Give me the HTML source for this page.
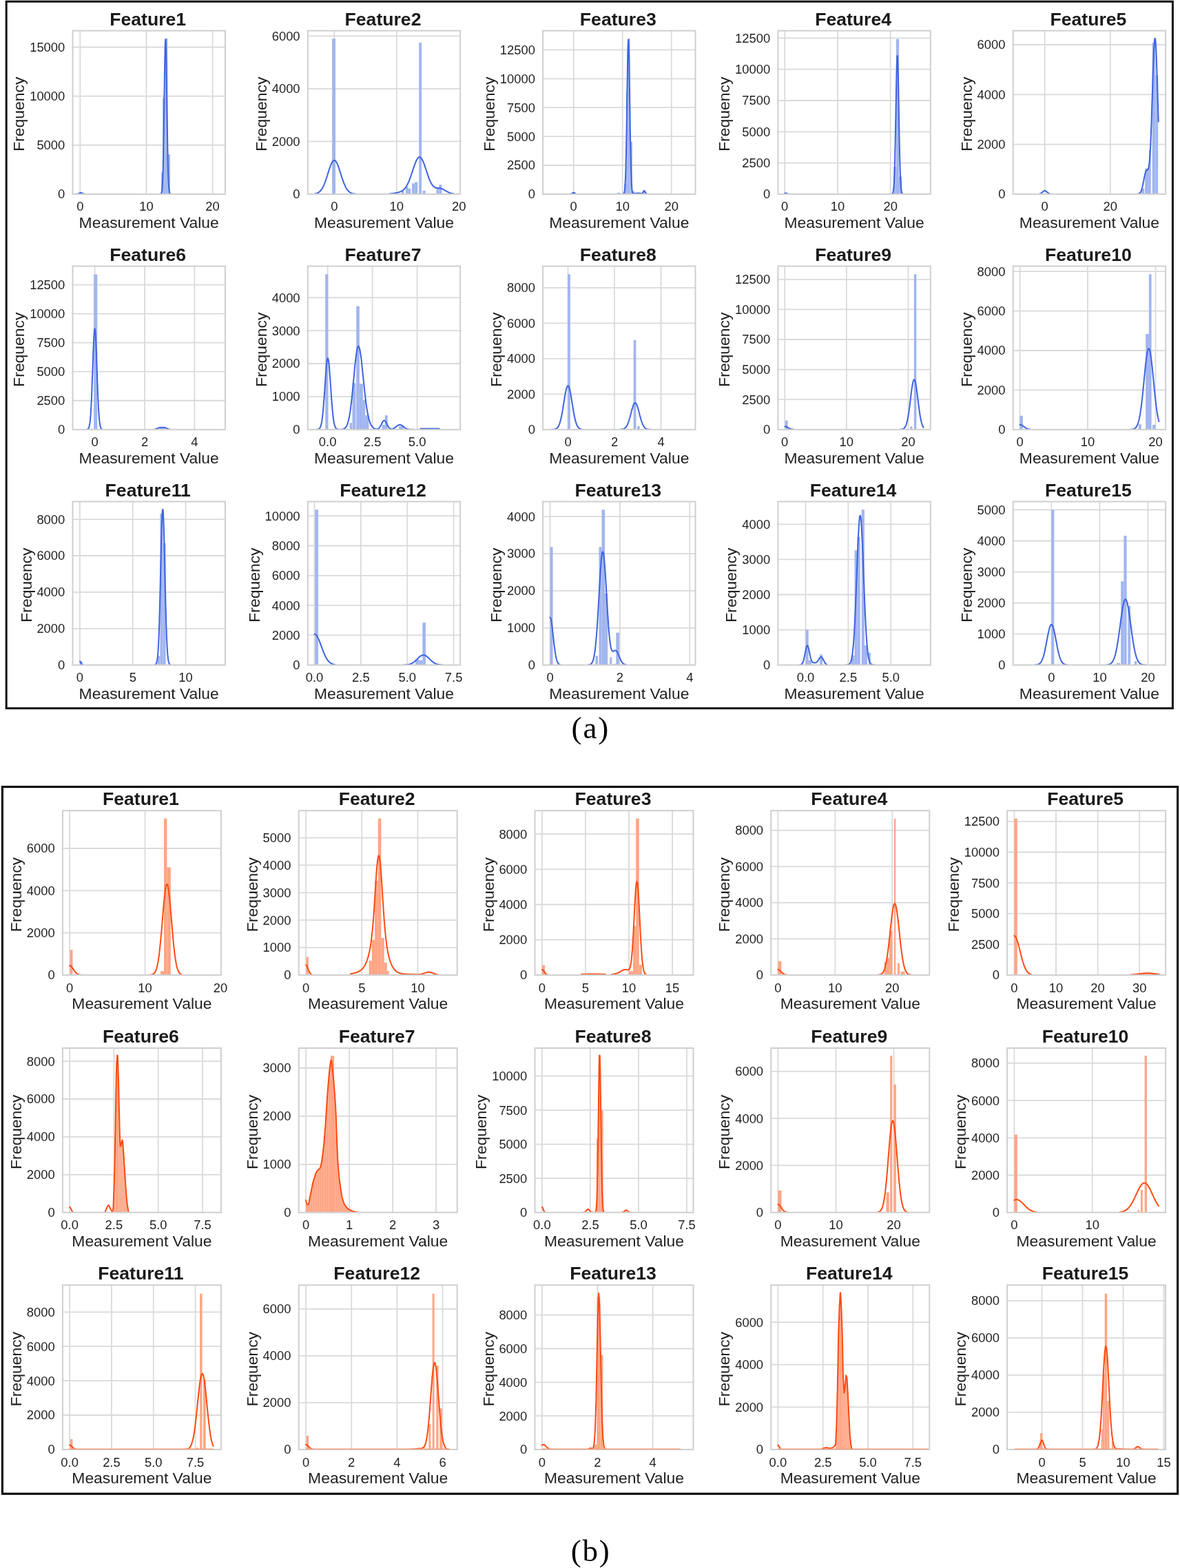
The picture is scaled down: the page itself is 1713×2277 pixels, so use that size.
<!DOCTYPE html>
<html><head><meta charset="utf-8"><title>Feature distributions</title>
<style>
html,body{margin:0;padding:0;background:#fff;}
body{width:1713px;height:2277px;overflow:hidden;}
svg{display:block;}
text{font-family:"Liberation Sans",Arial,sans-serif;fill:#1f1f1f;}
.t{font-weight:bold;text-anchor:middle;fill:#1a1a1a;}
.xt{text-anchor:middle;}
.xl{text-anchor:middle;}
.yt{text-anchor:end;}
.yl{text-anchor:middle;}
.g{stroke:#dadada;stroke-width:1.8;}
.cap{font-family:"Liberation Serif","Times New Roman",serif;fill:#000;text-anchor:middle;}
</style></head>
<body>
<svg width="1713" height="2277" viewBox="0 0 1713 2277">
<rect x="0" y="0" width="1713" height="2277" fill="#fff"/>
<rect x="9.2" y="2.2" width="1693.2" height="1026.4" fill="none" stroke="#000" stroke-width="2.9"/>
<rect x="3.4" y="1142.6" width="1706.2" height="1026.6" fill="none" stroke="#000" stroke-width="3.1"/>
<line x1="116.30" y1="44.60" x2="116.30" y2="281.90" class="g"/><line x1="212.45" y1="44.60" x2="212.45" y2="281.90" class="g"/><line x1="308.60" y1="44.60" x2="308.60" y2="281.90" class="g"/><line x1="105.50" y1="210.77" x2="326.90" y2="210.77" class="g"/><line x1="105.50" y1="139.63" x2="326.90" y2="139.63" class="g"/><line x1="105.50" y1="68.50" x2="326.90" y2="68.50" class="g"/>
<clipPath id="ca1"><rect x="105.50" y="44.60" width="221.40" height="237.30"/></clipPath>
<g clip-path="url(#ca1)">
<g fill="#a1b5ef"><rect x="234.08" y="250.17" width="1.92" height="31.73"/><rect x="236.01" y="141.76" width="3.65" height="140.14"/><rect x="239.66" y="55.69" width="3.65" height="226.21"/><rect x="243.31" y="224.28" width="3.65" height="57.62"/></g>
<polyline fill="none" stroke="#3d63de" stroke-width="2.0" stroke-linejoin="round" stroke-linecap="round" points="229.8,281.9 229.9,281.9 230.0,281.9 230.2,281.9 230.3,281.9 230.4,281.9 230.6,281.9 230.7,281.9 230.8,281.9 231.0,281.9 231.1,281.9 231.2,281.9 231.4,281.9 231.5,281.9 231.6,281.9 231.8,281.9 231.9,281.9 232.0,281.9 232.2,281.9 232.3,281.9 232.4,281.9 232.6,281.8 232.7,281.8 232.8,281.8 232.9,281.8 233.1,281.7 233.2,281.7 233.3,281.6 233.5,281.5 233.6,281.4 233.7,281.3 233.9,281.1 234.0,280.9 234.1,280.6 234.3,280.3 234.4,279.9 234.5,279.5 234.7,278.9 234.8,278.3 234.9,277.5 235.1,276.5 235.2,275.4 235.3,274.1 235.5,272.6 235.6,270.9 235.7,268.9 235.9,266.6 236.0,264.0 236.1,261.0 236.3,257.6 236.4,253.9 236.5,249.7 236.7,245.1 236.8,240.0 236.9,234.5 237.1,228.5 237.2,221.9 237.3,215.0 237.5,207.5 237.6,199.7 237.7,191.4 237.9,182.8 238.0,173.9 238.1,164.7 238.3,155.4 238.4,146.0 238.5,136.6 238.7,127.2 238.8,118.1 238.9,109.2 239.1,100.8 239.2,92.8 239.3,85.4 239.5,78.7 239.6,72.8 239.7,67.7 239.9,63.6 240.0,60.5 240.1,58.3 240.3,57.2 240.4,57.2 240.5,58.3 240.7,60.5 240.8,63.6 240.9,67.7 241.1,72.8 241.2,78.7 241.3,85.4 241.5,92.8 241.6,100.8 241.7,109.2 241.9,118.1 242.0,127.2 242.1,136.6 242.3,146.0 242.4,155.4 242.5,164.7 242.7,173.9 242.8,182.8 242.9,191.4 243.1,199.7 243.2,207.5 243.3,215.0 243.5,221.9 243.6,228.5 243.7,234.5 243.9,240.0 244.0,245.1 244.1,249.7 244.3,253.9 244.4,257.6 244.5,261.0 244.7,264.0 244.8,266.6 244.9,268.9 245.1,270.9 245.2,272.6 245.3,274.1 245.5,275.4 245.6,276.5 245.7,277.5 245.9,278.3 246.0,278.9 246.1,279.5 246.3,279.9 246.4,280.3 246.5,280.6 246.7,280.9 246.8,281.1 246.9,281.3 247.1,281.4 247.2,281.5 247.3,281.6 247.5,281.7 247.6,281.7 247.7,281.8 247.9,281.8 248.0,281.8 248.1,281.8 248.2,281.9 248.4,281.9 248.5,281.9 248.6,281.9 248.8,281.9 248.9,281.9 249.0,281.9 249.2,281.9 249.3,281.9 249.4,281.9 249.6,281.9 249.7,281.9 249.8,281.9 250.0,281.9 250.1,281.9 250.2,281.9 250.4,281.9 250.5,281.9 250.6,281.9 250.8,281.9 250.9,281.9"/>
<polyline fill="none" stroke="#3d63de" stroke-width="2.0" stroke-linejoin="round" stroke-linecap="round" points="112.5,281.6 112.5,281.6 112.6,281.6 112.6,281.6 112.7,281.6 112.8,281.6 112.8,281.6 112.9,281.5 112.9,281.5 113.0,281.5 113.1,281.5 113.1,281.5 113.2,281.5 113.2,281.4 113.3,281.4 113.4,281.4 113.4,281.4 113.5,281.4 113.5,281.3 113.6,281.3 113.7,281.3 113.7,281.3 113.8,281.3 113.8,281.2 113.9,281.2 114.0,281.2 114.0,281.2 114.1,281.1 114.1,281.1 114.2,281.1 114.3,281.0 114.3,281.0 114.4,281.0 114.4,281.0 114.5,280.9 114.6,280.9 114.6,280.9 114.7,280.9 114.8,280.8 114.8,280.8 114.9,280.8 114.9,280.7 115.0,280.7 115.1,280.7 115.1,280.7 115.2,280.6 115.2,280.6 115.3,280.6 115.4,280.5 115.4,280.5 115.5,280.5 115.5,280.5 115.6,280.4 115.7,280.4 115.7,280.4 115.8,280.4 115.8,280.3 115.9,280.3 116.0,280.3 116.0,280.3 116.1,280.3 116.1,280.2 116.2,280.2 116.3,280.2 116.3,280.2 116.4,280.2 116.4,280.2 116.5,280.1 116.6,280.1 116.6,280.1 116.7,280.1 116.7,280.1 116.8,280.1 116.9,280.1 116.9,280.1 117.0,280.1 117.0,280.1 117.1,280.1 117.2,280.1 117.2,280.1 117.3,280.1 117.4,280.1 117.4,280.1 117.5,280.1 117.5,280.1 117.6,280.1 117.7,280.1 117.7,280.1 117.8,280.1 117.8,280.1 117.9,280.1 118.0,280.1 118.0,280.1 118.1,280.2 118.1,280.2 118.2,280.2 118.3,280.2 118.3,280.2 118.4,280.2 118.4,280.3 118.5,280.3 118.6,280.3 118.6,280.3 118.7,280.3 118.7,280.4 118.8,280.4 118.9,280.4 118.9,280.4 119.0,280.5 119.0,280.5 119.1,280.5 119.2,280.5 119.2,280.6 119.3,280.6 119.3,280.6 119.4,280.7 119.5,280.7 119.5,280.7 119.6,280.7 119.7,280.8 119.7,280.8 119.8,280.8 119.8,280.9 119.9,280.9 120.0,280.9 120.0,280.9 120.1,281.0 120.1,281.0 120.2,281.0 120.3,281.0 120.3,281.1 120.4,281.1 120.4,281.1 120.5,281.2 120.6,281.2 120.6,281.2 120.7,281.2 120.7,281.3 120.8,281.3 120.9,281.3 120.9,281.3 121.0,281.3 121.0,281.4 121.1,281.4 121.2,281.4 121.2,281.4 121.3,281.4 121.3,281.5 121.4,281.5 121.5,281.5 121.5,281.5 121.6,281.5 121.6,281.5 121.7,281.6 121.8,281.6 121.8,281.6 121.9,281.6 121.9,281.6 122.0,281.6 122.1,281.6"/>
</g>
<rect x="105.50" y="44.60" width="221.40" height="237.30" fill="none" stroke="#cfcfcf" stroke-width="2.0"/>
<text x="214.70" y="37.20" class="t" font-size="26.6">Feature1</text>
<text x="116.30" y="306.00" class="xt" font-size="18.4">0</text>
<text x="212.45" y="306.00" class="xt" font-size="18.4">10</text>
<text x="308.60" y="306.00" class="xt" font-size="18.4">20</text>
<text x="216.20" y="331.10" class="xl" font-size="22.9">Measurement Value</text>
<text x="94.30" y="288.30" class="yt" font-size="18.4">0</text>
<text x="94.30" y="217.17" class="yt" font-size="18.4">5000</text>
<text x="94.30" y="146.03" class="yt" font-size="18.4">10000</text>
<text x="94.30" y="74.90" class="yt" font-size="18.4">15000</text>
<text transform="translate(35.33,165.75) rotate(-90)" x="0" y="0" class="yl" font-size="22.9">Frequency</text>
<line x1="485.30" y1="44.60" x2="485.30" y2="281.90" class="g"/><line x1="575.80" y1="44.60" x2="575.80" y2="281.90" class="g"/><line x1="446.80" y1="205.40" x2="668.20" y2="205.40" class="g"/><line x1="446.80" y1="128.90" x2="668.20" y2="128.90" class="g"/><line x1="446.80" y1="52.40" x2="668.20" y2="52.40" class="g"/>
<clipPath id="ca2"><rect x="446.80" y="44.60" width="221.40" height="237.30"/></clipPath>
<g clip-path="url(#ca2)">
<g fill="#a1b5ef"><rect x="482.13" y="56.23" width="4.89" height="225.67"/><rect x="582.95" y="276.32" width="3.35" height="5.58"/><rect x="589.10" y="271.11" width="3.62" height="10.79"/><rect x="592.72" y="273.79" width="3.62" height="8.11"/><rect x="598.06" y="266.22" width="4.07" height="15.68"/><rect x="602.14" y="264.31" width="4.16" height="17.59"/><rect x="608.20" y="61.96" width="3.89" height="219.94"/><rect x="613.63" y="276.93" width="3.98" height="4.97"/><rect x="633.45" y="272.91" width="3.98" height="8.99"/><rect x="637.43" y="268.13" width="3.98" height="13.77"/></g>
<polyline fill="none" stroke="#3d63de" stroke-width="2.0" stroke-linejoin="round" stroke-linecap="round" points="457.2,281.4 457.6,281.3 458.0,281.2 458.3,281.2 458.7,281.1 459.1,281.0 459.4,280.9 459.8,280.7 460.2,280.6 460.5,280.5 460.9,280.3 461.3,280.1 461.6,280.0 462.0,279.8 462.3,279.5 462.7,279.3 463.1,279.0 463.4,278.8 463.8,278.5 464.2,278.2 464.5,277.8 464.9,277.4 465.3,277.0 465.6,276.6 466.0,276.2 466.4,275.7 466.7,275.2 467.1,274.6 467.4,274.1 467.8,273.5 468.2,272.8 468.5,272.2 468.9,271.5 469.3,270.7 469.6,270.0 470.0,269.2 470.4,268.3 470.7,267.5 471.1,266.6 471.5,265.6 471.8,264.7 472.2,263.7 472.5,262.7 472.9,261.6 473.3,260.6 473.6,259.5 474.0,258.4 474.4,257.3 474.7,256.1 475.1,255.0 475.5,253.8 475.8,252.7 476.2,251.5 476.6,250.4 476.9,249.2 477.3,248.1 477.6,246.9 478.0,245.8 478.4,244.7 478.7,243.7 479.1,242.6 479.5,241.6 479.8,240.7 480.2,239.7 480.6,238.8 480.9,238.0 481.3,237.2 481.7,236.5 482.0,235.9 482.4,235.2 482.7,234.7 483.1,234.2 483.5,233.8 483.8,233.5 484.2,233.2 484.6,233.1 484.9,232.9 485.3,232.9 485.7,232.9 486.0,233.0 486.4,233.2 486.8,233.5 487.1,233.8 487.5,234.2 487.8,234.7 488.2,235.2 488.6,235.8 488.9,236.5 489.3,237.2 489.7,238.0 490.0,238.8 490.4,239.7 490.8,240.6 491.1,241.6 491.5,242.6 491.9,243.6 492.2,244.7 492.6,245.8 492.9,246.9 493.3,248.0 493.7,249.2 494.0,250.3 494.4,251.5 494.8,252.6 495.1,253.8 495.5,255.0 495.9,256.1 496.2,257.2 496.6,258.4 497.0,259.5 497.3,260.6 497.7,261.6 498.0,262.7 498.4,263.7 498.8,264.7 499.1,265.6 499.5,266.5 499.9,267.4 500.2,268.3 500.6,269.1 501.0,269.9 501.3,270.7 501.7,271.5 502.1,272.2 502.4,272.8 502.8,273.5 503.1,274.1 503.5,274.6 503.9,275.2 504.2,275.7 504.6,276.2 505.0,276.6 505.3,277.0 505.7,277.4 506.1,277.8 506.4,278.1 506.8,278.5 507.2,278.8 507.5,279.0 507.9,279.3 508.2,279.5 508.6,279.7 509.0,280.0 509.3,280.1 509.7,280.3 510.1,280.5 510.4,280.6 510.8,280.7 511.2,280.9 511.5,281.0 511.9,281.1 512.3,281.2 512.6,281.2 513.0,281.3 513.3,281.4 513.7,281.4 514.1,281.5 514.4,281.5 514.8,281.6 515.2,281.6"/>
<polyline fill="none" stroke="#3d63de" stroke-width="2.0" stroke-linejoin="round" stroke-linecap="round" points="565.4,281.4 566.0,281.4 566.6,281.3 567.2,281.3 567.7,281.2 568.3,281.2 568.9,281.1 569.5,281.0 570.1,280.9 570.7,280.9 571.3,280.8 571.9,280.7 572.5,280.6 573.1,280.5 573.6,280.4 574.2,280.3 574.8,280.2 575.4,280.1 576.0,280.0 576.6,279.8 577.2,279.7 577.8,279.6 578.4,279.4 578.9,279.2 579.5,279.0 580.1,278.8 580.7,278.6 581.3,278.4 581.9,278.1 582.5,277.9 583.1,277.5 583.7,277.2 584.2,276.8 584.8,276.4 585.4,275.9 586.0,275.4 586.6,274.9 587.2,274.3 587.8,273.6 588.4,272.9 589.0,272.1 589.5,271.2 590.1,270.3 590.7,269.3 591.3,268.2 591.9,267.0 592.5,265.8 593.1,264.5 593.7,263.1 594.3,261.7 594.8,260.1 595.4,258.5 596.0,256.9 596.6,255.2 597.2,253.5 597.8,251.7 598.4,249.9 599.0,248.1 599.6,246.3 600.1,244.6 600.7,242.8 601.3,241.1 601.9,239.4 602.5,237.8 603.1,236.3 603.7,234.9 604.3,233.5 604.9,232.3 605.5,231.3 606.0,230.4 606.6,229.6 607.2,229.0 607.8,228.5 608.4,228.3 609.0,228.2 609.6,228.2 610.2,228.5 610.8,228.9 611.3,229.5 611.9,230.2 612.5,231.1 613.1,232.2 613.7,233.4 614.3,234.7 614.9,236.1 615.5,237.6 616.1,239.2 616.6,240.9 617.2,242.6 617.8,244.4 618.4,246.2 619.0,248.0 619.6,249.8 620.2,251.6 620.8,253.3 621.4,255.1 621.9,256.7 622.5,258.3 623.1,259.9 623.7,261.3 624.3,262.7 624.9,264.0 625.5,265.2 626.1,266.3 626.7,267.3 627.2,268.2 627.8,269.0 628.4,269.7 629.0,270.3 629.6,270.9 630.2,271.3 630.8,271.7 631.4,272.0 632.0,272.3 632.6,272.5 633.1,272.7 633.7,272.8 634.3,272.9 634.9,273.0 635.5,273.1 636.1,273.1 636.7,273.2 637.3,273.2 637.9,273.3 638.4,273.4 639.0,273.5 639.6,273.6 640.2,273.8 640.8,274.0 641.4,274.2 642.0,274.4 642.6,274.6 643.2,274.9 643.7,275.2 644.3,275.5 644.9,275.8 645.5,276.2 646.1,276.5 646.7,276.9 647.3,277.2 647.9,277.5 648.5,277.9 649.0,278.2 649.6,278.5 650.2,278.8 650.8,279.1 651.4,279.4 652.0,279.7 652.6,279.9 653.2,280.2 653.8,280.4 654.3,280.6 654.9,280.7 655.5,280.9 656.1,281.0 656.7,281.1 657.3,281.3 657.9,281.4 658.5,281.4 659.1,281.5"/>
</g>
<rect x="446.80" y="44.60" width="221.40" height="237.30" fill="none" stroke="#cfcfcf" stroke-width="2.0"/>
<text x="556.00" y="37.20" class="t" font-size="26.6">Feature2</text>
<text x="485.30" y="306.00" class="xt" font-size="18.4">0</text>
<text x="575.80" y="306.00" class="xt" font-size="18.4">10</text>
<text x="666.30" y="306.00" class="xt" font-size="18.4">20</text>
<text x="557.50" y="331.10" class="xl" font-size="22.9">Measurement Value</text>
<text x="435.60" y="288.30" class="yt" font-size="18.4">0</text>
<text x="435.60" y="211.80" class="yt" font-size="18.4">2000</text>
<text x="435.60" y="135.30" class="yt" font-size="18.4">4000</text>
<text x="435.60" y="58.80" class="yt" font-size="18.4">6000</text>
<text transform="translate(386.87,165.75) rotate(-90)" x="0" y="0" class="yl" font-size="22.9">Frequency</text>
<line x1="832.70" y1="44.60" x2="832.70" y2="281.90" class="g"/><line x1="903.70" y1="44.60" x2="903.70" y2="281.90" class="g"/><line x1="974.70" y1="44.60" x2="974.70" y2="281.90" class="g"/><line x1="788.10" y1="240.00" x2="1009.50" y2="240.00" class="g"/><line x1="788.10" y1="198.10" x2="1009.50" y2="198.10" class="g"/><line x1="788.10" y1="156.20" x2="1009.50" y2="156.20" class="g"/><line x1="788.10" y1="114.30" x2="1009.50" y2="114.30" class="g"/><line x1="788.10" y1="72.40" x2="1009.50" y2="72.40" class="g"/>
<clipPath id="ca3"><rect x="788.10" y="44.60" width="221.40" height="237.30"/></clipPath>
<g clip-path="url(#ca3)">
<g fill="#a1b5ef"><rect x="906.19" y="266.82" width="2.91" height="15.08"/><rect x="909.10" y="134.01" width="2.13" height="147.89"/><rect x="911.23" y="55.91" width="3.27" height="225.99"/><rect x="914.49" y="205.91" width="3.48" height="75.99"/><rect x="917.97" y="277.71" width="3.48" height="4.19"/><rect x="933.52" y="276.87" width="3.55" height="5.03"/></g>
<polyline fill="none" stroke="#3d63de" stroke-width="2.0" stroke-linejoin="round" stroke-linecap="round" points="895.2,281.9 895.5,281.9 895.7,281.8 896.0,281.8 896.3,281.7 896.6,281.6 896.8,281.5 897.1,281.4 897.4,281.3 897.7,281.3 897.9,281.2 898.2,281.2 898.5,281.3 898.8,281.4 899.1,281.5 899.3,281.6 899.6,281.7 899.9,281.8 900.2,281.8 900.4,281.8 900.7,281.9 901.0,281.9 901.3,281.9 901.5,281.9 901.8,281.9 902.1,281.9 902.4,281.9 902.7,281.9 902.9,281.9 903.2,281.9 903.5,281.9 903.8,281.9 904.0,281.9 904.3,281.8 904.6,281.8 904.9,281.7 905.1,281.5 905.4,281.2 905.7,280.9 906.0,280.3 906.3,279.4 906.5,278.2 906.8,276.4 907.1,273.9 907.4,270.6 907.6,266.1 907.9,260.4 908.2,253.1 908.5,244.0 908.7,233.1 909.0,220.3 909.3,205.6 909.6,189.1 909.9,171.3 910.1,152.6 910.4,133.7 910.7,115.3 911.0,98.1 911.2,83.1 911.5,71.0 911.8,62.5 912.1,57.9 912.3,57.7 912.6,61.8 912.9,70.0 913.2,81.8 913.5,96.5 913.7,113.5 914.0,131.8 914.3,150.8 914.6,169.5 914.8,187.4 915.1,203.9 915.4,218.8 915.7,231.8 915.9,242.9 916.2,252.1 916.5,259.5 916.8,265.4 917.1,270.0 917.3,273.4 917.6,275.9 917.9,277.7 918.2,279.0 918.4,279.8 918.7,280.4 919.0,280.8 919.3,281.0 919.5,281.1 919.8,281.2 920.1,281.2 920.4,281.2 920.7,281.2 920.9,281.2 921.2,281.1 921.5,281.1 921.8,281.0 922.0,281.0 922.3,280.9 922.6,280.9 922.9,280.9 923.1,280.8 923.4,280.8 923.7,280.7 924.0,280.7 924.2,280.7 924.5,280.7 924.8,280.6 925.1,280.6 925.4,280.6 925.6,280.6 925.9,280.6 926.2,280.6 926.5,280.6 926.7,280.6 927.0,280.6 927.3,280.6 927.6,280.6 927.8,280.6 928.1,280.6 928.4,280.7 928.7,280.7 929.0,280.7 929.2,280.8 929.5,280.8 929.8,280.8 930.1,280.9 930.3,280.9 930.6,280.9 930.9,281.0 931.2,281.0 931.4,281.0 931.7,280.9 932.0,280.9 932.3,280.7 932.6,280.5 932.8,280.3 933.1,279.9 933.4,279.5 933.7,279.0 933.9,278.5 934.2,278.0 934.5,277.5 934.8,277.2 935.0,277.0 935.3,276.9 935.6,277.1 935.9,277.4 936.2,277.8 936.4,278.3 936.7,278.9 937.0,279.4 937.3,280.0 937.5,280.4 937.8,280.8 938.1,281.1 938.4,281.4 938.6,281.5 938.9,281.7 939.2,281.7"/>
<polyline fill="none" stroke="#3d63de" stroke-width="2.0" stroke-linejoin="round" stroke-linecap="round" points="829.2,281.6 829.2,281.6 829.2,281.6 829.3,281.6 829.3,281.5 829.4,281.5 829.4,281.5 829.5,281.5 829.5,281.5 829.6,281.4 829.6,281.4 829.6,281.4 829.7,281.4 829.7,281.4 829.8,281.3 829.8,281.3 829.9,281.3 829.9,281.3 830.0,281.2 830.0,281.2 830.0,281.2 830.1,281.2 830.1,281.1 830.2,281.1 830.2,281.1 830.3,281.0 830.3,281.0 830.4,281.0 830.4,281.0 830.4,280.9 830.5,280.9 830.5,280.9 830.6,280.8 830.6,280.8 830.7,280.8 830.7,280.7 830.8,280.7 830.8,280.7 830.8,280.6 830.9,280.6 830.9,280.6 831.0,280.5 831.0,280.5 831.1,280.5 831.1,280.4 831.2,280.4 831.2,280.4 831.2,280.3 831.3,280.3 831.3,280.3 831.4,280.2 831.4,280.2 831.5,280.2 831.5,280.2 831.6,280.1 831.6,280.1 831.7,280.1 831.7,280.0 831.7,280.0 831.8,280.0 831.8,280.0 831.9,279.9 831.9,279.9 832.0,279.9 832.0,279.9 832.1,279.9 832.1,279.8 832.1,279.8 832.2,279.8 832.2,279.8 832.3,279.8 832.3,279.8 832.4,279.8 832.4,279.8 832.5,279.7 832.5,279.7 832.5,279.7 832.6,279.7 832.6,279.7 832.7,279.7 832.7,279.7 832.8,279.7 832.8,279.7 832.9,279.7 832.9,279.7 832.9,279.7 833.0,279.8 833.0,279.8 833.1,279.8 833.1,279.8 833.2,279.8 833.2,279.8 833.3,279.8 833.3,279.8 833.3,279.9 833.4,279.9 833.4,279.9 833.5,279.9 833.5,279.9 833.6,280.0 833.6,280.0 833.7,280.0 833.7,280.0 833.7,280.1 833.8,280.1 833.8,280.1 833.9,280.2 833.9,280.2 834.0,280.2 834.0,280.2 834.1,280.3 834.1,280.3 834.2,280.3 834.2,280.4 834.2,280.4 834.3,280.4 834.3,280.5 834.4,280.5 834.4,280.5 834.5,280.6 834.5,280.6 834.6,280.6 834.6,280.7 834.6,280.7 834.7,280.7 834.7,280.8 834.8,280.8 834.8,280.8 834.9,280.9 834.9,280.9 835.0,280.9 835.0,281.0 835.0,281.0 835.1,281.0 835.1,281.0 835.2,281.1 835.2,281.1 835.3,281.1 835.3,281.2 835.4,281.2 835.4,281.2 835.4,281.2 835.5,281.3 835.5,281.3 835.6,281.3 835.6,281.3 835.7,281.4 835.7,281.4 835.8,281.4 835.8,281.4 835.8,281.4 835.9,281.5 835.9,281.5 836.0,281.5 836.0,281.5 836.1,281.5 836.1,281.6 836.2,281.6 836.2,281.6 836.2,281.6"/>
</g>
<rect x="788.10" y="44.60" width="221.40" height="237.30" fill="none" stroke="#cfcfcf" stroke-width="2.0"/>
<text x="897.30" y="37.20" class="t" font-size="26.6">Feature3</text>
<text x="832.70" y="306.00" class="xt" font-size="18.4">0</text>
<text x="903.70" y="306.00" class="xt" font-size="18.4">10</text>
<text x="974.70" y="306.00" class="xt" font-size="18.4">20</text>
<text x="898.80" y="331.10" class="xl" font-size="22.9">Measurement Value</text>
<text x="776.90" y="288.30" class="yt" font-size="18.4">0</text>
<text x="776.90" y="246.40" class="yt" font-size="18.4">2500</text>
<text x="776.90" y="204.50" class="yt" font-size="18.4">5000</text>
<text x="776.90" y="162.60" class="yt" font-size="18.4">7500</text>
<text x="776.90" y="120.70" class="yt" font-size="18.4">10000</text>
<text x="776.90" y="78.80" class="yt" font-size="18.4">12500</text>
<text transform="translate(717.93,165.75) rotate(-90)" x="0" y="0" class="yl" font-size="22.9">Frequency</text>
<line x1="1139.20" y1="44.60" x2="1139.20" y2="281.90" class="g"/><line x1="1215.95" y1="44.60" x2="1215.95" y2="281.90" class="g"/><line x1="1292.70" y1="44.60" x2="1292.70" y2="281.90" class="g"/><line x1="1129.40" y1="236.60" x2="1350.80" y2="236.60" class="g"/><line x1="1129.40" y1="191.30" x2="1350.80" y2="191.30" class="g"/><line x1="1129.40" y1="146.00" x2="1350.80" y2="146.00" class="g"/><line x1="1129.40" y1="100.70" x2="1350.80" y2="100.70" class="g"/><line x1="1129.40" y1="55.40" x2="1350.80" y2="55.40" class="g"/>
<clipPath id="ca4"><rect x="1129.40" y="44.60" width="221.40" height="237.30"/></clipPath>
<g clip-path="url(#ca4)">
<g fill="#a1b5ef"><rect x="1297.31" y="242.04" width="3.53" height="39.86"/><rect x="1300.84" y="56.67" width="4.30" height="225.23"/><rect x="1305.13" y="256.35" width="4.22" height="25.55"/></g>
<polyline fill="none" stroke="#3d63de" stroke-width="2.0" stroke-linejoin="round" stroke-linecap="round" points="1294.2,281.8 1294.4,281.8 1294.5,281.8 1294.6,281.7 1294.8,281.7 1294.9,281.6 1295.0,281.5 1295.1,281.5 1295.3,281.4 1295.4,281.2 1295.5,281.1 1295.7,280.9 1295.8,280.7 1295.9,280.4 1296.1,280.1 1296.2,279.8 1296.3,279.4 1296.5,278.9 1296.6,278.3 1296.7,277.6 1296.8,276.9 1297.0,276.0 1297.1,275.0 1297.2,273.8 1297.4,272.5 1297.5,270.9 1297.6,269.2 1297.8,267.3 1297.9,265.2 1298.0,262.8 1298.1,260.1 1298.3,257.2 1298.4,254.0 1298.5,250.5 1298.7,246.7 1298.8,242.5 1298.9,238.0 1299.1,233.2 1299.2,228.1 1299.3,222.6 1299.4,216.9 1299.6,210.8 1299.7,204.4 1299.8,197.8 1300.0,191.0 1300.1,183.9 1300.2,176.7 1300.4,169.4 1300.5,162.0 1300.6,154.6 1300.8,147.3 1300.9,140.0 1301.0,132.9 1301.1,126.1 1301.3,119.5 1301.4,113.2 1301.5,107.3 1301.7,101.9 1301.8,97.1 1301.9,92.7 1302.1,89.0 1302.2,86.0 1302.3,83.6 1302.4,81.9 1302.6,81.0 1302.7,80.8 1302.8,81.3 1303.0,82.6 1303.1,84.6 1303.2,87.3 1303.4,90.6 1303.5,94.6 1303.6,99.2 1303.7,104.3 1303.9,109.9 1304.0,115.9 1304.1,122.3 1304.3,129.1 1304.4,136.1 1304.5,143.2 1304.7,150.6 1304.8,157.9 1304.9,165.3 1305.1,172.7 1305.2,180.0 1305.3,187.1 1305.4,194.0 1305.6,200.8 1305.7,207.3 1305.8,213.5 1306.0,219.5 1306.1,225.1 1306.2,230.4 1306.4,235.4 1306.5,240.1 1306.6,244.4 1306.7,248.4 1306.9,252.1 1307.0,255.5 1307.1,258.6 1307.3,261.4 1307.4,263.9 1307.5,266.2 1307.7,268.2 1307.8,270.0 1307.9,271.6 1308.0,273.1 1308.2,274.3 1308.3,275.4 1308.4,276.4 1308.6,277.2 1308.7,277.9 1308.8,278.6 1309.0,279.1 1309.1,279.6 1309.2,280.0 1309.4,280.3 1309.5,280.6 1309.6,280.8 1309.7,281.0 1309.9,281.2 1310.0,281.3 1310.1,281.4 1310.3,281.5 1310.4,281.6 1310.5,281.6 1310.7,281.7 1310.8,281.7 1310.9,281.8 1311.0,281.8 1311.2,281.8 1311.3,281.8 1311.4,281.9 1311.6,281.9 1311.7,281.9 1311.8,281.9 1312.0,281.9 1312.1,281.9 1312.2,281.9 1312.4,281.9 1312.5,281.9 1312.6,281.9 1312.7,281.9 1312.9,281.9 1313.0,281.9 1313.1,281.9 1313.3,281.9 1313.4,281.9 1313.5,281.9 1313.7,281.9 1313.8,281.9 1313.9,281.9 1314.0,281.9 1314.2,281.9 1314.3,281.9 1314.4,281.9 1314.6,281.9 1314.7,281.9 1314.8,281.9 1315.0,281.9"/>
<polyline fill="none" stroke="#3d63de" stroke-width="2.0" stroke-linejoin="round" stroke-linecap="round" points="1139.2,281.0 1139.2,281.0 1139.3,281.0 1139.3,281.0 1139.3,281.0 1139.3,280.9 1139.4,280.9 1139.4,280.9 1139.4,280.9 1139.5,280.9 1139.5,280.9 1139.5,280.8 1139.5,280.8 1139.6,280.8 1139.6,280.8 1139.6,280.8 1139.7,280.8 1139.7,280.7 1139.7,280.7 1139.8,280.7 1139.8,280.7 1139.8,280.7 1139.8,280.7 1139.9,280.7 1139.9,280.7 1139.9,280.6 1140.0,280.6 1140.0,280.6 1140.0,280.6 1140.0,280.6 1140.1,280.6 1140.1,280.6 1140.1,280.6 1140.2,280.6 1140.2,280.5 1140.2,280.5 1140.2,280.5 1140.3,280.5 1140.3,280.5 1140.3,280.5 1140.4,280.5 1140.4,280.5 1140.4,280.5 1140.4,280.5 1140.5,280.5 1140.5,280.5 1140.5,280.5 1140.6,280.5 1140.6,280.5 1140.6,280.5 1140.6,280.5 1140.7,280.5 1140.7,280.5 1140.7,280.5 1140.8,280.5 1140.8,280.5 1140.8,280.5 1140.9,280.5 1140.9,280.5 1140.9,280.5 1140.9,280.5 1141.0,280.5 1141.0,280.5 1141.0,280.5 1141.1,280.5 1141.1,280.5 1141.1,280.5 1141.1,280.5 1141.2,280.5 1141.2,280.5 1141.2,280.5 1141.3,280.5 1141.3,280.5 1141.3,280.6 1141.3,280.6 1141.4,280.6 1141.4,280.6 1141.4,280.6 1141.5,280.6 1141.5,280.6 1141.5,280.6 1141.5,280.6 1141.6,280.7 1141.6,280.7 1141.6,280.7 1141.7,280.7 1141.7,280.7 1141.7,280.7 1141.7,280.7 1141.8,280.7 1141.8,280.8 1141.8,280.8 1141.9,280.8 1141.9,280.8 1141.9,280.8 1142.0,280.8 1142.0,280.9 1142.0,280.9 1142.0,280.9 1142.1,280.9 1142.1,280.9 1142.1,280.9 1142.2,281.0 1142.2,281.0 1142.2,281.0 1142.2,281.0 1142.3,281.0 1142.3,281.0 1142.3,281.1 1142.4,281.1 1142.4,281.1 1142.4,281.1 1142.4,281.1 1142.5,281.1 1142.5,281.2 1142.5,281.2 1142.6,281.2 1142.6,281.2 1142.6,281.2 1142.6,281.2 1142.7,281.2 1142.7,281.3 1142.7,281.3 1142.8,281.3 1142.8,281.3 1142.8,281.3 1142.8,281.3 1142.9,281.4 1142.9,281.4 1142.9,281.4 1143.0,281.4 1143.0,281.4 1143.0,281.4 1143.1,281.4 1143.1,281.4 1143.1,281.5 1143.1,281.5 1143.2,281.5 1143.2,281.5 1143.2,281.5 1143.3,281.5 1143.3,281.5 1143.3,281.5 1143.3,281.6 1143.4,281.6 1143.4,281.6 1143.4,281.6 1143.5,281.6 1143.5,281.6 1143.5,281.6 1143.5,281.6 1143.6,281.6 1143.6,281.6 1143.6,281.7 1143.7,281.7 1143.7,281.7 1143.7,281.7 1143.7,281.7 1143.8,281.7 1143.8,281.7"/>
</g>
<rect x="1129.40" y="44.60" width="221.40" height="237.30" fill="none" stroke="#cfcfcf" stroke-width="2.0"/>
<text x="1238.60" y="37.20" class="t" font-size="26.6">Feature4</text>
<text x="1139.20" y="306.00" class="xt" font-size="18.4">0</text>
<text x="1215.95" y="306.00" class="xt" font-size="18.4">10</text>
<text x="1292.70" y="306.00" class="xt" font-size="18.4">20</text>
<text x="1240.10" y="331.10" class="xl" font-size="22.9">Measurement Value</text>
<text x="1118.20" y="288.30" class="yt" font-size="18.4">0</text>
<text x="1118.20" y="243.00" class="yt" font-size="18.4">2500</text>
<text x="1118.20" y="197.70" class="yt" font-size="18.4">5000</text>
<text x="1118.20" y="152.40" class="yt" font-size="18.4">7500</text>
<text x="1118.20" y="107.10" class="yt" font-size="18.4">10000</text>
<text x="1118.20" y="61.80" class="yt" font-size="18.4">12500</text>
<text transform="translate(1059.23,165.75) rotate(-90)" x="0" y="0" class="yl" font-size="22.9">Frequency</text>
<line x1="1516.70" y1="44.60" x2="1516.70" y2="281.90" class="g"/><line x1="1611.80" y1="44.60" x2="1611.80" y2="281.90" class="g"/><line x1="1470.70" y1="209.60" x2="1692.10" y2="209.60" class="g"/><line x1="1470.70" y1="137.30" x2="1692.10" y2="137.30" class="g"/><line x1="1470.70" y1="65.00" x2="1692.10" y2="65.00" class="g"/>
<clipPath id="ca5"><rect x="1470.70" y="44.60" width="221.40" height="237.30"/></clipPath>
<g clip-path="url(#ca5)">
<g fill="#a1b5ef"><rect x="1656.97" y="273.59" width="4.28" height="8.31"/><rect x="1662.20" y="244.67" width="5.71" height="37.23"/><rect x="1667.91" y="218.28" width="2.85" height="63.62"/><rect x="1672.66" y="62.11" width="4.76" height="219.79"/><rect x="1677.42" y="109.10" width="3.80" height="172.80"/></g>
<polyline fill="none" stroke="#3d63de" stroke-width="2.0" stroke-linejoin="round" stroke-linecap="round" points="1647.5,281.9 1647.7,281.9 1647.9,281.9 1648.1,281.9 1648.3,281.9 1648.5,281.9 1648.8,281.9 1649.0,281.9 1649.2,281.9 1649.4,281.9 1649.6,281.9 1649.8,281.9 1650.0,281.9 1650.3,281.9 1650.5,281.8 1650.7,281.8 1650.9,281.8 1651.1,281.8 1651.3,281.8 1651.6,281.8 1651.8,281.7 1652.0,281.7 1652.2,281.7 1652.4,281.6 1652.6,281.6 1652.8,281.5 1653.1,281.4 1653.3,281.3 1653.5,281.2 1653.7,281.1 1653.9,281.0 1654.1,280.8 1654.4,280.7 1654.6,280.5 1654.8,280.3 1655.0,280.0 1655.2,279.8 1655.4,279.5 1655.6,279.2 1655.9,278.8 1656.1,278.4 1656.3,278.0 1656.5,277.5 1656.7,277.0 1656.9,276.4 1657.2,275.8 1657.4,275.1 1657.6,274.4 1657.8,273.7 1658.0,272.9 1658.2,272.0 1658.4,271.1 1658.7,270.2 1658.9,269.2 1659.1,268.2 1659.3,267.2 1659.5,266.1 1659.7,265.0 1660.0,263.9 1660.2,262.8 1660.4,261.7 1660.6,260.6 1660.8,259.4 1661.0,258.3 1661.2,257.2 1661.5,256.2 1661.7,255.2 1661.9,254.2 1662.1,253.2 1662.3,252.4 1662.5,251.5 1662.8,250.8 1663.0,250.1 1663.2,249.5 1663.4,248.9 1663.6,248.4 1663.8,248.0 1664.0,247.7 1664.3,247.4 1664.5,247.2 1664.7,247.0 1664.9,246.9 1665.1,246.8 1665.3,246.7 1665.5,246.6 1665.8,246.5 1666.0,246.4 1666.2,246.2 1666.4,246.0 1666.6,245.7 1666.8,245.3 1667.1,244.7 1667.3,244.1 1667.5,243.2 1667.7,242.2 1667.9,241.0 1668.1,239.5 1668.3,237.8 1668.6,235.8 1668.8,233.6 1669.0,231.1 1669.2,228.2 1669.4,225.1 1669.6,221.6 1669.9,217.8 1670.1,213.7 1670.3,209.2 1670.5,204.4 1670.7,199.3 1670.9,193.9 1671.1,188.3 1671.4,182.3 1671.6,176.1 1671.8,169.7 1672.0,163.1 1672.2,156.4 1672.4,149.5 1672.7,142.6 1672.9,135.6 1673.1,128.6 1673.3,121.7 1673.5,114.9 1673.7,108.2 1673.9,101.8 1674.2,95.6 1674.4,89.7 1674.6,84.1 1674.8,78.9 1675.0,74.2 1675.2,69.9 1675.5,66.2 1675.7,62.9 1675.9,60.3 1676.1,58.3 1676.3,56.8 1676.5,56.0 1676.7,55.8 1677.0,56.3 1677.2,57.4 1677.4,59.1 1677.6,61.5 1677.8,64.4 1678.0,67.9 1678.3,71.9 1678.5,76.4 1678.7,81.4 1678.9,86.9 1679.1,92.7 1679.3,98.9 1679.5,105.4 1679.8,112.1 1680.0,119.0 1680.2,126.1 1680.4,133.3 1680.6,140.6 1680.8,147.9 1681.1,155.2 1681.3,162.4 1681.5,169.5 1681.7,176.5"/>
<polyline fill="none" stroke="#3d63de" stroke-width="2.0" stroke-linejoin="round" stroke-linecap="round" points="1509.6,281.4 1509.7,281.4 1509.7,281.3 1509.8,281.3 1509.9,281.3 1510.0,281.3 1510.1,281.2 1510.2,281.2 1510.3,281.1 1510.4,281.1 1510.5,281.1 1510.6,281.0 1510.6,281.0 1510.7,280.9 1510.8,280.9 1510.9,280.8 1511.0,280.8 1511.1,280.7 1511.2,280.7 1511.3,280.6 1511.4,280.6 1511.5,280.5 1511.5,280.4 1511.6,280.4 1511.7,280.3 1511.8,280.2 1511.9,280.2 1512.0,280.1 1512.1,280.0 1512.2,280.0 1512.3,279.9 1512.3,279.8 1512.4,279.7 1512.5,279.7 1512.6,279.6 1512.7,279.5 1512.8,279.4 1512.9,279.4 1513.0,279.3 1513.1,279.2 1513.2,279.1 1513.2,279.1 1513.3,279.0 1513.4,278.9 1513.5,278.8 1513.6,278.7 1513.7,278.7 1513.8,278.6 1513.9,278.5 1514.0,278.4 1514.1,278.3 1514.1,278.3 1514.2,278.2 1514.3,278.1 1514.4,278.0 1514.5,278.0 1514.6,277.9 1514.7,277.8 1514.8,277.8 1514.9,277.7 1515.0,277.6 1515.0,277.6 1515.1,277.5 1515.2,277.5 1515.3,277.4 1515.4,277.4 1515.5,277.3 1515.6,277.3 1515.7,277.2 1515.8,277.2 1515.8,277.2 1515.9,277.1 1516.0,277.1 1516.1,277.1 1516.2,277.1 1516.3,277.1 1516.4,277.0 1516.5,277.0 1516.6,277.0 1516.7,277.0 1516.7,277.0 1516.8,277.0 1516.9,277.0 1517.0,277.0 1517.1,277.1 1517.2,277.1 1517.3,277.1 1517.4,277.1 1517.5,277.1 1517.6,277.2 1517.6,277.2 1517.7,277.2 1517.8,277.3 1517.9,277.3 1518.0,277.4 1518.1,277.4 1518.2,277.5 1518.3,277.5 1518.4,277.6 1518.4,277.6 1518.5,277.7 1518.6,277.8 1518.7,277.8 1518.8,277.9 1518.9,278.0 1519.0,278.0 1519.1,278.1 1519.2,278.2 1519.3,278.3 1519.3,278.3 1519.4,278.4 1519.5,278.5 1519.6,278.6 1519.7,278.7 1519.8,278.7 1519.9,278.8 1520.0,278.9 1520.1,279.0 1520.2,279.1 1520.2,279.1 1520.3,279.2 1520.4,279.3 1520.5,279.4 1520.6,279.4 1520.7,279.5 1520.8,279.6 1520.9,279.7 1521.0,279.7 1521.1,279.8 1521.1,279.9 1521.2,280.0 1521.3,280.0 1521.4,280.1 1521.5,280.2 1521.6,280.2 1521.7,280.3 1521.8,280.4 1521.9,280.4 1521.9,280.5 1522.0,280.6 1522.1,280.6 1522.2,280.7 1522.3,280.7 1522.4,280.8 1522.5,280.8 1522.6,280.9 1522.7,280.9 1522.8,281.0 1522.8,281.0 1522.9,281.1 1523.0,281.1 1523.1,281.1 1523.2,281.2 1523.3,281.2 1523.4,281.3 1523.5,281.3 1523.6,281.3 1523.7,281.3 1523.7,281.4 1523.8,281.4"/>
</g>
<rect x="1470.70" y="44.60" width="221.40" height="237.30" fill="none" stroke="#cfcfcf" stroke-width="2.0"/>
<text x="1579.90" y="37.20" class="t" font-size="26.6">Feature5</text>
<text x="1516.70" y="306.00" class="xt" font-size="18.4">0</text>
<text x="1611.80" y="306.00" class="xt" font-size="18.4">20</text>
<text x="1581.40" y="331.10" class="xl" font-size="22.9">Measurement Value</text>
<text x="1459.50" y="288.30" class="yt" font-size="18.4">0</text>
<text x="1459.50" y="216.00" class="yt" font-size="18.4">2000</text>
<text x="1459.50" y="143.70" class="yt" font-size="18.4">4000</text>
<text x="1459.50" y="71.40" class="yt" font-size="18.4">6000</text>
<text transform="translate(1410.77,165.75) rotate(-90)" x="0" y="0" class="yl" font-size="22.9">Frequency</text>
<line x1="137.60" y1="386.50" x2="137.60" y2="623.80" class="g"/><line x1="210.00" y1="386.50" x2="210.00" y2="623.80" class="g"/><line x1="282.40" y1="386.50" x2="282.40" y2="623.80" class="g"/><line x1="105.50" y1="581.75" x2="326.90" y2="581.75" class="g"/><line x1="105.50" y1="539.70" x2="326.90" y2="539.70" class="g"/><line x1="105.50" y1="497.65" x2="326.90" y2="497.65" class="g"/><line x1="105.50" y1="455.60" x2="326.90" y2="455.60" class="g"/><line x1="105.50" y1="413.55" x2="326.90" y2="413.55" class="g"/>
<clipPath id="ca6"><rect x="105.50" y="386.50" width="221.40" height="237.30"/></clipPath>
<g clip-path="url(#ca6)">
<g fill="#a1b5ef"><rect x="136.15" y="398.41" width="5.07" height="225.39"/><rect x="231.72" y="621.28" width="7.24" height="2.52"/></g>
<polyline fill="none" stroke="#3d63de" stroke-width="2.0" stroke-linejoin="round" stroke-linecap="round" points="125.3,623.8 125.4,623.7 125.6,623.7 125.7,623.7 125.9,623.7 126.0,623.7 126.2,623.7 126.3,623.6 126.5,623.6 126.6,623.6 126.7,623.5 126.9,623.5 127.0,623.4 127.2,623.3 127.3,623.2 127.5,623.1 127.6,623.0 127.8,622.9 127.9,622.8 128.1,622.6 128.2,622.4 128.4,622.2 128.5,622.0 128.6,621.7 128.8,621.4 128.9,621.0 129.1,620.6 129.2,620.2 129.4,619.7 129.5,619.2 129.7,618.5 129.8,617.9 130.0,617.1 130.1,616.3 130.2,615.4 130.4,614.4 130.5,613.3 130.7,612.1 130.8,610.8 131.0,609.4 131.1,607.9 131.3,606.2 131.4,604.4 131.6,602.5 131.7,600.5 131.8,598.3 132.0,596.0 132.1,593.5 132.3,590.9 132.4,588.1 132.6,585.2 132.7,582.1 132.9,578.9 133.0,575.6 133.2,572.1 133.3,568.5 133.5,564.8 133.6,561.0 133.7,557.1 133.9,553.1 134.0,549.0 134.2,544.9 134.3,540.7 134.5,536.5 134.6,532.3 134.8,528.1 134.9,524.0 135.1,519.9 135.2,515.8 135.3,511.9 135.5,508.1 135.6,504.4 135.8,500.9 135.9,497.5 136.1,494.4 136.2,491.5 136.4,488.8 136.5,486.3 136.7,484.2 136.8,482.3 136.9,480.7 137.1,479.4 137.2,478.5 137.4,477.8 137.5,477.5 137.7,477.5 137.8,477.9 138.0,478.5 138.1,479.5 138.3,480.8 138.4,482.4 138.6,484.3 138.7,486.5 138.8,488.9 139.0,491.6 139.1,494.6 139.3,497.7 139.4,501.1 139.6,504.6 139.7,508.3 139.9,512.1 140.0,516.1 140.2,520.1 140.3,524.2 140.4,528.4 140.6,532.6 140.7,536.8 140.9,541.0 141.0,545.1 141.2,549.3 141.3,553.3 141.5,557.3 141.6,561.2 141.8,565.1 141.9,568.8 142.0,572.3 142.2,575.8 142.3,579.1 142.5,582.3 142.6,585.4 142.8,588.3 142.9,591.0 143.1,593.6 143.2,596.1 143.4,598.4 143.5,600.6 143.7,602.6 143.8,604.5 143.9,606.3 144.1,608.0 144.2,609.5 144.4,610.9 144.5,612.2 144.7,613.4 144.8,614.5 145.0,615.4 145.1,616.3 145.3,617.2 145.4,617.9 145.5,618.6 145.7,619.2 145.8,619.7 146.0,620.2 146.1,620.7 146.3,621.0 146.4,621.4 146.6,621.7 146.7,622.0 146.9,622.2 147.0,622.4 147.1,622.6 147.3,622.8 147.4,622.9 147.6,623.0 147.7,623.2 147.9,623.2 148.0,623.3 148.2,623.4 148.3,623.5 148.5,623.5"/>
<polyline fill="none" stroke="#3d63de" stroke-width="2.0" stroke-linejoin="round" stroke-linecap="round" points="224.1,623.5 224.3,623.5 224.4,623.5 224.5,623.4 224.7,623.4 224.8,623.4 225.0,623.4 225.1,623.3 225.2,623.3 225.4,623.3 225.5,623.2 225.6,623.2 225.8,623.1 225.9,623.1 226.1,623.1 226.2,623.0 226.3,623.0 226.5,622.9 226.6,622.9 226.8,622.8 226.9,622.8 227.0,622.7 227.2,622.6 227.3,622.6 227.5,622.5 227.6,622.5 227.7,622.4 227.9,622.3 228.0,622.3 228.1,622.2 228.3,622.2 228.4,622.1 228.6,622.0 228.7,622.0 228.8,621.9 229.0,621.8 229.1,621.8 229.3,621.7 229.4,621.7 229.5,621.6 229.7,621.6 229.8,621.5 230.0,621.4 230.1,621.4 230.2,621.3 230.4,621.3 230.5,621.2 230.6,621.2 230.8,621.2 230.9,621.1 231.1,621.1 231.2,621.0 231.3,621.0 231.5,621.0 231.6,621.0 231.8,620.9 231.9,620.9 232.0,620.9 232.2,620.9 232.3,620.8 232.5,620.8 232.6,620.8 232.7,620.8 232.9,620.8 233.0,620.8 233.1,620.8 233.3,620.8 233.4,620.8 233.6,620.8 233.7,620.7 233.8,620.7 234.0,620.7 234.1,620.7 234.3,620.7 234.4,620.7 234.5,620.7 234.7,620.7 234.8,620.7 235.0,620.7 235.1,620.7 235.2,620.7 235.4,620.7 235.5,620.7 235.6,620.7 235.8,620.7 235.9,620.7 236.1,620.7 236.2,620.7 236.3,620.7 236.5,620.7 236.6,620.7 236.8,620.7 236.9,620.7 237.0,620.8 237.2,620.8 237.3,620.8 237.5,620.8 237.6,620.8 237.7,620.8 237.9,620.8 238.0,620.8 238.1,620.8 238.3,620.8 238.4,620.9 238.6,620.9 238.7,620.9 238.8,620.9 239.0,620.9 239.1,621.0 239.3,621.0 239.4,621.0 239.5,621.1 239.7,621.1 239.8,621.1 240.0,621.2 240.1,621.2 240.2,621.3 240.4,621.3 240.5,621.4 240.6,621.4 240.8,621.5 240.9,621.5 241.1,621.6 241.2,621.6 241.3,621.7 241.5,621.8 241.6,621.8 241.8,621.9 241.9,621.9 242.0,622.0 242.2,622.1 242.3,622.1 242.5,622.2 242.6,622.2 242.7,622.3 242.9,622.4 243.0,622.4 243.1,622.5 243.3,622.5 243.4,622.6 243.6,622.7 243.7,622.7 243.8,622.8 244.0,622.8 244.1,622.9 244.3,622.9 244.4,623.0 244.5,623.0 244.7,623.1 244.8,623.1 245.0,623.2 245.1,623.2 245.2,623.2 245.4,623.3 245.5,623.3 245.6,623.3 245.8,623.4 245.9,623.4 246.1,623.4 246.2,623.5"/>
</g>
<rect x="105.50" y="386.50" width="221.40" height="237.30" fill="none" stroke="#cfcfcf" stroke-width="2.0"/>
<text x="214.70" y="379.10" class="t" font-size="26.6">Feature6</text>
<text x="137.60" y="647.90" class="xt" font-size="18.4">0</text>
<text x="210.00" y="647.90" class="xt" font-size="18.4">2</text>
<text x="282.40" y="647.90" class="xt" font-size="18.4">4</text>
<text x="216.20" y="673.00" class="xl" font-size="22.9">Measurement Value</text>
<text x="94.30" y="630.20" class="yt" font-size="18.4">0</text>
<text x="94.30" y="588.15" class="yt" font-size="18.4">2500</text>
<text x="94.30" y="546.10" class="yt" font-size="18.4">5000</text>
<text x="94.30" y="504.05" class="yt" font-size="18.4">7500</text>
<text x="94.30" y="462.00" class="yt" font-size="18.4">10000</text>
<text x="94.30" y="419.95" class="yt" font-size="18.4">12500</text>
<text transform="translate(35.33,507.65) rotate(-90)" x="0" y="0" class="yl" font-size="22.9">Frequency</text>
<line x1="475.60" y1="386.50" x2="475.60" y2="623.80" class="g"/><line x1="540.60" y1="386.50" x2="540.60" y2="623.80" class="g"/><line x1="605.60" y1="386.50" x2="605.60" y2="623.80" class="g"/><line x1="446.80" y1="575.90" x2="668.20" y2="575.90" class="g"/><line x1="446.80" y1="528.00" x2="668.20" y2="528.00" class="g"/><line x1="446.80" y1="480.10" x2="668.20" y2="480.10" class="g"/><line x1="446.80" y1="432.20" x2="668.20" y2="432.20" class="g"/>
<clipPath id="ca7"><rect x="446.80" y="386.50" width="221.40" height="237.30"/></clipPath>
<g clip-path="url(#ca7)">
<g fill="#a1b5ef"><rect x="472.22" y="398.19" width="4.16" height="225.61"/><rect x="507.58" y="614.22" width="3.38" height="9.58"/><rect x="511.48" y="556.26" width="4.94" height="67.54"/><rect x="517.20" y="444.65" width="4.68" height="179.15"/><rect x="521.88" y="557.22" width="4.94" height="66.58"/><rect x="526.82" y="580.69" width="3.38" height="43.11"/><rect x="530.20" y="602.92" width="5.20" height="20.88"/><rect x="554.64" y="616.85" width="4.16" height="6.95"/><rect x="558.80" y="603.20" width="3.90" height="20.60"/><rect x="579.08" y="619.01" width="6.76" height="4.79"/></g>
<polyline fill="none" stroke="#3d63de" stroke-width="2.0" stroke-linejoin="round" stroke-linecap="round" points="460.0,623.7 460.9,623.6 461.8,623.5 462.6,623.1 463.5,622.5 464.4,621.4 465.3,619.7 466.2,616.9 467.1,612.7 467.9,606.8 468.8,598.9 469.7,589.0 470.6,577.2 471.5,564.2 472.4,551.0 473.2,538.7 474.1,528.7 475.0,522.2 475.9,520.1 476.8,522.6 477.7,529.4 478.5,539.6 479.4,552.0 480.3,565.3 481.2,578.2 482.1,589.8 483.0,599.6 483.8,607.3 484.7,613.1 485.6,617.1 486.5,619.8 487.4,621.5 488.3,622.6 489.1,623.2 490.0,623.5 490.9,623.6 491.8,623.7 492.7,623.7 493.6,623.7 494.4,623.7 495.3,623.7 496.2,623.6 497.1,623.4 498.0,623.2 498.9,622.9 499.7,622.5 500.6,621.9 501.5,621.1 502.4,619.9 503.3,618.4 504.2,616.4 505.0,613.8 505.9,610.5 506.8,606.5 507.7,601.7 508.6,595.9 509.4,589.3 510.3,581.8 511.2,573.5 512.1,564.5 513.0,555.2 513.9,545.8 514.7,536.5 515.6,527.7 516.5,519.8 517.4,513.1 518.3,507.9 519.2,504.4 520.0,502.8 520.9,503.1 521.8,505.4 522.7,509.4 523.6,514.9 524.5,521.7 525.3,529.5 526.2,537.9 527.1,546.6 528.0,555.4 528.9,563.9 529.8,572.0 530.6,579.5 531.5,586.4 532.4,592.5 533.3,597.8 534.2,602.5 535.1,606.5 535.9,609.8 536.8,612.6 537.7,615.0 538.6,616.9 539.5,618.4 540.4,619.7 541.2,620.7 542.1,621.4 543.0,622.0 543.9,622.5 544.8,622.8 545.7,623.0 546.5,623.1 547.4,623.1 548.3,622.9 549.2,622.5 550.1,621.8 551.0,620.9 551.8,619.6 552.7,618.0 553.6,616.3 554.5,614.5 555.4,612.8 556.2,611.5 557.1,610.7 558.0,610.6 558.9,611.1 559.8,612.2 560.7,613.8 561.5,615.5 562.4,617.3 563.3,619.0 564.2,620.4 565.1,621.4 566.0,622.2 566.8,622.7 567.7,622.9 568.6,623.0 569.5,622.9 570.4,622.6 571.3,622.3 572.1,621.8 573.0,621.2 573.9,620.6 574.8,619.9 575.7,619.2 576.6,618.5 577.4,617.9 578.3,617.4 579.2,617.0 580.1,616.9 581.0,616.9 581.9,617.1 582.7,617.5 583.6,618.1 584.5,618.7 585.4,619.4 586.3,620.1 587.2,620.8 588.0,621.5 588.9,622.0 589.8,622.5 590.7,622.8 591.6,623.1 592.5,623.3 593.3,623.5 594.2,623.6 595.1,623.7 596.0,623.7 596.9,623.8 597.8,623.8 598.6,623.8 599.5,623.8 600.4,623.8"/>
<polyline fill="none" stroke="#3d63de" stroke-width="2.0" stroke-linejoin="round" stroke-linecap="round" points="610.5,622.4 610.7,622.4 610.9,622.4 611.1,622.4 611.2,622.4 611.4,622.4 611.6,622.4 611.7,622.4 611.9,622.4 612.1,622.4 612.2,622.4 612.4,622.4 612.6,622.4 612.8,622.4 612.9,622.4 613.1,622.4 613.3,622.4 613.4,622.4 613.6,622.4 613.8,622.4 613.9,622.4 614.1,622.4 614.3,622.4 614.5,622.4 614.6,622.4 614.8,622.4 615.0,622.4 615.1,622.4 615.3,622.4 615.5,622.4 615.6,622.4 615.8,622.4 616.0,622.4 616.2,622.4 616.3,622.4 616.5,622.4 616.7,622.4 616.8,622.4 617.0,622.4 617.2,622.4 617.3,622.4 617.5,622.4 617.7,622.4 617.9,622.4 618.0,622.4 618.2,622.4 618.4,622.4 618.5,622.4 618.7,622.4 618.9,622.4 619.0,622.4 619.2,622.4 619.4,622.4 619.6,622.4 619.7,622.4 619.9,622.4 620.1,622.4 620.2,622.4 620.4,622.4 620.6,622.4 620.7,622.4 620.9,622.4 621.1,622.4 621.3,622.4 621.4,622.4 621.6,622.4 621.8,622.4 621.9,622.4 622.1,622.4 622.3,622.4 622.4,622.4 622.6,622.4 622.8,622.4 623.0,622.4 623.1,622.4 623.3,622.4 623.5,622.4 623.6,622.4 623.8,622.4 624.0,622.4 624.1,622.4 624.3,622.4 624.5,622.4 624.7,622.4 624.8,622.4 625.0,622.4 625.2,622.4 625.3,622.4 625.5,622.4 625.7,622.4 625.8,622.4 626.0,622.4 626.2,622.4 626.4,622.4 626.5,622.4 626.7,622.4 626.9,622.4 627.0,622.4 627.2,622.4 627.4,622.4 627.5,622.4 627.7,622.4 627.9,622.4 628.1,622.4 628.2,622.4 628.4,622.4 628.6,622.4 628.7,622.4 628.9,622.4 629.1,622.4 629.2,622.4 629.4,622.4 629.6,622.4 629.8,622.4 629.9,622.4 630.1,622.4 630.3,622.4 630.4,622.4 630.6,622.4 630.8,622.4 630.9,622.4 631.1,622.4 631.3,622.4 631.5,622.4 631.6,622.4 631.8,622.4 632.0,622.4 632.1,622.4 632.3,622.4 632.5,622.4 632.6,622.4 632.8,622.4 633.0,622.4 633.2,622.4 633.3,622.4 633.5,622.4 633.7,622.4 633.8,622.4 634.0,622.4 634.2,622.4 634.3,622.4 634.5,622.4 634.7,622.4 634.9,622.4 635.0,622.4 635.2,622.4 635.4,622.4 635.5,622.4 635.7,622.4 635.9,622.4 636.0,622.4 636.2,622.4 636.4,622.4 636.6,622.4 636.7,622.4 636.9,622.4 637.1,622.4 637.2,622.4 637.4,622.4 637.6,622.4"/>
</g>
<rect x="446.80" y="386.50" width="221.40" height="237.30" fill="none" stroke="#cfcfcf" stroke-width="2.0"/>
<text x="556.00" y="379.10" class="t" font-size="26.6">Feature7</text>
<text x="475.60" y="647.90" class="xt" font-size="18.4">0.0</text>
<text x="540.60" y="647.90" class="xt" font-size="18.4">2.5</text>
<text x="605.60" y="647.90" class="xt" font-size="18.4">5.0</text>
<text x="557.50" y="673.00" class="xl" font-size="22.9">Measurement Value</text>
<text x="435.60" y="630.20" class="yt" font-size="18.4">0</text>
<text x="435.60" y="582.30" class="yt" font-size="18.4">1000</text>
<text x="435.60" y="534.40" class="yt" font-size="18.4">2000</text>
<text x="435.60" y="486.50" class="yt" font-size="18.4">3000</text>
<text x="435.60" y="438.60" class="yt" font-size="18.4">4000</text>
<text transform="translate(386.87,507.65) rotate(-90)" x="0" y="0" class="yl" font-size="22.9">Frequency</text>
<line x1="824.50" y1="386.50" x2="824.50" y2="623.80" class="g"/><line x1="892.00" y1="386.50" x2="892.00" y2="623.80" class="g"/><line x1="959.50" y1="386.50" x2="959.50" y2="623.80" class="g"/><line x1="788.10" y1="572.30" x2="1009.50" y2="572.30" class="g"/><line x1="788.10" y1="520.80" x2="1009.50" y2="520.80" class="g"/><line x1="788.10" y1="469.30" x2="1009.50" y2="469.30" class="g"/><line x1="788.10" y1="417.80" x2="1009.50" y2="417.80" class="g"/>
<clipPath id="ca8"><rect x="788.10" y="386.50" width="221.40" height="237.30"/></clipPath>
<g clip-path="url(#ca8)">
<g fill="#a1b5ef"><rect x="824.16" y="398.23" width="3.71" height="225.57"/><rect x="919.67" y="493.89" width="3.71" height="129.91"/><rect x="925.08" y="618.91" width="3.71" height="4.89"/></g>
<polyline fill="none" stroke="#3d63de" stroke-width="2.0" stroke-linejoin="round" stroke-linecap="round" points="800.5,623.8 800.8,623.8 801.1,623.8 801.4,623.8 801.7,623.7 802.0,623.7 802.3,623.7 802.5,623.7 802.8,623.7 803.1,623.7 803.4,623.6 803.7,623.6 804.0,623.6 804.3,623.6 804.5,623.5 804.8,623.5 805.1,623.4 805.4,623.3 805.7,623.3 806.0,623.2 806.3,623.1 806.6,623.0 806.8,622.9 807.1,622.7 807.4,622.6 807.7,622.4 808.0,622.2 808.3,622.0 808.6,621.8 808.8,621.5 809.1,621.2 809.4,620.9 809.7,620.5 810.0,620.1 810.3,619.7 810.6,619.2 810.9,618.7 811.1,618.1 811.4,617.5 811.7,616.9 812.0,616.1 812.3,615.4 812.6,614.5 812.9,613.7 813.1,612.7 813.4,611.7 813.7,610.6 814.0,609.5 814.3,608.3 814.6,607.0 814.9,605.7 815.2,604.3 815.4,602.9 815.7,601.4 816.0,599.8 816.3,598.2 816.6,596.6 816.9,594.9 817.2,593.2 817.4,591.4 817.7,589.6 818.0,587.8 818.3,586.0 818.6,584.2 818.9,582.4 819.2,580.6 819.5,578.8 819.7,577.0 820.0,575.3 820.3,573.7 820.6,572.1 820.9,570.5 821.2,569.1 821.5,567.7 821.7,566.4 822.0,565.2 822.3,564.2 822.6,563.2 822.9,562.4 823.2,561.7 823.5,561.1 823.7,560.7 824.0,560.4 824.3,560.2 824.6,560.2 824.9,560.3 825.2,560.6 825.5,561.0 825.8,561.5 826.0,562.2 826.3,563.0 826.6,563.9 826.9,565.0 827.2,566.1 827.5,567.4 827.8,568.7 828.0,570.2 828.3,571.7 828.6,573.3 828.9,574.9 829.2,576.6 829.5,578.3 829.8,580.1 830.1,581.9 830.3,583.7 830.6,585.5 830.9,587.4 831.2,589.2 831.5,591.0 831.8,592.7 832.1,594.5 832.3,596.2 832.6,597.8 832.9,599.5 833.2,601.0 833.5,602.5 833.8,604.0 834.1,605.4 834.4,606.7 834.6,608.0 834.9,609.2 835.2,610.4 835.5,611.4 835.8,612.5 836.1,613.4 836.4,614.3 836.6,615.2 836.9,616.0 837.2,616.7 837.5,617.4 837.8,618.0 838.1,618.6 838.4,619.1 838.6,619.6 838.9,620.0 839.2,620.4 839.5,620.8 839.8,621.1 840.1,621.4 840.4,621.7 840.7,621.9 840.9,622.2 841.2,622.4 841.5,622.5 841.8,622.7 842.1,622.8 842.4,623.0 842.7,623.1 842.9,623.2 843.2,623.3 843.5,623.3 843.8,623.4 844.1,623.4 844.4,623.5 844.7,623.5 845.0,623.6 845.2,623.6 845.5,623.6 845.8,623.7 846.1,623.7"/>
<polyline fill="none" stroke="#3d63de" stroke-width="2.0" stroke-linejoin="round" stroke-linecap="round" points="900.1,623.7 900.4,623.7 900.7,623.7 900.9,623.7 901.2,623.7 901.5,623.7 901.8,623.7 902.0,623.6 902.3,623.6 902.6,623.6 902.9,623.5 903.2,623.5 903.4,623.4 903.7,623.4 904.0,623.3 904.3,623.3 904.5,623.2 904.8,623.1 905.1,623.0 905.4,622.9 905.7,622.8 905.9,622.6 906.2,622.5 906.5,622.3 906.8,622.2 907.1,622.0 907.3,621.7 907.6,621.5 907.9,621.2 908.2,620.9 908.4,620.6 908.7,620.3 909.0,619.9 909.3,619.5 909.6,619.1 909.8,618.7 910.1,618.2 910.4,617.6 910.7,617.1 910.9,616.5 911.2,615.9 911.5,615.2 911.8,614.5 912.1,613.8 912.3,613.0 912.6,612.2 912.9,611.3 913.2,610.5 913.4,609.6 913.7,608.6 914.0,607.7 914.3,606.7 914.6,605.7 914.8,604.6 915.1,603.6 915.4,602.5 915.7,601.4 915.9,600.4 916.2,599.3 916.5,598.2 916.8,597.2 917.1,596.1 917.3,595.1 917.6,594.1 917.9,593.1 918.2,592.2 918.5,591.3 918.7,590.4 919.0,589.6 919.3,588.9 919.6,588.2 919.8,587.5 920.1,587.0 920.4,586.5 920.7,586.1 921.0,585.7 921.2,585.4 921.5,585.2 921.8,585.1 922.1,585.1 922.3,585.1 922.6,585.3 922.9,585.5 923.2,585.8 923.5,586.1 923.7,586.6 924.0,587.1 924.3,587.7 924.6,588.3 924.8,589.0 925.1,589.8 925.4,590.6 925.7,591.5 926.0,592.4 926.2,593.3 926.5,594.3 926.8,595.3 927.1,596.3 927.4,597.4 927.6,598.5 927.9,599.5 928.2,600.6 928.5,601.7 928.7,602.7 929.0,603.8 929.3,604.8 929.6,605.9 929.9,606.9 930.1,607.9 930.4,608.8 930.7,609.8 931.0,610.7 931.2,611.5 931.5,612.4 931.8,613.2 932.1,613.9 932.4,614.7 932.6,615.3 932.9,616.0 933.2,616.6 933.5,617.2 933.7,617.8 934.0,618.3 934.3,618.8 934.6,619.2 934.9,619.6 935.1,620.0 935.4,620.4 935.7,620.7 936.0,621.0 936.2,621.3 936.5,621.5 936.8,621.8 937.1,622.0 937.4,622.2 937.6,622.4 937.9,622.5 938.2,622.7 938.5,622.8 938.8,622.9 939.0,623.0 939.3,623.1 939.6,623.2 939.9,623.3 940.1,623.3 940.4,623.4 940.7,623.5 941.0,623.5 941.3,623.5 941.5,623.6 941.8,623.6 942.1,623.6 942.4,623.7 942.6,623.7 942.9,623.7 943.2,623.7 943.5,623.7 943.8,623.7 944.0,623.7 944.3,623.8"/>
</g>
<rect x="788.10" y="386.50" width="221.40" height="237.30" fill="none" stroke="#cfcfcf" stroke-width="2.0"/>
<text x="897.30" y="379.10" class="t" font-size="26.6">Feature8</text>
<text x="824.50" y="647.90" class="xt" font-size="18.4">0</text>
<text x="892.00" y="647.90" class="xt" font-size="18.4">2</text>
<text x="959.50" y="647.90" class="xt" font-size="18.4">4</text>
<text x="898.80" y="673.00" class="xl" font-size="22.9">Measurement Value</text>
<text x="776.90" y="630.20" class="yt" font-size="18.4">0</text>
<text x="776.90" y="578.70" class="yt" font-size="18.4">2000</text>
<text x="776.90" y="527.20" class="yt" font-size="18.4">4000</text>
<text x="776.90" y="475.70" class="yt" font-size="18.4">6000</text>
<text x="776.90" y="424.20" class="yt" font-size="18.4">8000</text>
<text transform="translate(728.17,507.65) rotate(-90)" x="0" y="0" class="yl" font-size="22.9">Frequency</text>
<line x1="1139.20" y1="386.50" x2="1139.20" y2="623.80" class="g"/><line x1="1228.85" y1="386.50" x2="1228.85" y2="623.80" class="g"/><line x1="1318.50" y1="386.50" x2="1318.50" y2="623.80" class="g"/><line x1="1129.40" y1="580.20" x2="1350.80" y2="580.20" class="g"/><line x1="1129.40" y1="536.60" x2="1350.80" y2="536.60" class="g"/><line x1="1129.40" y1="493.00" x2="1350.80" y2="493.00" class="g"/><line x1="1129.40" y1="449.40" x2="1350.80" y2="449.40" class="g"/><line x1="1129.40" y1="405.80" x2="1350.80" y2="405.80" class="g"/>
<clipPath id="ca9"><rect x="1129.40" y="386.50" width="221.40" height="237.30"/></clipPath>
<g clip-path="url(#ca9)">
<g fill="#a1b5ef"><rect x="1139.92" y="610.60" width="3.77" height="13.20"/><rect x="1321.19" y="619.44" width="3.23" height="4.36"/><rect x="1326.84" y="398.21" width="3.50" height="225.59"/></g>
<polyline fill="none" stroke="#3d63de" stroke-width="2.0" stroke-linejoin="round" stroke-linecap="round" points="1305.9,623.8 1306.2,623.8 1306.4,623.8 1306.6,623.7 1306.8,623.7 1307.0,623.7 1307.3,623.7 1307.5,623.7 1307.7,623.7 1307.9,623.7 1308.1,623.7 1308.3,623.6 1308.6,623.6 1308.8,623.6 1309.0,623.5 1309.2,623.5 1309.4,623.5 1309.7,623.4 1309.9,623.4 1310.1,623.3 1310.3,623.2 1310.5,623.2 1310.7,623.1 1311.0,623.0 1311.2,622.9 1311.4,622.8 1311.6,622.6 1311.8,622.5 1312.1,622.3 1312.3,622.2 1312.5,622.0 1312.7,621.8 1312.9,621.5 1313.1,621.3 1313.4,621.0 1313.6,620.7 1313.8,620.4 1314.0,620.0 1314.2,619.6 1314.5,619.2 1314.7,618.8 1314.9,618.3 1315.1,617.8 1315.3,617.2 1315.6,616.6 1315.8,615.9 1316.0,615.2 1316.2,614.5 1316.4,613.7 1316.6,612.9 1316.9,612.0 1317.1,611.0 1317.3,610.0 1317.5,609.0 1317.7,607.9 1318.0,606.7 1318.2,605.5 1318.4,604.3 1318.6,603.0 1318.8,601.6 1319.0,600.2 1319.3,598.7 1319.5,597.2 1319.7,595.7 1319.9,594.1 1320.1,592.5 1320.4,590.8 1320.6,589.1 1320.8,587.4 1321.0,585.6 1321.2,583.9 1321.4,582.1 1321.7,580.3 1321.9,578.5 1322.1,576.8 1322.3,575.0 1322.5,573.2 1322.8,571.5 1323.0,569.8 1323.2,568.1 1323.4,566.5 1323.6,564.9 1323.8,563.4 1324.1,562.0 1324.3,560.6 1324.5,559.3 1324.7,558.0 1324.9,556.9 1325.2,555.8 1325.4,554.9 1325.6,554.0 1325.8,553.3 1326.0,552.7 1326.2,552.1 1326.5,551.7 1326.7,551.4 1326.9,551.3 1327.1,551.2 1327.3,551.3 1327.6,551.4 1327.8,551.7 1328.0,552.2 1328.2,552.7 1328.4,553.3 1328.6,554.1 1328.9,555.0 1329.1,555.9 1329.3,557.0 1329.5,558.1 1329.7,559.4 1330.0,560.7 1330.2,562.1 1330.4,563.5 1330.6,565.0 1330.8,566.6 1331.0,568.3 1331.3,569.9 1331.5,571.6 1331.7,573.4 1331.9,575.1 1332.1,576.9 1332.4,578.7 1332.6,580.5 1332.8,582.2 1333.0,584.0 1333.2,585.8 1333.4,587.5 1333.7,589.2 1333.9,590.9 1334.1,592.6 1334.3,594.2 1334.5,595.8 1334.8,597.4 1335.0,598.9 1335.2,600.3 1335.4,601.7 1335.6,603.1 1335.8,604.4 1336.1,605.6 1336.3,606.8 1336.5,608.0 1336.7,609.1 1336.9,610.1 1337.2,611.1 1337.4,612.0 1337.6,612.9 1337.8,613.8 1338.0,614.5 1338.2,615.3 1338.5,616.0 1338.7,616.6 1338.9,617.2 1339.1,617.8 1339.3,618.3 1339.6,618.8 1339.8,619.3 1340.0,619.7 1340.2,620.1 1340.4,620.4 1340.6,620.7"/>
<polyline fill="none" stroke="#3d63de" stroke-width="2.0" stroke-linejoin="round" stroke-linecap="round" points="1139.5,619.3 1139.6,619.3 1139.6,619.3 1139.7,619.3 1139.8,619.3 1139.9,619.3 1140.0,619.3 1140.0,619.3 1140.1,619.3 1140.2,619.4 1140.3,619.4 1140.4,619.4 1140.5,619.4 1140.5,619.4 1140.6,619.5 1140.7,619.5 1140.8,619.5 1140.9,619.5 1141.0,619.5 1141.0,619.6 1141.1,619.6 1141.2,619.6 1141.3,619.7 1141.4,619.7 1141.5,619.7 1141.5,619.7 1141.6,619.8 1141.7,619.8 1141.8,619.8 1141.9,619.9 1142.0,619.9 1142.0,620.0 1142.1,620.0 1142.2,620.0 1142.3,620.1 1142.4,620.1 1142.5,620.2 1142.5,620.2 1142.6,620.2 1142.7,620.3 1142.8,620.3 1142.9,620.4 1143.0,620.4 1143.0,620.4 1143.1,620.5 1143.2,620.5 1143.3,620.6 1143.4,620.6 1143.4,620.7 1143.5,620.7 1143.6,620.8 1143.7,620.8 1143.8,620.9 1143.9,620.9 1143.9,620.9 1144.0,621.0 1144.1,621.0 1144.2,621.1 1144.3,621.1 1144.4,621.2 1144.4,621.2 1144.5,621.3 1144.6,621.3 1144.7,621.4 1144.8,621.4 1144.9,621.5 1144.9,621.5 1145.0,621.5 1145.1,621.6 1145.2,621.6 1145.3,621.7 1145.4,621.7 1145.4,621.8 1145.5,621.8 1145.6,621.8 1145.7,621.9 1145.8,621.9 1145.9,622.0 1145.9,622.0 1146.0,622.1 1146.1,622.1 1146.2,622.1 1146.3,622.2 1146.3,622.2 1146.4,622.3 1146.5,622.3 1146.6,622.3 1146.7,622.4 1146.8,622.4 1146.8,622.4 1146.9,622.5 1147.0,622.5 1147.1,622.5 1147.2,622.6 1147.3,622.6 1147.3,622.6 1147.4,622.7 1147.5,622.7 1147.6,622.7 1147.7,622.8 1147.8,622.8 1147.8,622.8 1147.9,622.9 1148.0,622.9 1148.1,622.9 1148.2,622.9 1148.3,623.0 1148.3,623.0 1148.4,623.0 1148.5,623.0 1148.6,623.1 1148.7,623.1 1148.8,623.1 1148.8,623.1 1148.9,623.1 1149.0,623.2 1149.1,623.2 1149.2,623.2 1149.2,623.2 1149.3,623.3 1149.4,623.3 1149.5,623.3 1149.6,623.3 1149.7,623.3 1149.7,623.3 1149.8,623.4 1149.9,623.4 1150.0,623.4 1150.1,623.4 1150.2,623.4 1150.2,623.4 1150.3,623.4 1150.4,623.5 1150.5,623.5 1150.6,623.5 1150.7,623.5 1150.7,623.5 1150.8,623.5 1150.9,623.5 1151.0,623.5 1151.1,623.6 1151.2,623.6 1151.2,623.6 1151.3,623.6 1151.4,623.6 1151.5,623.6 1151.6,623.6 1151.7,623.6 1151.7,623.6 1151.8,623.6 1151.9,623.6 1152.0,623.6 1152.1,623.6 1152.2,623.7 1152.2,623.7 1152.3,623.7 1152.4,623.7 1152.5,623.7 1152.6,623.7 1152.6,623.7"/>
</g>
<rect x="1129.40" y="386.50" width="221.40" height="237.30" fill="none" stroke="#cfcfcf" stroke-width="2.0"/>
<text x="1238.60" y="379.10" class="t" font-size="26.6">Feature9</text>
<text x="1139.20" y="647.90" class="xt" font-size="18.4">0</text>
<text x="1228.85" y="647.90" class="xt" font-size="18.4">10</text>
<text x="1318.50" y="647.90" class="xt" font-size="18.4">20</text>
<text x="1240.10" y="673.00" class="xl" font-size="22.9">Measurement Value</text>
<text x="1118.20" y="630.20" class="yt" font-size="18.4">0</text>
<text x="1118.20" y="586.60" class="yt" font-size="18.4">2500</text>
<text x="1118.20" y="543.00" class="yt" font-size="18.4">5000</text>
<text x="1118.20" y="499.40" class="yt" font-size="18.4">7500</text>
<text x="1118.20" y="455.80" class="yt" font-size="18.4">10000</text>
<text x="1118.20" y="412.20" class="yt" font-size="18.4">12500</text>
<text transform="translate(1059.23,507.65) rotate(-90)" x="0" y="0" class="yl" font-size="22.9">Frequency</text>
<line x1="1480.50" y1="386.50" x2="1480.50" y2="623.80" class="g"/><line x1="1579.00" y1="386.50" x2="1579.00" y2="623.80" class="g"/><line x1="1677.50" y1="386.50" x2="1677.50" y2="623.80" class="g"/><line x1="1470.70" y1="566.40" x2="1692.10" y2="566.40" class="g"/><line x1="1470.70" y1="509.00" x2="1692.10" y2="509.00" class="g"/><line x1="1470.70" y1="451.60" x2="1692.10" y2="451.60" class="g"/><line x1="1470.70" y1="394.20" x2="1692.10" y2="394.20" class="g"/>
<clipPath id="ca10"><rect x="1470.70" y="386.50" width="221.40" height="237.30"/></clipPath>
<g clip-path="url(#ca10)">
<g fill="#a1b5ef"><rect x="1480.50" y="603.71" width="4.43" height="20.09"/><rect x="1652.88" y="616.19" width="3.94" height="7.61"/><rect x="1663.22" y="484.89" width="4.63" height="138.91"/><rect x="1667.85" y="398.22" width="3.74" height="225.58"/><rect x="1673.07" y="616.91" width="4.43" height="6.89"/></g>
<polyline fill="none" stroke="#3d63de" stroke-width="2.0" stroke-linejoin="round" stroke-linecap="round" points="1641.5,623.7 1641.8,623.7 1642.1,623.7 1642.3,623.7 1642.6,623.6 1642.8,623.6 1643.1,623.6 1643.3,623.6 1643.6,623.5 1643.9,623.5 1644.1,623.5 1644.4,623.4 1644.6,623.4 1644.9,623.3 1645.1,623.2 1645.4,623.2 1645.7,623.1 1645.9,623.0 1646.2,622.9 1646.4,622.8 1646.7,622.6 1646.9,622.5 1647.2,622.4 1647.5,622.2 1647.7,622.0 1648.0,621.8 1648.2,621.6 1648.5,621.3 1648.7,621.1 1649.0,620.8 1649.3,620.4 1649.5,620.1 1649.8,619.7 1650.0,619.3 1650.3,618.9 1650.5,618.4 1650.8,617.9 1651.1,617.3 1651.3,616.7 1651.6,616.0 1651.8,615.3 1652.1,614.6 1652.3,613.8 1652.6,612.9 1652.9,612.0 1653.1,611.1 1653.4,610.0 1653.6,608.9 1653.9,607.8 1654.1,606.5 1654.4,605.2 1654.7,603.9 1654.9,602.4 1655.2,600.9 1655.4,599.4 1655.7,597.7 1655.9,596.0 1656.2,594.2 1656.5,592.3 1656.7,590.4 1657.0,588.4 1657.2,586.3 1657.5,584.1 1657.7,581.9 1658.0,579.7 1658.3,577.3 1658.5,574.9 1658.8,572.5 1659.0,570.0 1659.3,567.5 1659.5,564.9 1659.8,562.3 1660.1,559.7 1660.3,557.1 1660.6,554.4 1660.8,551.8 1661.1,549.1 1661.3,546.5 1661.6,543.8 1661.9,541.2 1662.1,538.7 1662.4,536.1 1662.6,533.7 1662.9,531.3 1663.1,528.9 1663.4,526.6 1663.7,524.4 1663.9,522.3 1664.2,520.3 1664.4,518.5 1664.7,516.7 1664.9,515.0 1665.2,513.5 1665.5,512.1 1665.7,510.8 1666.0,509.7 1666.2,508.8 1666.5,508.0 1666.7,507.3 1667.0,506.8 1667.3,506.5 1667.5,506.3 1667.8,506.3 1668.0,506.5 1668.3,506.8 1668.5,507.3 1668.8,507.9 1669.1,508.7 1669.3,509.7 1669.6,510.8 1669.8,512.0 1670.1,513.4 1670.3,514.9 1670.6,516.6 1670.9,518.3 1671.1,520.2 1671.4,522.2 1671.6,524.3 1671.9,526.5 1672.1,528.8 1672.4,531.1 1672.7,533.5 1672.9,536.0 1673.2,538.5 1673.4,541.1 1673.7,543.7 1673.9,546.3 1674.2,549.0 1674.5,551.6 1674.7,554.3 1675.0,556.9 1675.2,559.6 1675.5,562.2 1675.7,564.8 1676.0,567.3 1676.3,569.9 1676.5,572.4 1676.8,574.8 1677.0,577.2 1677.3,579.5 1677.5,581.8 1677.8,584.0 1678.1,586.2 1678.3,588.2 1678.6,590.3 1678.8,592.2 1679.1,594.1 1679.3,595.9 1679.6,597.6 1679.9,599.3 1680.1,600.9 1680.4,602.4 1680.6,603.8 1680.9,605.2 1681.1,606.5 1681.4,607.7 1681.7,608.9 1681.9,610.0 1682.2,611.0 1682.4,612.0"/>
<polyline fill="none" stroke="#3d63de" stroke-width="2.0" stroke-linejoin="round" stroke-linecap="round" points="1480.5,616.8 1480.6,616.8 1480.7,616.8 1480.8,616.8 1480.9,616.8 1481.0,616.8 1481.1,616.8 1481.2,616.8 1481.2,616.8 1481.3,616.8 1481.4,616.9 1481.5,616.9 1481.6,616.9 1481.7,616.9 1481.8,616.9 1481.9,617.0 1482.0,617.0 1482.1,617.0 1482.2,617.0 1482.3,617.1 1482.4,617.1 1482.5,617.1 1482.5,617.2 1482.6,617.2 1482.7,617.3 1482.8,617.3 1482.9,617.3 1483.0,617.4 1483.1,617.4 1483.2,617.5 1483.3,617.5 1483.4,617.6 1483.5,617.6 1483.6,617.7 1483.7,617.7 1483.8,617.8 1483.8,617.8 1483.9,617.9 1484.0,617.9 1484.1,618.0 1484.2,618.0 1484.3,618.1 1484.4,618.1 1484.5,618.2 1484.6,618.3 1484.7,618.3 1484.8,618.4 1484.9,618.4 1485.0,618.5 1485.1,618.6 1485.1,618.6 1485.2,618.7 1485.3,618.8 1485.4,618.8 1485.5,618.9 1485.6,619.0 1485.7,619.0 1485.8,619.1 1485.9,619.2 1486.0,619.2 1486.1,619.3 1486.2,619.4 1486.3,619.4 1486.4,619.5 1486.4,619.6 1486.5,619.6 1486.6,619.7 1486.7,619.8 1486.8,619.8 1486.9,619.9 1487.0,620.0 1487.1,620.0 1487.2,620.1 1487.3,620.2 1487.4,620.2 1487.5,620.3 1487.6,620.4 1487.7,620.4 1487.7,620.5 1487.8,620.5 1487.9,620.6 1488.0,620.7 1488.1,620.7 1488.2,620.8 1488.3,620.9 1488.4,620.9 1488.5,621.0 1488.6,621.0 1488.7,621.1 1488.8,621.2 1488.9,621.2 1489.0,621.3 1489.0,621.3 1489.1,621.4 1489.2,621.4 1489.3,621.5 1489.4,621.5 1489.5,621.6 1489.6,621.7 1489.7,621.7 1489.8,621.8 1489.9,621.8 1490.0,621.9 1490.1,621.9 1490.2,622.0 1490.3,622.0 1490.3,622.0 1490.4,622.1 1490.5,622.1 1490.6,622.2 1490.7,622.2 1490.8,622.3 1490.9,622.3 1491.0,622.3 1491.1,622.4 1491.2,622.4 1491.3,622.5 1491.4,622.5 1491.5,622.5 1491.6,622.6 1491.7,622.6 1491.7,622.6 1491.8,622.7 1491.9,622.7 1492.0,622.7 1492.1,622.8 1492.2,622.8 1492.3,622.8 1492.4,622.9 1492.5,622.9 1492.6,622.9 1492.7,623.0 1492.8,623.0 1492.9,623.0 1493.0,623.0 1493.0,623.1 1493.1,623.1 1493.2,623.1 1493.3,623.1 1493.4,623.2 1493.5,623.2 1493.6,623.2 1493.7,623.2 1493.8,623.2 1493.9,623.3 1494.0,623.3 1494.1,623.3 1494.2,623.3 1494.3,623.3 1494.3,623.3 1494.4,623.4 1494.5,623.4 1494.6,623.4 1494.7,623.4 1494.8,623.4 1494.9,623.4 1495.0,623.5 1495.1,623.5 1495.2,623.5 1495.3,623.5"/>
</g>
<rect x="1470.70" y="386.50" width="221.40" height="237.30" fill="none" stroke="#cfcfcf" stroke-width="2.0"/>
<text x="1579.90" y="379.10" class="t" font-size="26.6">Feature10</text>
<text x="1480.50" y="647.90" class="xt" font-size="18.4">0</text>
<text x="1579.00" y="647.90" class="xt" font-size="18.4">10</text>
<text x="1677.50" y="647.90" class="xt" font-size="18.4">20</text>
<text x="1581.40" y="673.00" class="xl" font-size="22.9">Measurement Value</text>
<text x="1459.50" y="630.20" class="yt" font-size="18.4">0</text>
<text x="1459.50" y="572.80" class="yt" font-size="18.4">2000</text>
<text x="1459.50" y="515.40" class="yt" font-size="18.4">4000</text>
<text x="1459.50" y="458.00" class="yt" font-size="18.4">6000</text>
<text x="1459.50" y="400.60" class="yt" font-size="18.4">8000</text>
<text transform="translate(1410.77,507.65) rotate(-90)" x="0" y="0" class="yl" font-size="22.9">Frequency</text>
<line x1="115.90" y1="728.40" x2="115.90" y2="965.70" class="g"/><line x1="192.75" y1="728.40" x2="192.75" y2="965.70" class="g"/><line x1="269.60" y1="728.40" x2="269.60" y2="965.70" class="g"/><line x1="105.50" y1="912.80" x2="326.90" y2="912.80" class="g"/><line x1="105.50" y1="859.90" x2="326.90" y2="859.90" class="g"/><line x1="105.50" y1="807.00" x2="326.90" y2="807.00" class="g"/><line x1="105.50" y1="754.10" x2="326.90" y2="754.10" class="g"/>
<clipPath id="ca11"><rect x="105.50" y="728.40" width="221.40" height="237.30"/></clipPath>
<g clip-path="url(#ca11)">
<g fill="#a1b5ef"><rect x="115.90" y="960.41" width="3.84" height="5.29"/><rect x="228.87" y="952.48" width="3.54" height="13.23"/><rect x="232.40" y="745.90" width="4.15" height="219.80"/><rect x="236.55" y="788.75" width="4.00" height="176.95"/></g>
<polyline fill="none" stroke="#3d63de" stroke-width="2.0" stroke-linejoin="round" stroke-linecap="round" points="224.7,965.5 224.9,965.5 225.0,965.4 225.1,965.4 225.3,965.3 225.4,965.2 225.6,965.2 225.7,965.1 225.8,965.0 226.0,964.9 226.1,964.7 226.3,964.6 226.4,964.4 226.5,964.2 226.7,963.9 226.8,963.7 226.9,963.4 227.1,963.0 227.2,962.7 227.4,962.2 227.5,961.7 227.6,961.2 227.8,960.6 227.9,959.9 228.1,959.2 228.2,958.4 228.3,957.4 228.5,956.4 228.6,955.3 228.8,954.1 228.9,952.8 229.0,951.3 229.2,949.7 229.3,947.9 229.5,946.1 229.6,944.0 229.7,941.8 229.9,939.4 230.0,936.9 230.1,934.1 230.3,931.2 230.4,928.1 230.6,924.7 230.7,921.2 230.8,917.5 231.0,913.5 231.1,909.4 231.3,905.0 231.4,900.5 231.5,895.7 231.7,890.8 231.8,885.6 232.0,880.3 232.1,874.8 232.2,869.2 232.4,863.4 232.5,857.5 232.7,851.6 232.8,845.5 232.9,839.3 233.1,833.1 233.2,826.9 233.4,820.7 233.5,814.6 233.6,808.5 233.8,802.4 233.9,796.5 234.0,790.8 234.2,785.2 234.3,779.8 234.5,774.7 234.6,769.8 234.7,765.2 234.9,760.9 235.0,757.0 235.2,753.4 235.3,750.2 235.4,747.4 235.6,745.0 235.7,743.0 235.9,741.5 236.0,740.4 236.1,739.8 236.3,739.7 236.4,740.0 236.6,740.8 236.7,742.0 236.8,743.7 237.0,745.8 237.1,748.4 237.2,751.3 237.4,754.7 237.5,758.4 237.7,762.5 237.8,766.9 237.9,771.6 238.1,776.6 238.2,781.8 238.4,787.3 238.5,792.9 238.6,798.7 238.8,804.7 238.9,810.7 239.1,816.9 239.2,823.1 239.3,829.3 239.5,835.5 239.6,841.6 239.8,847.8 239.9,853.8 240.0,859.8 240.2,865.6 240.3,871.3 240.4,876.9 240.6,882.3 240.7,887.6 240.9,892.6 241.0,897.5 241.1,902.2 241.3,906.7 241.4,911.0 241.6,915.0 241.7,918.9 241.8,922.5 242.0,926.0 242.1,929.3 242.3,932.3 242.4,935.2 242.5,937.8 242.7,940.3 242.8,942.7 243.0,944.8 243.1,946.8 243.2,948.6 243.4,950.3 243.5,951.9 243.7,953.3 243.8,954.6 243.9,955.7 244.1,956.8 244.2,957.8 244.3,958.7 244.5,959.5 244.6,960.2 244.8,960.8 244.9,961.4 245.0,961.9 245.2,962.4 245.3,962.8 245.5,963.2 245.6,963.5 245.7,963.8 245.9,964.0 246.0,964.3 246.2,964.4 246.3,964.6 246.4,964.8 246.6,964.9 246.7,965.0 246.9,965.1"/>
<polyline fill="none" stroke="#3d63de" stroke-width="2.0" stroke-linejoin="round" stroke-linecap="round" points="115.9,960.4 115.9,960.4 116.0,960.4 116.0,960.4 116.0,960.4 116.0,960.4 116.1,960.4 116.1,960.5 116.1,960.5 116.2,960.5 116.2,960.5 116.2,960.5 116.2,960.5 116.3,960.6 116.3,960.6 116.3,960.6 116.4,960.6 116.4,960.7 116.4,960.7 116.5,960.7 116.5,960.8 116.5,960.8 116.5,960.8 116.6,960.9 116.6,960.9 116.6,961.0 116.7,961.0 116.7,961.1 116.7,961.1 116.7,961.1 116.8,961.2 116.8,961.2 116.8,961.3 116.9,961.3 116.9,961.4 116.9,961.4 116.9,961.5 117.0,961.6 117.0,961.6 117.0,961.7 117.1,961.7 117.1,961.8 117.1,961.8 117.1,961.9 117.2,962.0 117.2,962.0 117.2,962.1 117.3,962.1 117.3,962.2 117.3,962.2 117.4,962.3 117.4,962.4 117.4,962.4 117.4,962.5 117.5,962.6 117.5,962.6 117.5,962.7 117.6,962.7 117.6,962.8 117.6,962.9 117.6,962.9 117.7,963.0 117.7,963.0 117.7,963.1 117.8,963.1 117.8,963.2 117.8,963.3 117.8,963.3 117.9,963.4 117.9,963.4 117.9,963.5 118.0,963.5 118.0,963.6 118.0,963.7 118.0,963.7 118.1,963.8 118.1,963.8 118.1,963.9 118.2,963.9 118.2,964.0 118.2,964.0 118.2,964.1 118.3,964.1 118.3,964.1 118.3,964.2 118.4,964.2 118.4,964.3 118.4,964.3 118.5,964.4 118.5,964.4 118.5,964.4 118.5,964.5 118.6,964.5 118.6,964.6 118.6,964.6 118.7,964.6 118.7,964.7 118.7,964.7 118.7,964.7 118.8,964.8 118.8,964.8 118.8,964.8 118.9,964.9 118.9,964.9 118.9,964.9 118.9,965.0 119.0,965.0 119.0,965.0 119.0,965.0 119.1,965.1 119.1,965.1 119.1,965.1 119.1,965.1 119.2,965.2 119.2,965.2 119.2,965.2 119.3,965.2 119.3,965.2 119.3,965.3 119.4,965.3 119.4,965.3 119.4,965.3 119.4,965.3 119.5,965.3 119.5,965.4 119.5,965.4 119.6,965.4 119.6,965.4 119.6,965.4 119.6,965.4 119.7,965.4 119.7,965.5 119.7,965.5 119.8,965.5 119.8,965.5 119.8,965.5 119.8,965.5 119.9,965.5 119.9,965.5 119.9,965.5 120.0,965.5 120.0,965.5 120.0,965.6 120.0,965.6 120.1,965.6 120.1,965.6 120.1,965.6 120.2,965.6 120.2,965.6 120.2,965.6 120.2,965.6 120.3,965.6 120.3,965.6 120.3,965.6 120.4,965.6 120.4,965.6 120.4,965.6 120.5,965.6 120.5,965.6 120.5,965.6"/>
</g>
<rect x="105.50" y="728.40" width="221.40" height="237.30" fill="none" stroke="#cfcfcf" stroke-width="2.0"/>
<text x="214.70" y="721.00" class="t" font-size="26.6">Feature11</text>
<text x="115.90" y="989.80" class="xt" font-size="18.4">0</text>
<text x="192.75" y="989.80" class="xt" font-size="18.4">5</text>
<text x="269.60" y="989.80" class="xt" font-size="18.4">10</text>
<text x="216.20" y="1014.90" class="xl" font-size="22.9">Measurement Value</text>
<text x="94.30" y="972.10" class="yt" font-size="18.4">0</text>
<text x="94.30" y="919.20" class="yt" font-size="18.4">2000</text>
<text x="94.30" y="866.30" class="yt" font-size="18.4">4000</text>
<text x="94.30" y="813.40" class="yt" font-size="18.4">6000</text>
<text x="94.30" y="760.50" class="yt" font-size="18.4">8000</text>
<text transform="translate(45.57,849.55) rotate(-90)" x="0" y="0" class="yl" font-size="22.9">Frequency</text>
<line x1="456.50" y1="728.40" x2="456.50" y2="965.70" class="g"/><line x1="523.88" y1="728.40" x2="523.88" y2="965.70" class="g"/><line x1="591.25" y1="728.40" x2="591.25" y2="965.70" class="g"/><line x1="658.62" y1="728.40" x2="658.62" y2="965.70" class="g"/><line x1="446.80" y1="922.40" x2="668.20" y2="922.40" class="g"/><line x1="446.80" y1="879.10" x2="668.20" y2="879.10" class="g"/><line x1="446.80" y1="835.80" x2="668.20" y2="835.80" class="g"/><line x1="446.80" y1="792.50" x2="668.20" y2="792.50" class="g"/><line x1="446.80" y1="749.20" x2="668.20" y2="749.20" class="g"/>
<clipPath id="ca12"><rect x="446.80" y="728.40" width="221.40" height="237.30"/></clipPath>
<g clip-path="url(#ca12)">
<g fill="#a1b5ef"><rect x="457.31" y="740.11" width="4.58" height="225.59"/><rect x="603.11" y="957.47" width="5.12" height="8.23"/><rect x="608.23" y="958.77" width="5.12" height="6.93"/><rect x="613.35" y="904.21" width="4.58" height="61.49"/></g>
<polyline fill="none" stroke="#3d63de" stroke-width="2.0" stroke-linejoin="round" stroke-linecap="round" points="456.5,920.8 456.7,920.8 456.9,920.8 457.1,920.8 457.2,920.9 457.4,921.0 457.6,921.1 457.8,921.2 458.0,921.3 458.2,921.4 458.4,921.6 458.6,921.7 458.7,921.9 458.9,922.1 459.1,922.3 459.3,922.5 459.5,922.7 459.7,923.0 459.9,923.2 460.0,923.5 460.2,923.8 460.4,924.1 460.6,924.4 460.8,924.7 461.0,925.1 461.2,925.4 461.3,925.8 461.5,926.2 461.7,926.5 461.9,926.9 462.1,927.3 462.3,927.7 462.5,928.1 462.7,928.6 462.8,929.0 463.0,929.4 463.2,929.9 463.4,930.3 463.6,930.8 463.8,931.3 464.0,931.7 464.1,932.2 464.3,932.7 464.5,933.2 464.7,933.7 464.9,934.2 465.1,934.7 465.3,935.2 465.4,935.7 465.6,936.2 465.8,936.7 466.0,937.2 466.2,937.7 466.4,938.2 466.6,938.7 466.8,939.2 466.9,939.7 467.1,940.2 467.3,940.7 467.5,941.3 467.7,941.8 467.9,942.3 468.1,942.8 468.2,943.3 468.4,943.7 468.6,944.2 468.8,944.7 469.0,945.2 469.2,945.7 469.4,946.2 469.6,946.6 469.7,947.1 469.9,947.5 470.1,948.0 470.3,948.5 470.5,948.9 470.7,949.3 470.9,949.8 471.0,950.2 471.2,950.6 471.4,951.0 471.6,951.4 471.8,951.8 472.0,952.2 472.2,952.6 472.3,953.0 472.5,953.4 472.7,953.7 472.9,954.1 473.1,954.5 473.3,954.8 473.5,955.1 473.7,955.5 473.8,955.8 474.0,956.1 474.2,956.4 474.4,956.7 474.6,957.0 474.8,957.3 475.0,957.6 475.1,957.9 475.3,958.1 475.5,958.4 475.7,958.7 475.9,958.9 476.1,959.2 476.3,959.4 476.4,959.6 476.6,959.9 476.8,960.1 477.0,960.3 477.2,960.5 477.4,960.7 477.6,960.9 477.8,961.1 477.9,961.2 478.1,961.4 478.3,961.6 478.5,961.8 478.7,961.9 478.9,962.1 479.1,962.2 479.2,962.4 479.4,962.5 479.6,962.6 479.8,962.8 480.0,962.9 480.2,963.0 480.4,963.1 480.6,963.3 480.7,963.4 480.9,963.5 481.1,963.6 481.3,963.7 481.5,963.8 481.7,963.8 481.9,963.9 482.0,964.0 482.2,964.1 482.4,964.2 482.6,964.2 482.8,964.3 483.0,964.4 483.2,964.4 483.3,964.5 483.5,964.6 483.7,964.6 483.9,964.7 484.1,964.7 484.3,964.8 484.5,964.8 484.7,964.9 484.8,964.9 485.0,964.9 485.2,965.0 485.4,965.0 485.6,965.1 485.8,965.1 486.0,965.1 486.1,965.2"/>
<polyline fill="none" stroke="#3d63de" stroke-width="2.0" stroke-linejoin="round" stroke-linecap="round" points="585.1,965.6 585.4,965.6 585.8,965.6 586.1,965.6 586.5,965.6 586.8,965.6 587.2,965.6 587.5,965.6 587.9,965.5 588.3,965.5 588.6,965.5 589.0,965.5 589.3,965.5 589.7,965.4 590.0,965.4 590.4,965.4 590.7,965.3 591.1,965.3 591.5,965.2 591.8,965.2 592.2,965.1 592.5,965.1 592.9,965.0 593.2,964.9 593.6,964.8 594.0,964.7 594.3,964.7 594.7,964.6 595.0,964.4 595.4,964.3 595.7,964.2 596.1,964.1 596.4,963.9 596.8,963.8 597.2,963.6 597.5,963.5 597.9,963.3 598.2,963.1 598.6,962.9 598.9,962.7 599.3,962.5 599.6,962.2 600.0,962.0 600.4,961.7 600.7,961.5 601.1,961.2 601.4,960.9 601.8,960.6 602.1,960.3 602.5,960.0 602.8,959.7 603.2,959.4 603.6,959.1 603.9,958.7 604.3,958.4 604.6,958.1 605.0,957.7 605.3,957.4 605.7,957.0 606.1,956.7 606.4,956.3 606.8,956.0 607.1,955.6 607.5,955.3 607.8,954.9 608.2,954.6 608.5,954.3 608.9,954.0 609.3,953.7 609.6,953.4 610.0,953.1 610.3,952.8 610.7,952.6 611.0,952.4 611.4,952.2 611.7,952.0 612.1,951.8 612.5,951.6 612.8,951.5 613.2,951.4 613.5,951.3 613.9,951.3 614.2,951.2 614.6,951.2 615.0,951.2 615.3,951.2 615.7,951.3 616.0,951.4 616.4,951.5 616.7,951.6 617.1,951.7 617.4,951.9 617.8,952.1 618.2,952.3 618.5,952.5 618.9,952.7 619.2,953.0 619.6,953.2 619.9,953.5 620.3,953.8 620.6,954.1 621.0,954.4 621.4,954.7 621.7,955.1 622.1,955.4 622.4,955.8 622.8,956.1 623.1,956.5 623.5,956.8 623.8,957.2 624.2,957.5 624.6,957.9 624.9,958.2 625.3,958.5 625.6,958.9 626.0,959.2 626.3,959.5 626.7,959.9 627.1,960.2 627.4,960.5 627.8,960.8 628.1,961.1 628.5,961.3 628.8,961.6 629.2,961.9 629.5,962.1 629.9,962.3 630.3,962.6 630.6,962.8 631.0,963.0 631.3,963.2 631.7,963.4 632.0,963.5 632.4,963.7 632.7,963.9 633.1,964.0 633.5,964.1 633.8,964.3 634.2,964.4 634.5,964.5 634.9,964.6 635.2,964.7 635.6,964.8 636.0,964.9 636.3,964.9 636.7,965.0 637.0,965.1 637.4,965.1 637.7,965.2 638.1,965.2 638.4,965.3 638.8,965.3 639.2,965.4 639.5,965.4 639.9,965.4 640.2,965.5 640.6,965.5 640.9,965.5 641.3,965.5 641.6,965.6"/>
</g>
<rect x="446.80" y="728.40" width="221.40" height="237.30" fill="none" stroke="#cfcfcf" stroke-width="2.0"/>
<text x="556.00" y="721.00" class="t" font-size="26.6">Feature12</text>
<text x="456.50" y="989.80" class="xt" font-size="18.4">0.0</text>
<text x="523.88" y="989.80" class="xt" font-size="18.4">2.5</text>
<text x="591.25" y="989.80" class="xt" font-size="18.4">5.0</text>
<text x="658.62" y="989.80" class="xt" font-size="18.4">7.5</text>
<text x="557.50" y="1014.90" class="xl" font-size="22.9">Measurement Value</text>
<text x="435.60" y="972.10" class="yt" font-size="18.4">0</text>
<text x="435.60" y="928.80" class="yt" font-size="18.4">2000</text>
<text x="435.60" y="885.50" class="yt" font-size="18.4">4000</text>
<text x="435.60" y="842.20" class="yt" font-size="18.4">6000</text>
<text x="435.60" y="798.90" class="yt" font-size="18.4">8000</text>
<text x="435.60" y="755.60" class="yt" font-size="18.4">10000</text>
<text transform="translate(376.63,849.55) rotate(-90)" x="0" y="0" class="yl" font-size="22.9">Frequency</text>
<line x1="798.50" y1="728.40" x2="798.50" y2="965.70" class="g"/><line x1="899.90" y1="728.40" x2="899.90" y2="965.70" class="g"/><line x1="1001.30" y1="728.40" x2="1001.30" y2="965.70" class="g"/><line x1="788.10" y1="911.80" x2="1009.50" y2="911.80" class="g"/><line x1="788.10" y1="857.90" x2="1009.50" y2="857.90" class="g"/><line x1="788.10" y1="804.00" x2="1009.50" y2="804.00" class="g"/><line x1="788.10" y1="750.10" x2="1009.50" y2="750.10" class="g"/>
<clipPath id="ca13"><rect x="788.10" y="728.40" width="221.40" height="237.30"/></clipPath>
<g clip-path="url(#ca13)">
<g fill="#a1b5ef"><rect x="798.50" y="794.30" width="4.06" height="171.40"/><rect x="864.41" y="952.49" width="3.55" height="13.21"/><rect x="869.48" y="794.30" width="4.06" height="171.40"/><rect x="873.54" y="740.13" width="4.56" height="225.57"/><rect x="878.10" y="862.00" width="4.06" height="103.70"/><rect x="885.20" y="954.65" width="3.04" height="11.05"/><rect x="889.76" y="964.08" width="4.06" height="1.62"/><rect x="894.32" y="918.70" width="4.56" height="47.00"/></g>
<polyline fill="none" stroke="#3d63de" stroke-width="2.0" stroke-linejoin="round" stroke-linecap="round" points="798.5,896.6 798.6,896.6 798.7,896.7 798.8,896.7 798.9,896.8 799.0,897.0 799.1,897.1 799.1,897.3 799.2,897.5 799.3,897.7 799.4,898.0 799.5,898.3 799.6,898.6 799.7,899.0 799.8,899.3 799.9,899.7 800.0,900.1 800.1,900.6 800.2,901.0 800.3,901.5 800.3,902.0 800.4,902.6 800.5,903.1 800.6,903.7 800.7,904.3 800.8,904.9 800.9,905.6 801.0,906.2 801.1,906.9 801.2,907.6 801.3,908.3 801.4,909.0 801.5,909.7 801.6,910.4 801.6,911.2 801.7,912.0 801.8,912.7 801.9,913.5 802.0,914.3 802.1,915.1 802.2,916.0 802.3,916.8 802.4,917.6 802.5,918.4 802.6,919.3 802.7,920.1 802.8,921.0 802.8,921.8 802.9,922.6 803.0,923.5 803.1,924.3 803.2,925.2 803.3,926.0 803.4,926.9 803.5,927.7 803.6,928.6 803.7,929.4 803.8,930.2 803.9,931.1 804.0,931.9 804.0,932.7 804.1,933.5 804.2,934.3 804.3,935.1 804.4,935.9 804.5,936.7 804.6,937.5 804.7,938.2 804.8,939.0 804.9,939.7 805.0,940.4 805.1,941.2 805.2,941.9 805.3,942.6 805.3,943.3 805.4,943.9 805.5,944.6 805.6,945.2 805.7,945.9 805.8,946.5 805.9,947.1 806.0,947.7 806.1,948.3 806.2,948.9 806.3,949.5 806.4,950.0 806.5,950.6 806.5,951.1 806.6,951.6 806.7,952.1 806.8,952.6 806.9,953.1 807.0,953.5 807.1,954.0 807.2,954.4 807.3,954.9 807.4,955.3 807.5,955.7 807.6,956.1 807.7,956.5 807.7,956.8 807.8,957.2 807.9,957.5 808.0,957.9 808.1,958.2 808.2,958.5 808.3,958.8 808.4,959.1 808.5,959.4 808.6,959.7 808.7,959.9 808.8,960.2 808.9,960.4 808.9,960.7 809.0,960.9 809.1,961.1 809.2,961.3 809.3,961.5 809.4,961.7 809.5,961.9 809.6,962.1 809.7,962.3 809.8,962.4 809.9,962.6 810.0,962.8 810.1,962.9 810.2,963.0 810.2,963.2 810.3,963.3 810.4,963.4 810.5,963.6 810.6,963.7 810.7,963.8 810.8,963.9 810.9,964.0 811.0,964.1 811.1,964.2 811.2,964.2 811.3,964.3 811.4,964.4 811.4,964.5 811.5,964.5 811.6,964.6 811.7,964.7 811.8,964.7 811.9,964.8 812.0,964.8 812.1,964.9 812.2,964.9 812.3,965.0 812.4,965.0 812.5,965.1 812.6,965.1 812.6,965.1 812.7,965.2 812.8,965.2 812.9,965.2 813.0,965.3 813.1,965.3 813.2,965.3"/>
<polyline fill="none" stroke="#3d63de" stroke-width="2.0" stroke-linejoin="round" stroke-linecap="round" points="854.3,965.5 854.6,965.5 855.0,965.5 855.3,965.4 855.6,965.3 856.0,965.2 856.3,965.1 856.7,965.0 857.0,964.8 857.4,964.6 857.7,964.4 858.1,964.1 858.4,963.8 858.7,963.4 859.1,963.0 859.4,962.4 859.8,961.8 860.1,961.1 860.5,960.3 860.8,959.4 861.2,958.3 861.5,957.1 861.8,955.8 862.2,954.2 862.5,952.5 862.9,950.5 863.2,948.4 863.6,946.0 863.9,943.4 864.3,940.5 864.6,937.3 864.9,933.9 865.3,930.2 865.6,926.3 866.0,922.0 866.3,917.5 866.7,912.7 867.0,907.6 867.4,902.3 867.7,896.8 868.0,891.1 868.4,885.3 868.7,879.3 869.1,873.2 869.4,867.0 869.8,860.9 870.1,854.8 870.5,848.7 870.8,842.8 871.1,837.2 871.5,831.7 871.8,826.6 872.2,821.8 872.5,817.4 872.9,813.5 873.2,810.1 873.6,807.2 873.9,804.8 874.2,803.0 874.6,801.9 874.9,801.3 875.3,801.4 875.6,802.1 876.0,803.4 876.3,805.4 876.7,807.8 877.0,810.9 877.3,814.4 877.7,818.5 878.0,822.9 878.4,827.8 878.7,833.0 879.1,838.4 879.4,844.1 879.8,850.0 880.1,855.9 880.4,861.9 880.8,868.0 881.1,874.0 881.5,879.9 881.8,885.6 882.2,891.3 882.5,896.7 882.9,901.8 883.2,906.8 883.5,911.4 883.9,915.7 884.2,919.8 884.6,923.5 884.9,926.9 885.3,930.0 885.6,932.7 886.0,935.2 886.3,937.3 886.6,939.2 887.0,940.7 887.3,942.1 887.7,943.1 888.0,944.0 888.4,944.7 888.7,945.1 889.1,945.5 889.4,945.7 889.7,945.7 890.1,945.7 890.4,945.6 890.8,945.5 891.1,945.3 891.5,945.1 891.8,945.0 892.2,944.8 892.5,944.7 892.8,944.6 893.2,944.5 893.5,944.6 893.9,944.7 894.2,944.8 894.6,945.1 894.9,945.4 895.3,945.8 895.6,946.3 895.9,946.8 896.3,947.4 896.6,948.0 897.0,948.8 897.3,949.5 897.7,950.3 898.0,951.1 898.4,951.9 898.7,952.8 899.0,953.6 899.4,954.5 899.7,955.3 900.1,956.1 900.4,956.9 900.8,957.7 901.1,958.4 901.4,959.1 901.8,959.8 902.1,960.4 902.5,960.9 902.8,961.5 903.2,962.0 903.5,962.4 903.9,962.8 904.2,963.2 904.5,963.5 904.9,963.8 905.2,964.1 905.6,964.3 905.9,964.5 906.3,964.7 906.6,964.9 907.0,965.0 907.3,965.1 907.6,965.2 908.0,965.3 908.3,965.4 908.7,965.4 909.0,965.5"/>
</g>
<rect x="788.10" y="728.40" width="221.40" height="237.30" fill="none" stroke="#cfcfcf" stroke-width="2.0"/>
<text x="897.30" y="721.00" class="t" font-size="26.6">Feature13</text>
<text x="798.50" y="989.80" class="xt" font-size="18.4">0</text>
<text x="899.90" y="989.80" class="xt" font-size="18.4">2</text>
<text x="1001.30" y="989.80" class="xt" font-size="18.4">4</text>
<text x="898.80" y="1014.90" class="xl" font-size="22.9">Measurement Value</text>
<text x="776.90" y="972.10" class="yt" font-size="18.4">0</text>
<text x="776.90" y="918.20" class="yt" font-size="18.4">1000</text>
<text x="776.90" y="864.30" class="yt" font-size="18.4">2000</text>
<text x="776.90" y="810.40" class="yt" font-size="18.4">3000</text>
<text x="776.90" y="756.50" class="yt" font-size="18.4">4000</text>
<text transform="translate(728.17,849.55) rotate(-90)" x="0" y="0" class="yl" font-size="22.9">Frequency</text>
<line x1="1169.50" y1="728.40" x2="1169.50" y2="965.70" class="g"/><line x1="1231.40" y1="728.40" x2="1231.40" y2="965.70" class="g"/><line x1="1293.30" y1="728.40" x2="1293.30" y2="965.70" class="g"/><line x1="1129.40" y1="914.60" x2="1350.80" y2="914.60" class="g"/><line x1="1129.40" y1="863.50" x2="1350.80" y2="863.50" class="g"/><line x1="1129.40" y1="812.40" x2="1350.80" y2="812.40" class="g"/><line x1="1129.40" y1="761.30" x2="1350.80" y2="761.30" class="g"/>
<clipPath id="ca14"><rect x="1129.40" y="728.40" width="221.40" height="237.30"/></clipPath>
<g clip-path="url(#ca14)">
<g fill="#a1b5ef"><rect x="1169.50" y="914.50" width="4.21" height="51.20"/><rect x="1173.71" y="958.80" width="4.21" height="6.90"/><rect x="1190.05" y="950.52" width="3.96" height="15.18"/><rect x="1235.61" y="951.80" width="4.95" height="13.90"/><rect x="1240.56" y="799.11" width="3.71" height="166.59"/><rect x="1244.28" y="779.80" width="4.46" height="185.90"/><rect x="1250.71" y="740.09" width="4.21" height="225.61"/><rect x="1254.92" y="937.29" width="4.21" height="28.41"/><rect x="1261.11" y="947.71" width="2.72" height="17.99"/></g>
<polyline fill="none" stroke="#3d63de" stroke-width="2.0" stroke-linejoin="round" stroke-linecap="round" points="1160.8,965.6 1161.1,965.6 1161.3,965.6 1161.6,965.5 1161.8,965.5 1162.1,965.4 1162.3,965.4 1162.6,965.3 1162.9,965.2 1163.1,965.1 1163.4,964.9 1163.6,964.7 1163.9,964.5 1164.1,964.3 1164.4,964.0 1164.6,963.6 1164.9,963.2 1165.1,962.8 1165.4,962.3 1165.6,961.7 1165.9,961.0 1166.1,960.3 1166.4,959.5 1166.6,958.6 1166.9,957.6 1167.1,956.6 1167.4,955.5 1167.6,954.3 1167.9,953.1 1168.1,951.8 1168.4,950.5 1168.7,949.2 1168.9,947.8 1169.2,946.5 1169.4,945.2 1169.7,943.9 1169.9,942.7 1170.2,941.6 1170.4,940.6 1170.7,939.7 1170.9,939.0 1171.2,938.3 1171.4,937.9 1171.7,937.6 1171.9,937.4 1172.2,937.4 1172.4,937.6 1172.7,938.0 1172.9,938.5 1173.2,939.2 1173.4,940.0 1173.7,940.9 1174.0,942.0 1174.2,943.1 1174.5,944.2 1174.7,945.5 1175.0,946.7 1175.2,948.0 1175.5,949.2 1175.7,950.5 1176.0,951.7 1176.2,952.8 1176.5,953.9 1176.7,955.0 1177.0,956.0 1177.2,956.8 1177.5,957.7 1177.7,958.4 1178.0,959.1 1178.2,959.6 1178.5,960.2 1178.7,960.6 1179.0,961.0 1179.2,961.3 1179.5,961.6 1179.8,961.8 1180.0,962.0 1180.3,962.1 1180.5,962.2 1180.8,962.3 1181.0,962.4 1181.3,962.4 1181.5,962.5 1181.8,962.5 1182.0,962.5 1182.3,962.5 1182.5,962.5 1182.8,962.5 1183.0,962.4 1183.3,962.4 1183.5,962.4 1183.8,962.3 1184.0,962.2 1184.3,962.2 1184.5,962.1 1184.8,962.0 1185.1,961.8 1185.3,961.7 1185.6,961.5 1185.8,961.3 1186.1,961.1 1186.3,960.8 1186.6,960.6 1186.8,960.3 1187.1,960.0 1187.3,959.6 1187.6,959.2 1187.8,958.9 1188.1,958.5 1188.3,958.0 1188.6,957.6 1188.8,957.2 1189.1,956.8 1189.3,956.4 1189.6,956.0 1189.8,955.6 1190.1,955.2 1190.3,954.9 1190.6,954.6 1190.9,954.4 1191.1,954.2 1191.4,954.0 1191.6,954.0 1191.9,953.9 1192.1,953.9 1192.4,954.0 1192.6,954.2 1192.9,954.4 1193.1,954.6 1193.4,954.9 1193.6,955.2 1193.9,955.6 1194.1,956.0 1194.4,956.5 1194.6,957.0 1194.9,957.5 1195.1,958.0 1195.4,958.5 1195.6,959.0 1195.9,959.5 1196.2,960.0 1196.4,960.5 1196.7,961.0 1196.9,961.4 1197.2,961.8 1197.4,962.2 1197.7,962.6 1197.9,963.0 1198.2,963.3 1198.4,963.6 1198.7,963.9 1198.9,964.1 1199.2,964.3 1199.4,964.5 1199.7,964.7 1199.9,964.8 1200.2,965.0 1200.4,965.1 1200.7,965.2 1200.9,965.3"/>
<polyline fill="none" stroke="#3d63de" stroke-width="2.0" stroke-linejoin="round" stroke-linecap="round" points="1228.7,965.6 1228.9,965.6 1229.2,965.6 1229.5,965.6 1229.7,965.6 1230.0,965.5 1230.3,965.5 1230.5,965.4 1230.8,965.4 1231.1,965.3 1231.3,965.3 1231.6,965.2 1231.9,965.0 1232.1,964.9 1232.4,964.8 1232.6,964.6 1232.9,964.4 1233.2,964.1 1233.4,963.9 1233.7,963.5 1234.0,963.1 1234.2,962.7 1234.5,962.2 1234.8,961.6 1235.0,961.0 1235.3,960.2 1235.6,959.4 1235.8,958.4 1236.1,957.4 1236.4,956.2 1236.6,954.8 1236.9,953.3 1237.1,951.6 1237.4,949.8 1237.7,947.7 1237.9,945.5 1238.2,943.0 1238.5,940.3 1238.7,937.4 1239.0,934.2 1239.3,930.8 1239.5,927.1 1239.8,923.1 1240.1,918.9 1240.3,914.3 1240.6,909.5 1240.9,904.5 1241.1,899.1 1241.4,893.5 1241.6,887.7 1241.9,881.6 1242.2,875.3 1242.4,868.8 1242.7,862.2 1243.0,855.4 1243.2,848.5 1243.5,841.5 1243.8,834.4 1244.0,827.4 1244.3,820.4 1244.6,813.5 1244.8,806.7 1245.1,800.1 1245.4,793.7 1245.6,787.6 1245.9,781.8 1246.1,776.3 1246.4,771.2 1246.7,766.6 1246.9,762.4 1247.2,758.7 1247.5,755.6 1247.7,753.0 1248.0,751.0 1248.3,749.6 1248.5,748.9 1248.8,748.7 1249.1,749.2 1249.3,750.2 1249.6,751.9 1249.9,754.2 1250.1,757.0 1250.4,760.4 1250.6,764.3 1250.9,768.8 1251.2,773.6 1251.4,778.9 1251.7,784.5 1252.0,790.5 1252.2,796.8 1252.5,803.3 1252.8,810.0 1253.0,816.8 1253.3,823.8 1253.6,830.8 1253.8,837.8 1254.1,844.8 1254.4,851.8 1254.6,858.7 1254.9,865.4 1255.1,872.0 1255.4,878.4 1255.7,884.6 1255.9,890.5 1256.2,896.3 1256.5,901.7 1256.7,907.0 1257.0,911.9 1257.3,916.6 1257.5,921.0 1257.8,925.1 1258.1,928.9 1258.3,932.5 1258.6,935.8 1258.9,938.8 1259.1,941.7 1259.4,944.2 1259.6,946.6 1259.9,948.7 1260.2,950.7 1260.4,952.5 1260.7,954.1 1261.0,955.5 1261.2,956.8 1261.5,957.9 1261.8,958.9 1262.0,959.8 1262.3,960.6 1262.6,961.3 1262.8,961.9 1263.1,962.5 1263.4,962.9 1263.6,963.3 1263.9,963.7 1264.2,964.0 1264.4,964.3 1264.7,964.5 1264.9,964.7 1265.2,964.8 1265.5,965.0 1265.7,965.1 1266.0,965.2 1266.3,965.3 1266.5,965.4 1266.8,965.4 1267.1,965.5 1267.3,965.5 1267.6,965.5 1267.9,965.6 1268.1,965.6 1268.4,965.6 1268.7,965.6 1268.9,965.6 1269.2,965.7 1269.4,965.7 1269.7,965.7 1270.0,965.7 1270.2,965.7 1270.5,965.7 1270.8,965.7"/>
</g>
<rect x="1129.40" y="728.40" width="221.40" height="237.30" fill="none" stroke="#cfcfcf" stroke-width="2.0"/>
<text x="1238.60" y="721.00" class="t" font-size="26.6">Feature14</text>
<text x="1169.50" y="989.80" class="xt" font-size="18.4">0.0</text>
<text x="1231.40" y="989.80" class="xt" font-size="18.4">2.5</text>
<text x="1293.30" y="989.80" class="xt" font-size="18.4">5.0</text>
<text x="1240.10" y="1014.90" class="xl" font-size="22.9">Measurement Value</text>
<text x="1118.20" y="972.10" class="yt" font-size="18.4">0</text>
<text x="1118.20" y="921.00" class="yt" font-size="18.4">1000</text>
<text x="1118.20" y="869.90" class="yt" font-size="18.4">2000</text>
<text x="1118.20" y="818.80" class="yt" font-size="18.4">3000</text>
<text x="1118.20" y="767.70" class="yt" font-size="18.4">4000</text>
<text transform="translate(1069.47,849.55) rotate(-90)" x="0" y="0" class="yl" font-size="22.9">Frequency</text>
<line x1="1526.40" y1="728.40" x2="1526.40" y2="965.70" class="g"/><line x1="1596.40" y1="728.40" x2="1596.40" y2="965.70" class="g"/><line x1="1666.40" y1="728.40" x2="1666.40" y2="965.70" class="g"/><line x1="1470.70" y1="920.65" x2="1692.10" y2="920.65" class="g"/><line x1="1470.70" y1="875.60" x2="1692.10" y2="875.60" class="g"/><line x1="1470.70" y1="830.55" x2="1692.10" y2="830.55" class="g"/><line x1="1470.70" y1="785.50" x2="1692.10" y2="785.50" class="g"/><line x1="1470.70" y1="740.45" x2="1692.10" y2="740.45" class="g"/>
<clipPath id="ca15"><rect x="1470.70" y="728.40" width="221.40" height="237.30"/></clipPath>
<g clip-path="url(#ca15)">
<g fill="#a1b5ef"><rect x="1526.40" y="740.09" width="3.85" height="225.61"/><rect x="1620.90" y="963.00" width="4.90" height="2.70"/><rect x="1627.20" y="844.07" width="4.20" height="121.63"/><rect x="1631.40" y="778.02" width="4.20" height="187.68"/><rect x="1637.35" y="880.01" width="3.85" height="85.69"/><rect x="1646.80" y="960.11" width="3.50" height="5.59"/></g>
<polyline fill="none" stroke="#3d63de" stroke-width="2.0" stroke-linejoin="round" stroke-linecap="round" points="1502.6,965.6 1502.9,965.6 1503.2,965.6 1503.5,965.5 1503.8,965.5 1504.1,965.5 1504.4,965.5 1504.7,965.4 1505.0,965.4 1505.3,965.3 1505.5,965.3 1505.8,965.2 1506.1,965.1 1506.4,965.1 1506.7,965.0 1507.0,964.9 1507.3,964.7 1507.6,964.6 1507.9,964.5 1508.2,964.3 1508.5,964.1 1508.8,963.9 1509.1,963.7 1509.4,963.5 1509.7,963.2 1510.0,962.9 1510.3,962.6 1510.6,962.2 1510.9,961.9 1511.2,961.5 1511.4,961.0 1511.7,960.5 1512.0,960.0 1512.3,959.4 1512.6,958.8 1512.9,958.2 1513.2,957.5 1513.5,956.7 1513.8,955.9 1514.1,955.1 1514.4,954.2 1514.7,953.2 1515.0,952.2 1515.3,951.2 1515.6,950.1 1515.9,948.9 1516.2,947.7 1516.5,946.4 1516.8,945.1 1517.1,943.8 1517.3,942.4 1517.6,941.0 1517.9,939.5 1518.2,938.0 1518.5,936.5 1518.8,935.0 1519.1,933.4 1519.4,931.8 1519.7,930.3 1520.0,928.7 1520.3,927.1 1520.6,925.5 1520.9,924.0 1521.2,922.5 1521.5,921.0 1521.8,919.5 1522.1,918.1 1522.4,916.8 1522.7,915.5 1523.0,914.3 1523.2,913.2 1523.5,912.1 1523.8,911.1 1524.1,910.2 1524.4,909.4 1524.7,908.8 1525.0,908.2 1525.3,907.7 1525.6,907.3 1525.9,907.1 1526.2,906.9 1526.5,906.9 1526.8,907.0 1527.1,907.2 1527.4,907.5 1527.7,908.0 1528.0,908.5 1528.3,909.2 1528.6,909.9 1528.9,910.8 1529.1,911.7 1529.4,912.8 1529.7,913.9 1530.0,915.1 1530.3,916.3 1530.6,917.6 1530.9,919.0 1531.2,920.5 1531.5,921.9 1531.8,923.4 1532.1,925.0 1532.4,926.5 1532.7,928.1 1533.0,929.7 1533.3,931.3 1533.6,932.8 1533.9,934.4 1534.2,935.9 1534.5,937.5 1534.8,939.0 1535.0,940.5 1535.3,941.9 1535.6,943.3 1535.9,944.7 1536.2,946.0 1536.5,947.2 1536.8,948.5 1537.1,949.6 1537.4,950.8 1537.7,951.8 1538.0,952.8 1538.3,953.8 1538.6,954.7 1538.9,955.6 1539.2,956.4 1539.5,957.2 1539.8,957.9 1540.1,958.6 1540.4,959.2 1540.7,959.8 1540.9,960.3 1541.2,960.8 1541.5,961.3 1541.8,961.7 1542.1,962.1 1542.4,962.5 1542.7,962.8 1543.0,963.1 1543.3,963.4 1543.6,963.6 1543.9,963.9 1544.2,964.1 1544.5,964.2 1544.8,964.4 1545.1,964.6 1545.4,964.7 1545.7,964.8 1546.0,964.9 1546.3,965.0 1546.6,965.1 1546.8,965.2 1547.1,965.2 1547.4,965.3 1547.7,965.4 1548.0,965.4 1548.3,965.4 1548.6,965.5 1548.9,965.5 1549.2,965.5 1549.5,965.6"/>
<polyline fill="none" stroke="#3d63de" stroke-width="2.0" stroke-linejoin="round" stroke-linecap="round" points="1606.2,965.5 1606.6,965.5 1606.9,965.5 1607.3,965.5 1607.6,965.4 1608.0,965.4 1608.3,965.3 1608.7,965.2 1609.1,965.2 1609.4,965.1 1609.8,965.0 1610.1,964.9 1610.5,964.7 1610.8,964.6 1611.2,964.4 1611.5,964.3 1611.9,964.1 1612.3,963.8 1612.6,963.6 1613.0,963.3 1613.3,963.0 1613.7,962.6 1614.0,962.2 1614.4,961.8 1614.8,961.3 1615.1,960.8 1615.5,960.2 1615.8,959.5 1616.2,958.8 1616.5,958.1 1616.9,957.2 1617.3,956.3 1617.6,955.4 1618.0,954.3 1618.3,953.2 1618.7,952.0 1619.0,950.7 1619.4,949.3 1619.8,947.9 1620.1,946.3 1620.5,944.6 1620.8,942.9 1621.2,941.1 1621.5,939.1 1621.9,937.1 1622.2,935.0 1622.6,932.9 1623.0,930.6 1623.3,928.3 1623.7,925.9 1624.0,923.4 1624.4,920.9 1624.7,918.3 1625.1,915.7 1625.5,913.0 1625.8,910.4 1626.2,907.7 1626.5,905.0 1626.9,902.3 1627.2,899.7 1627.6,897.1 1628.0,894.5 1628.3,892.0 1628.7,889.6 1629.0,887.3 1629.4,885.1 1629.7,883.0 1630.1,881.0 1630.4,879.2 1630.8,877.5 1631.2,875.9 1631.5,874.6 1631.9,873.4 1632.2,872.4 1632.6,871.6 1632.9,870.9 1633.3,870.5 1633.7,870.3 1634.0,870.3 1634.4,870.5 1634.7,870.9 1635.1,871.5 1635.4,872.3 1635.8,873.3 1636.2,874.5 1636.5,875.8 1636.9,877.3 1637.2,879.0 1637.6,880.9 1637.9,882.8 1638.3,884.9 1638.7,887.1 1639.0,889.5 1639.4,891.9 1639.7,894.4 1640.1,896.9 1640.4,899.5 1640.8,902.1 1641.1,904.8 1641.5,907.5 1641.9,910.2 1642.2,912.8 1642.6,915.5 1642.9,918.1 1643.3,920.7 1643.6,923.2 1644.0,925.7 1644.4,928.1 1644.7,930.4 1645.1,932.7 1645.4,934.9 1645.8,937.0 1646.1,939.0 1646.5,940.9 1646.9,942.8 1647.2,944.5 1647.6,946.2 1647.9,947.7 1648.3,949.2 1648.6,950.6 1649.0,951.9 1649.3,953.1 1649.7,954.2 1650.1,955.3 1650.4,956.3 1650.8,957.2 1651.1,958.0 1651.5,958.8 1651.8,959.5 1652.2,960.1 1652.6,960.7 1652.9,961.2 1653.3,961.7 1653.6,962.2 1654.0,962.6 1654.3,962.9 1654.7,963.3 1655.1,963.5 1655.4,963.8 1655.8,964.0 1656.1,964.2 1656.5,964.4 1656.8,964.6 1657.2,964.7 1657.6,964.9 1657.9,965.0 1658.3,965.1 1658.6,965.2 1659.0,965.2 1659.3,965.3 1659.7,965.4 1660.0,965.4 1660.4,965.5 1660.8,965.5 1661.1,965.5 1661.5,965.5 1661.8,965.6 1662.2,965.6 1662.5,965.6 1662.9,965.6"/>
</g>
<rect x="1470.70" y="728.40" width="221.40" height="237.30" fill="none" stroke="#cfcfcf" stroke-width="2.0"/>
<text x="1579.90" y="721.00" class="t" font-size="26.6">Feature15</text>
<text x="1526.40" y="989.80" class="xt" font-size="18.4">0</text>
<text x="1596.40" y="989.80" class="xt" font-size="18.4">10</text>
<text x="1666.40" y="989.80" class="xt" font-size="18.4">20</text>
<text x="1581.40" y="1014.90" class="xl" font-size="22.9">Measurement Value</text>
<text x="1459.50" y="972.10" class="yt" font-size="18.4">0</text>
<text x="1459.50" y="927.05" class="yt" font-size="18.4">1000</text>
<text x="1459.50" y="882.00" class="yt" font-size="18.4">2000</text>
<text x="1459.50" y="836.95" class="yt" font-size="18.4">3000</text>
<text x="1459.50" y="791.90" class="yt" font-size="18.4">4000</text>
<text x="1459.50" y="746.85" class="yt" font-size="18.4">5000</text>
<text transform="translate(1410.77,849.55) rotate(-90)" x="0" y="0" class="yl" font-size="22.9">Frequency</text>
<line x1="101.10" y1="1177.20" x2="101.10" y2="1415.90" class="g"/><line x1="210.60" y1="1177.20" x2="210.60" y2="1415.90" class="g"/><line x1="90.90" y1="1354.60" x2="320.90" y2="1354.60" class="g"/><line x1="90.90" y1="1293.30" x2="320.90" y2="1293.30" class="g"/><line x1="90.90" y1="1232.00" x2="320.90" y2="1232.00" class="g"/>
<clipPath id="cb1"><rect x="90.90" y="1177.20" width="230.00" height="238.70"/></clipPath>
<g clip-path="url(#cb1)">
<g fill="#ffa585"><rect x="101.65" y="1379.30" width="3.83" height="36.60"/><rect x="233.05" y="1410.29" width="4.93" height="5.61"/><rect x="237.98" y="1188.60" width="4.38" height="227.30"/><rect x="242.36" y="1259.49" width="5.47" height="156.41"/></g>
<polyline fill="none" stroke="#ff4a12" stroke-width="2.0" stroke-linejoin="round" stroke-linecap="round" points="216.6,1415.8 216.9,1415.8 217.2,1415.8 217.5,1415.8 217.8,1415.8 218.1,1415.8 218.4,1415.7 218.7,1415.7 219.0,1415.7 219.3,1415.6 219.5,1415.6 219.8,1415.5 220.1,1415.5 220.4,1415.4 220.7,1415.3 221.0,1415.2 221.3,1415.1 221.6,1415.0 221.9,1414.9 222.2,1414.7 222.5,1414.5 222.8,1414.4 223.1,1414.1 223.4,1413.9 223.6,1413.6 223.9,1413.3 224.2,1413.0 224.5,1412.6 224.8,1412.2 225.1,1411.7 225.4,1411.2 225.7,1410.6 226.0,1410.0 226.3,1409.3 226.6,1408.5 226.9,1407.7 227.2,1406.8 227.5,1405.8 227.7,1404.8 228.0,1403.6 228.3,1402.4 228.6,1401.1 228.9,1399.6 229.2,1398.1 229.5,1396.5 229.8,1394.7 230.1,1392.9 230.4,1390.9 230.7,1388.8 231.0,1386.6 231.3,1384.3 231.5,1381.8 231.8,1379.3 232.1,1376.6 232.4,1373.8 232.7,1370.9 233.0,1367.9 233.3,1364.9 233.6,1361.7 233.9,1358.4 234.2,1355.1 234.5,1351.7 234.8,1348.2 235.1,1344.7 235.4,1341.2 235.6,1337.6 235.9,1334.1 236.2,1330.5 236.5,1327.0 236.8,1323.5 237.1,1320.1 237.4,1316.7 237.7,1313.4 238.0,1310.2 238.3,1307.2 238.6,1304.2 238.9,1301.4 239.2,1298.8 239.5,1296.4 239.7,1294.1 240.0,1292.1 240.3,1290.2 240.6,1288.6 240.9,1287.2 241.2,1286.1 241.5,1285.2 241.8,1284.6 242.1,1284.2 242.4,1284.1 242.7,1284.3 243.0,1284.7 243.3,1285.3 243.5,1286.3 243.8,1287.4 244.1,1288.9 244.4,1290.5 244.7,1292.4 245.0,1294.5 245.3,1296.8 245.6,1299.2 245.9,1301.9 246.2,1304.7 246.5,1307.6 246.8,1310.7 247.1,1313.9 247.4,1317.2 247.6,1320.6 247.9,1324.1 248.2,1327.6 248.5,1331.1 248.8,1334.7 249.1,1338.2 249.4,1341.8 249.7,1345.3 250.0,1348.8 250.3,1352.2 250.6,1355.6 250.9,1359.0 251.2,1362.2 251.5,1365.4 251.7,1368.4 252.0,1371.4 252.3,1374.3 252.6,1377.0 252.9,1379.7 253.2,1382.2 253.5,1384.6 253.8,1387.0 254.1,1389.1 254.4,1391.2 254.7,1393.2 255.0,1395.0 255.3,1396.7 255.6,1398.4 255.8,1399.9 256.1,1401.3 256.4,1402.6 256.7,1403.8 257.0,1405.0 257.3,1406.0 257.6,1407.0 257.9,1407.9 258.2,1408.7 258.5,1409.4 258.8,1410.1 259.1,1410.7 259.4,1411.3 259.6,1411.8 259.9,1412.2 260.2,1412.6 260.5,1413.0 260.8,1413.4 261.1,1413.7 261.4,1413.9 261.7,1414.2 262.0,1414.4 262.3,1414.6 262.6,1414.7 262.9,1414.9 263.2,1415.0"/>
<polyline fill="none" stroke="#ff4a12" stroke-width="2.0" stroke-linejoin="round" stroke-linecap="round" points="101.1,1402.3 101.2,1402.3 101.3,1402.3 101.4,1402.3 101.5,1402.3 101.6,1402.3 101.7,1402.4 101.8,1402.4 101.9,1402.4 102.0,1402.5 102.1,1402.5 102.2,1402.5 102.3,1402.6 102.4,1402.6 102.4,1402.7 102.5,1402.8 102.6,1402.8 102.7,1402.9 102.8,1403.0 102.9,1403.0 103.0,1403.1 103.1,1403.2 103.2,1403.3 103.3,1403.4 103.4,1403.5 103.5,1403.5 103.6,1403.6 103.7,1403.7 103.8,1403.8 103.9,1404.0 104.0,1404.1 104.1,1404.2 104.2,1404.3 104.3,1404.4 104.4,1404.5 104.5,1404.6 104.6,1404.8 104.7,1404.9 104.8,1405.0 104.9,1405.2 105.0,1405.3 105.1,1405.4 105.1,1405.5 105.2,1405.7 105.3,1405.8 105.4,1406.0 105.5,1406.1 105.6,1406.2 105.7,1406.4 105.8,1406.5 105.9,1406.7 106.0,1406.8 106.1,1407.0 106.2,1407.1 106.3,1407.2 106.4,1407.4 106.5,1407.5 106.6,1407.7 106.7,1407.8 106.8,1408.0 106.9,1408.1 107.0,1408.3 107.1,1408.4 107.2,1408.5 107.3,1408.7 107.4,1408.8 107.5,1409.0 107.6,1409.1 107.7,1409.3 107.8,1409.4 107.8,1409.5 107.9,1409.7 108.0,1409.8 108.1,1409.9 108.2,1410.1 108.3,1410.2 108.4,1410.3 108.5,1410.5 108.6,1410.6 108.7,1410.7 108.8,1410.9 108.9,1411.0 109.0,1411.1 109.1,1411.2 109.2,1411.3 109.3,1411.5 109.4,1411.6 109.5,1411.7 109.6,1411.8 109.7,1411.9 109.8,1412.0 109.9,1412.1 110.0,1412.2 110.1,1412.3 110.2,1412.4 110.3,1412.5 110.4,1412.6 110.5,1412.7 110.5,1412.8 110.6,1412.9 110.7,1413.0 110.8,1413.1 110.9,1413.2 111.0,1413.3 111.1,1413.4 111.2,1413.4 111.3,1413.5 111.4,1413.6 111.5,1413.7 111.6,1413.7 111.7,1413.8 111.8,1413.9 111.9,1414.0 112.0,1414.0 112.1,1414.1 112.2,1414.1 112.3,1414.2 112.4,1414.3 112.5,1414.3 112.6,1414.4 112.7,1414.4 112.8,1414.5 112.9,1414.5 113.0,1414.6 113.1,1414.6 113.2,1414.7 113.2,1414.7 113.3,1414.8 113.4,1414.8 113.5,1414.9 113.6,1414.9 113.7,1414.9 113.8,1415.0 113.9,1415.0 114.0,1415.1 114.1,1415.1 114.2,1415.1 114.3,1415.2 114.4,1415.2 114.5,1415.2 114.6,1415.2 114.7,1415.3 114.8,1415.3 114.9,1415.3 115.0,1415.4 115.1,1415.4 115.2,1415.4 115.3,1415.4 115.4,1415.4 115.5,1415.5 115.6,1415.5 115.7,1415.5 115.8,1415.5 115.9,1415.5 115.9,1415.6 116.0,1415.6 116.1,1415.6 116.2,1415.6 116.3,1415.6 116.4,1415.6"/>
</g>
<rect x="90.90" y="1177.20" width="230.00" height="238.70" fill="none" stroke="#cfcfcf" stroke-width="2.0"/>
<text x="204.40" y="1169.00" class="t" font-size="26.6">Feature1</text>
<text x="101.10" y="1440.60" class="xt" font-size="18.4">0</text>
<text x="210.60" y="1440.60" class="xt" font-size="18.4">10</text>
<text x="320.10" y="1440.60" class="xt" font-size="18.4">20</text>
<text x="205.90" y="1465.10" class="xl" font-size="22.9">Measurement Value</text>
<text x="79.70" y="1422.30" class="yt" font-size="18.4">0</text>
<text x="79.70" y="1361.00" class="yt" font-size="18.4">2000</text>
<text x="79.70" y="1299.70" class="yt" font-size="18.4">4000</text>
<text x="79.70" y="1238.40" class="yt" font-size="18.4">6000</text>
<text transform="translate(30.97,1299.05) rotate(-90)" x="0" y="0" class="yl" font-size="22.9">Frequency</text>
<line x1="444.10" y1="1177.20" x2="444.10" y2="1415.90" class="g"/><line x1="525.25" y1="1177.20" x2="525.25" y2="1415.90" class="g"/><line x1="606.40" y1="1177.20" x2="606.40" y2="1415.90" class="g"/><line x1="433.70" y1="1376.04" x2="663.70" y2="1376.04" class="g"/><line x1="433.70" y1="1336.18" x2="663.70" y2="1336.18" class="g"/><line x1="433.70" y1="1296.32" x2="663.70" y2="1296.32" class="g"/><line x1="433.70" y1="1256.46" x2="663.70" y2="1256.46" class="g"/><line x1="433.70" y1="1216.60" x2="663.70" y2="1216.60" class="g"/>
<clipPath id="cb2"><rect x="433.70" y="1177.20" width="230.00" height="238.70"/></clipPath>
<g clip-path="url(#cb2)">
<g fill="#ffa585"><rect x="444.59" y="1389.39" width="3.25" height="26.51"/><rect x="535.64" y="1395.09" width="4.22" height="20.81"/><rect x="539.86" y="1364.80" width="4.22" height="51.10"/><rect x="544.08" y="1279.02" width="4.71" height="136.88"/><rect x="548.78" y="1188.58" width="4.54" height="227.32"/><rect x="553.33" y="1362.01" width="4.38" height="53.89"/><rect x="557.71" y="1397.96" width="4.06" height="17.94"/><rect x="561.77" y="1409.92" width="2.92" height="5.98"/></g>
<polyline fill="none" stroke="#ff4a12" stroke-width="2.0" stroke-linejoin="round" stroke-linecap="round" points="509.0,1414.2 509.8,1414.0 510.6,1413.9 511.4,1413.7 512.2,1413.6 513.0,1413.4 513.8,1413.2 514.6,1413.0 515.4,1412.8 516.2,1412.6 517.0,1412.3 517.8,1412.1 518.6,1411.8 519.4,1411.5 520.2,1411.1 521.0,1410.8 521.8,1410.3 522.6,1409.9 523.4,1409.3 524.1,1408.8 524.9,1408.1 525.7,1407.3 526.5,1406.4 527.3,1405.5 528.1,1404.4 528.9,1403.1 529.7,1401.7 530.5,1400.2 531.3,1398.4 532.1,1396.5 532.9,1394.3 533.7,1391.9 534.5,1389.3 535.3,1386.2 536.1,1382.8 536.9,1378.9 537.7,1374.5 538.5,1369.3 539.3,1363.2 540.1,1356.2 540.9,1348.1 541.7,1338.8 542.5,1328.5 543.3,1317.1 544.1,1305.0 544.8,1292.6 545.6,1280.3 546.4,1268.8 547.2,1258.7 548.0,1250.6 548.8,1245.1 549.6,1242.5 550.4,1243.1 551.2,1246.9 552.0,1253.5 552.8,1262.5 553.6,1273.4 554.4,1285.5 555.2,1298.1 556.0,1310.7 556.8,1322.9 557.6,1334.2 558.4,1344.4 559.2,1353.4 560.0,1361.3 560.8,1368.1 561.6,1373.9 562.4,1378.9 563.2,1383.2 564.0,1386.9 564.8,1390.1 565.5,1393.0 566.3,1395.5 567.1,1397.8 567.9,1399.8 568.7,1401.6 569.5,1403.2 570.3,1404.6 571.1,1405.9 571.9,1407.0 572.7,1408.0 573.5,1408.9 574.3,1409.7 575.1,1410.4 575.9,1411.0 576.7,1411.5 577.5,1411.9 578.3,1412.3 579.1,1412.7 579.9,1413.0 580.7,1413.3 581.5,1413.5 582.3,1413.7 583.1,1413.9 583.9,1414.0 584.7,1414.2 585.5,1414.3 586.3,1414.4 587.0,1414.5 587.8,1414.5 588.6,1414.6 589.4,1414.6 590.2,1414.7 591.0,1414.7 591.8,1414.7 592.6,1414.7 593.4,1414.7 594.2,1414.8 595.0,1414.8 595.8,1414.8 596.6,1414.8 597.4,1414.8 598.2,1414.9 599.0,1414.9 599.8,1414.9 600.6,1415.0 601.4,1415.0 602.2,1415.0 603.0,1415.1 603.8,1415.1 604.6,1415.1 605.4,1415.2 606.2,1415.2 607.0,1415.2 607.7,1415.1 608.5,1415.1 609.3,1415.0 610.1,1414.9 610.9,1414.8 611.7,1414.7 612.5,1414.5 613.3,1414.2 614.1,1414.0 614.9,1413.7 615.7,1413.4 616.5,1413.1 617.3,1412.9 618.1,1412.6 618.9,1412.3 619.7,1412.1 620.5,1411.9 621.3,1411.8 622.1,1411.7 622.9,1411.7 623.7,1411.8 624.5,1411.9 625.3,1412.0 626.1,1412.3 626.9,1412.5 627.7,1412.8 628.4,1413.1 629.2,1413.4 630.0,1413.7 630.8,1414.0 631.6,1414.3 632.4,1414.6 633.2,1414.8 634.0,1415.0 634.8,1415.2 635.6,1415.3"/>
<polyline fill="none" stroke="#ff4a12" stroke-width="2.0" stroke-linejoin="round" stroke-linecap="round" points="444.1,1401.6 444.2,1401.6 444.2,1401.6 444.3,1401.6 444.3,1401.6 444.4,1401.6 444.5,1401.6 444.5,1401.7 444.6,1401.7 444.6,1401.7 444.7,1401.8 444.8,1401.8 444.8,1401.9 444.9,1401.9 444.9,1402.0 445.0,1402.1 445.0,1402.1 445.1,1402.2 445.2,1402.3 445.2,1402.4 445.3,1402.5 445.3,1402.6 445.4,1402.7 445.5,1402.8 445.5,1402.9 445.6,1403.0 445.6,1403.1 445.7,1403.2 445.8,1403.3 445.8,1403.4 445.9,1403.5 445.9,1403.7 446.0,1403.8 446.1,1403.9 446.1,1404.1 446.2,1404.2 446.2,1404.3 446.3,1404.5 446.3,1404.6 446.4,1404.8 446.5,1404.9 446.5,1405.1 446.6,1405.2 446.6,1405.3 446.7,1405.5 446.8,1405.7 446.8,1405.8 446.9,1406.0 446.9,1406.1 447.0,1406.3 447.1,1406.4 447.1,1406.6 447.2,1406.7 447.2,1406.9 447.3,1407.1 447.4,1407.2 447.4,1407.4 447.5,1407.5 447.5,1407.7 447.6,1407.9 447.7,1408.0 447.7,1408.2 447.8,1408.3 447.8,1408.5 447.9,1408.6 447.9,1408.8 448.0,1408.9 448.1,1409.1 448.1,1409.3 448.2,1409.4 448.2,1409.5 448.3,1409.7 448.4,1409.8 448.4,1410.0 448.5,1410.1 448.5,1410.3 448.6,1410.4 448.7,1410.5 448.7,1410.7 448.8,1410.8 448.8,1411.0 448.9,1411.1 449.0,1411.2 449.0,1411.3 449.1,1411.5 449.1,1411.6 449.2,1411.7 449.3,1411.8 449.3,1411.9 449.4,1412.1 449.4,1412.2 449.5,1412.3 449.5,1412.4 449.6,1412.5 449.7,1412.6 449.7,1412.7 449.8,1412.8 449.8,1412.9 449.9,1413.0 450.0,1413.1 450.0,1413.2 450.1,1413.3 450.1,1413.4 450.2,1413.4 450.3,1413.5 450.3,1413.6 450.4,1413.7 450.4,1413.8 450.5,1413.8 450.6,1413.9 450.6,1414.0 450.7,1414.1 450.7,1414.1 450.8,1414.2 450.8,1414.2 450.9,1414.3 451.0,1414.4 451.0,1414.4 451.1,1414.5 451.1,1414.5 451.2,1414.6 451.3,1414.6 451.3,1414.7 451.4,1414.7 451.4,1414.8 451.5,1414.8 451.6,1414.9 451.6,1414.9 451.7,1415.0 451.7,1415.0 451.8,1415.0 451.9,1415.1 451.9,1415.1 452.0,1415.1 452.0,1415.2 452.1,1415.2 452.2,1415.2 452.2,1415.3 452.3,1415.3 452.3,1415.3 452.4,1415.3 452.4,1415.4 452.5,1415.4 452.6,1415.4 452.6,1415.4 452.7,1415.5 452.7,1415.5 452.8,1415.5 452.9,1415.5 452.9,1415.5 453.0,1415.6 453.0,1415.6 453.1,1415.6 453.2,1415.6 453.2,1415.6 453.3,1415.6 453.3,1415.6 453.4,1415.7 453.5,1415.7 453.5,1415.7"/>
</g>
<rect x="433.70" y="1177.20" width="230.00" height="238.70" fill="none" stroke="#cfcfcf" stroke-width="2.0"/>
<text x="547.20" y="1169.00" class="t" font-size="26.6">Feature2</text>
<text x="444.10" y="1440.60" class="xt" font-size="18.4">0</text>
<text x="525.25" y="1440.60" class="xt" font-size="18.4">5</text>
<text x="606.40" y="1440.60" class="xt" font-size="18.4">10</text>
<text x="548.70" y="1465.10" class="xl" font-size="22.9">Measurement Value</text>
<text x="422.50" y="1422.30" class="yt" font-size="18.4">0</text>
<text x="422.50" y="1382.44" class="yt" font-size="18.4">1000</text>
<text x="422.50" y="1342.58" class="yt" font-size="18.4">2000</text>
<text x="422.50" y="1302.72" class="yt" font-size="18.4">3000</text>
<text x="422.50" y="1262.86" class="yt" font-size="18.4">4000</text>
<text x="422.50" y="1223.00" class="yt" font-size="18.4">5000</text>
<text transform="translate(373.77,1299.05) rotate(-90)" x="0" y="0" class="yl" font-size="22.9">Frequency</text>
<line x1="786.90" y1="1177.20" x2="786.90" y2="1415.90" class="g"/><line x1="849.95" y1="1177.20" x2="849.95" y2="1415.90" class="g"/><line x1="913.00" y1="1177.20" x2="913.00" y2="1415.90" class="g"/><line x1="976.05" y1="1177.20" x2="976.05" y2="1415.90" class="g"/><line x1="776.50" y1="1364.70" x2="1006.50" y2="1364.70" class="g"/><line x1="776.50" y1="1313.50" x2="1006.50" y2="1313.50" class="g"/><line x1="776.50" y1="1262.30" x2="1006.50" y2="1262.30" class="g"/><line x1="776.50" y1="1211.10" x2="1006.50" y2="1211.10" class="g"/>
<clipPath id="cb3"><rect x="776.50" y="1177.20" width="230.00" height="238.70"/></clipPath>
<g clip-path="url(#cb3)">
<g fill="#ffa585"><rect x="786.90" y="1401.56" width="4.29" height="14.34"/><rect x="912.62" y="1410.27" width="6.43" height="5.63"/><rect x="919.05" y="1344.60" width="4.16" height="71.30"/><rect x="923.21" y="1188.60" width="4.54" height="227.30"/><rect x="927.75" y="1400.90" width="4.16" height="15.00"/></g>
<polyline fill="none" stroke="#ff4a12" stroke-width="2.0" stroke-linejoin="round" stroke-linecap="round" points="887.8,1415.1 888.1,1415.0 888.4,1415.0 888.8,1415.0 889.1,1414.9 889.4,1414.9 889.7,1414.8 890.0,1414.8 890.4,1414.7 890.7,1414.7 891.0,1414.6 891.3,1414.5 891.7,1414.5 892.0,1414.4 892.3,1414.4 892.6,1414.3 893.0,1414.2 893.3,1414.2 893.6,1414.1 893.9,1414.0 894.3,1413.9 894.6,1413.8 894.9,1413.7 895.2,1413.6 895.5,1413.5 895.9,1413.4 896.2,1413.3 896.5,1413.2 896.8,1413.0 897.2,1412.9 897.5,1412.7 897.8,1412.6 898.1,1412.4 898.5,1412.3 898.8,1412.1 899.1,1411.9 899.4,1411.7 899.8,1411.5 900.1,1411.3 900.4,1411.1 900.7,1410.9 901.0,1410.7 901.4,1410.5 901.7,1410.3 902.0,1410.1 902.3,1409.9 902.7,1409.7 903.0,1409.5 903.3,1409.3 903.6,1409.1 904.0,1408.9 904.3,1408.8 904.6,1408.6 904.9,1408.5 905.3,1408.3 905.6,1408.2 905.9,1408.1 906.2,1408.0 906.5,1408.0 906.9,1407.9 907.2,1407.9 907.5,1407.9 907.8,1407.9 908.2,1407.9 908.5,1407.9 908.8,1408.0 909.1,1408.0 909.5,1408.1 909.8,1408.2 910.1,1408.2 910.4,1408.3 910.8,1408.4 911.1,1408.5 911.4,1408.5 911.7,1408.5 912.0,1408.5 912.4,1408.4 912.7,1408.3 913.0,1408.1 913.3,1407.7 913.7,1407.3 914.0,1406.7 914.3,1406.0 914.6,1405.0 915.0,1403.9 915.3,1402.5 915.6,1400.9 915.9,1399.0 916.3,1396.7 916.6,1394.1 916.9,1391.1 917.2,1387.8 917.5,1384.1 917.9,1379.9 918.2,1375.4 918.5,1370.5 918.8,1365.2 919.2,1359.6 919.5,1353.7 919.8,1347.6 920.1,1341.3 920.5,1334.8 920.8,1328.3 921.1,1321.9 921.4,1315.6 921.8,1309.6 922.1,1303.9 922.4,1298.6 922.7,1293.8 923.0,1289.7 923.4,1286.2 923.7,1283.5 924.0,1281.6 924.3,1280.5 924.7,1280.3 925.0,1280.9 925.3,1282.4 925.6,1284.7 926.0,1287.8 926.3,1291.7 926.6,1296.2 926.9,1301.2 927.3,1306.8 927.6,1312.7 927.9,1319.0 928.2,1325.4 928.6,1332.0 928.9,1338.6 929.2,1345.1 929.5,1351.5 929.8,1357.7 930.2,1363.6 930.5,1369.2 930.8,1374.5 931.1,1379.4 931.5,1384.0 931.8,1388.1 932.1,1391.9 932.4,1395.3 932.8,1398.3 933.1,1401.0 933.4,1403.4 933.7,1405.4 934.1,1407.2 934.4,1408.7 934.7,1410.0 935.0,1411.1 935.3,1412.0 935.7,1412.8 936.0,1413.4 936.3,1413.9 936.6,1414.3 937.0,1414.7 937.3,1414.9 937.6,1415.2 937.9,1415.3 938.3,1415.5 938.6,1415.6 938.9,1415.6 939.2,1415.7"/>
<polyline fill="none" stroke="#ff4a12" stroke-width="2.0" stroke-linejoin="round" stroke-linecap="round" points="844.1,1414.7 844.4,1414.7 844.6,1414.7 844.8,1414.7 845.0,1414.7 845.2,1414.7 845.5,1414.7 845.7,1414.7 845.9,1414.7 846.1,1414.7 846.3,1414.7 846.5,1414.7 846.8,1414.7 847.0,1414.7 847.2,1414.7 847.4,1414.7 847.6,1414.7 847.8,1414.7 848.1,1414.7 848.3,1414.7 848.5,1414.7 848.7,1414.7 848.9,1414.7 849.1,1414.7 849.4,1414.7 849.6,1414.7 849.8,1414.7 850.0,1414.7 850.2,1414.7 850.5,1414.7 850.7,1414.7 850.9,1414.7 851.1,1414.7 851.3,1414.7 851.5,1414.7 851.8,1414.7 852.0,1414.7 852.2,1414.7 852.4,1414.7 852.6,1414.7 852.8,1414.7 853.1,1414.7 853.3,1414.6 853.5,1414.6 853.7,1414.6 853.9,1414.6 854.1,1414.6 854.4,1414.6 854.6,1414.6 854.8,1414.6 855.0,1414.6 855.2,1414.6 855.4,1414.6 855.7,1414.6 855.9,1414.6 856.1,1414.6 856.3,1414.6 856.5,1414.6 856.8,1414.6 857.0,1414.6 857.2,1414.6 857.4,1414.6 857.6,1414.6 857.8,1414.6 858.1,1414.6 858.3,1414.6 858.5,1414.6 858.7,1414.6 858.9,1414.6 859.1,1414.6 859.4,1414.6 859.6,1414.6 859.8,1414.6 860.0,1414.6 860.2,1414.6 860.4,1414.6 860.7,1414.6 860.9,1414.6 861.1,1414.6 861.3,1414.6 861.5,1414.6 861.8,1414.6 862.0,1414.6 862.2,1414.6 862.4,1414.6 862.6,1414.6 862.8,1414.6 863.1,1414.6 863.3,1414.6 863.5,1414.6 863.7,1414.6 863.9,1414.6 864.1,1414.6 864.4,1414.6 864.6,1414.6 864.8,1414.6 865.0,1414.6 865.2,1414.6 865.4,1414.6 865.7,1414.6 865.9,1414.6 866.1,1414.6 866.3,1414.6 866.5,1414.6 866.7,1414.6 867.0,1414.6 867.2,1414.6 867.4,1414.6 867.6,1414.6 867.8,1414.6 868.1,1414.6 868.3,1414.6 868.5,1414.6 868.7,1414.6 868.9,1414.6 869.1,1414.6 869.4,1414.6 869.6,1414.7 869.8,1414.7 870.0,1414.7 870.2,1414.7 870.4,1414.7 870.7,1414.7 870.9,1414.7 871.1,1414.7 871.3,1414.7 871.5,1414.7 871.7,1414.7 872.0,1414.7 872.2,1414.7 872.4,1414.7 872.6,1414.7 872.8,1414.7 873.1,1414.7 873.3,1414.7 873.5,1414.7 873.7,1414.7 873.9,1414.7 874.1,1414.7 874.4,1414.7 874.6,1414.7 874.8,1414.7 875.0,1414.7 875.2,1414.7 875.4,1414.7 875.7,1414.7 875.9,1414.7 876.1,1414.7 876.3,1414.7 876.5,1414.7 876.7,1414.7 877.0,1414.7 877.2,1414.7 877.4,1414.7 877.6,1414.7 877.8,1414.7 878.0,1414.7 878.3,1414.7 878.5,1414.7 878.7,1414.7"/>
<polyline fill="none" stroke="#ff4a12" stroke-width="2.0" stroke-linejoin="round" stroke-linecap="round" points="786.9,1408.1 787.0,1408.1 787.0,1408.1 787.1,1408.1 787.1,1408.1 787.2,1408.1 787.3,1408.1 787.3,1408.2 787.4,1408.2 787.4,1408.2 787.5,1408.2 787.6,1408.3 787.6,1408.3 787.7,1408.3 787.7,1408.4 787.8,1408.4 787.9,1408.4 787.9,1408.5 788.0,1408.5 788.0,1408.6 788.1,1408.6 788.2,1408.7 788.2,1408.8 788.3,1408.8 788.3,1408.9 788.4,1408.9 788.5,1409.0 788.5,1409.1 788.6,1409.1 788.6,1409.2 788.7,1409.3 788.8,1409.3 788.8,1409.4 788.9,1409.5 788.9,1409.6 789.0,1409.7 789.1,1409.7 789.1,1409.8 789.2,1409.9 789.3,1410.0 789.3,1410.1 789.4,1410.2 789.4,1410.2 789.5,1410.3 789.6,1410.4 789.6,1410.5 789.7,1410.6 789.7,1410.7 789.8,1410.8 789.9,1410.9 789.9,1411.0 790.0,1411.0 790.0,1411.1 790.1,1411.2 790.2,1411.3 790.2,1411.4 790.3,1411.5 790.3,1411.6 790.4,1411.7 790.5,1411.8 790.5,1411.9 790.6,1411.9 790.6,1412.0 790.7,1412.1 790.8,1412.2 790.8,1412.3 790.9,1412.4 790.9,1412.5 791.0,1412.5 791.1,1412.6 791.1,1412.7 791.2,1412.8 791.2,1412.9 791.3,1413.0 791.4,1413.0 791.4,1413.1 791.5,1413.2 791.5,1413.3 791.6,1413.3 791.7,1413.4 791.7,1413.5 791.8,1413.5 791.8,1413.6 791.9,1413.7 792.0,1413.7 792.0,1413.8 792.1,1413.9 792.1,1413.9 792.2,1414.0 792.3,1414.1 792.3,1414.1 792.4,1414.2 792.4,1414.2 792.5,1414.3 792.6,1414.3 792.6,1414.4 792.7,1414.5 792.7,1414.5 792.8,1414.6 792.9,1414.6 792.9,1414.6 793.0,1414.7 793.0,1414.7 793.1,1414.8 793.2,1414.8 793.2,1414.9 793.3,1414.9 793.3,1414.9 793.4,1415.0 793.5,1415.0 793.5,1415.0 793.6,1415.1 793.7,1415.1 793.7,1415.1 793.8,1415.2 793.8,1415.2 793.9,1415.2 794.0,1415.3 794.0,1415.3 794.1,1415.3 794.1,1415.3 794.2,1415.4 794.3,1415.4 794.3,1415.4 794.4,1415.4 794.4,1415.5 794.5,1415.5 794.6,1415.5 794.6,1415.5 794.7,1415.5 794.7,1415.5 794.8,1415.6 794.9,1415.6 794.9,1415.6 795.0,1415.6 795.0,1415.6 795.1,1415.6 795.2,1415.6 795.2,1415.7 795.3,1415.7 795.3,1415.7 795.4,1415.7 795.5,1415.7 795.5,1415.7 795.6,1415.7 795.6,1415.7 795.7,1415.7 795.8,1415.7 795.8,1415.8 795.9,1415.8 795.9,1415.8 796.0,1415.8 796.1,1415.8 796.1,1415.8 796.2,1415.8 796.2,1415.8 796.3,1415.8 796.4,1415.8 796.4,1415.8 796.5,1415.8"/>
</g>
<rect x="776.50" y="1177.20" width="230.00" height="238.70" fill="none" stroke="#cfcfcf" stroke-width="2.0"/>
<text x="890.00" y="1169.00" class="t" font-size="26.6">Feature3</text>
<text x="786.90" y="1440.60" class="xt" font-size="18.4">0</text>
<text x="849.95" y="1440.60" class="xt" font-size="18.4">5</text>
<text x="913.00" y="1440.60" class="xt" font-size="18.4">10</text>
<text x="976.05" y="1440.60" class="xt" font-size="18.4">15</text>
<text x="891.50" y="1465.10" class="xl" font-size="22.9">Measurement Value</text>
<text x="765.30" y="1422.30" class="yt" font-size="18.4">0</text>
<text x="765.30" y="1371.10" class="yt" font-size="18.4">2000</text>
<text x="765.30" y="1319.90" class="yt" font-size="18.4">4000</text>
<text x="765.30" y="1268.70" class="yt" font-size="18.4">6000</text>
<text x="765.30" y="1217.50" class="yt" font-size="18.4">8000</text>
<text transform="translate(716.57,1299.05) rotate(-90)" x="0" y="0" class="yl" font-size="22.9">Frequency</text>
<line x1="1129.40" y1="1177.20" x2="1129.40" y2="1415.90" class="g"/><line x1="1212.35" y1="1177.20" x2="1212.35" y2="1415.90" class="g"/><line x1="1295.30" y1="1177.20" x2="1295.30" y2="1415.90" class="g"/><line x1="1119.30" y1="1363.40" x2="1349.30" y2="1363.40" class="g"/><line x1="1119.30" y1="1310.90" x2="1349.30" y2="1310.90" class="g"/><line x1="1119.30" y1="1258.40" x2="1349.30" y2="1258.40" class="g"/><line x1="1119.30" y1="1205.90" x2="1349.30" y2="1205.90" class="g"/>
<clipPath id="cb4"><rect x="1119.30" y="1177.20" width="230.00" height="238.70"/></clipPath>
<g clip-path="url(#cb4)">
<g fill="#ffa585"><rect x="1129.40" y="1395.82" width="4.98" height="20.08"/><rect x="1283.69" y="1396.61" width="3.82" height="19.29"/><rect x="1287.50" y="1390.81" width="3.65" height="25.10"/><rect x="1291.15" y="1351.90" width="4.15" height="64.00"/><rect x="1297.95" y="1188.60" width="2.32" height="227.30"/><rect x="1302.93" y="1398.71" width="3.15" height="17.19"/><rect x="1307.74" y="1410.91" width="5.81" height="4.99"/></g>
<polyline fill="none" stroke="#ff4a12" stroke-width="2.0" stroke-linejoin="round" stroke-linecap="round" points="1274.6,1415.8 1274.9,1415.7 1275.2,1415.7 1275.5,1415.7 1275.8,1415.7 1276.1,1415.6 1276.4,1415.6 1276.8,1415.5 1277.1,1415.4 1277.4,1415.4 1277.7,1415.3 1278.0,1415.2 1278.3,1415.0 1278.6,1414.9 1278.9,1414.8 1279.3,1414.6 1279.6,1414.4 1279.9,1414.2 1280.2,1413.9 1280.5,1413.6 1280.8,1413.3 1281.1,1413.0 1281.4,1412.6 1281.8,1412.2 1282.1,1411.7 1282.4,1411.2 1282.7,1410.6 1283.0,1409.9 1283.3,1409.2 1283.6,1408.4 1284.0,1407.6 1284.3,1406.7 1284.6,1405.7 1284.9,1404.6 1285.2,1403.4 1285.5,1402.2 1285.8,1400.8 1286.1,1399.4 1286.5,1397.9 1286.8,1396.2 1287.1,1394.5 1287.4,1392.6 1287.7,1390.7 1288.0,1388.6 1288.3,1386.5 1288.6,1384.2 1289.0,1381.9 1289.3,1379.4 1289.6,1376.9 1289.9,1374.3 1290.2,1371.6 1290.5,1368.8 1290.8,1366.0 1291.2,1363.1 1291.5,1360.2 1291.8,1357.3 1292.1,1354.3 1292.4,1351.4 1292.7,1348.4 1293.0,1345.5 1293.3,1342.6 1293.7,1339.7 1294.0,1336.9 1294.3,1334.2 1294.6,1331.6 1294.9,1329.1 1295.2,1326.7 1295.5,1324.5 1295.8,1322.4 1296.2,1320.5 1296.5,1318.7 1296.8,1317.2 1297.1,1315.8 1297.4,1314.7 1297.7,1313.7 1298.0,1313.0 1298.4,1312.5 1298.7,1312.3 1299.0,1312.2 1299.3,1312.4 1299.6,1312.9 1299.9,1313.5 1300.2,1314.4 1300.5,1315.5 1300.9,1316.8 1301.2,1318.3 1301.5,1320.0 1301.8,1321.8 1302.1,1323.9 1302.4,1326.1 1302.7,1328.4 1303.0,1330.9 1303.4,1333.5 1303.7,1336.1 1304.0,1338.9 1304.3,1341.7 1304.6,1344.6 1304.9,1347.6 1305.2,1350.5 1305.6,1353.5 1305.9,1356.4 1306.2,1359.4 1306.5,1362.3 1306.8,1365.2 1307.1,1368.0 1307.4,1370.8 1307.7,1373.5 1308.1,1376.1 1308.4,1378.7 1308.7,1381.2 1309.0,1383.5 1309.3,1385.8 1309.6,1388.0 1309.9,1390.1 1310.2,1392.1 1310.6,1393.9 1310.9,1395.7 1311.2,1397.4 1311.5,1399.0 1311.8,1400.4 1312.1,1401.8 1312.4,1403.1 1312.8,1404.3 1313.1,1405.4 1313.4,1406.4 1313.7,1407.3 1314.0,1408.2 1314.3,1409.0 1314.6,1409.7 1314.9,1410.4 1315.3,1411.0 1315.6,1411.5 1315.9,1412.0 1316.2,1412.5 1316.5,1412.9 1316.8,1413.2 1317.1,1413.6 1317.4,1413.8 1317.8,1414.1 1318.1,1414.3 1318.4,1414.5 1318.7,1414.7 1319.0,1414.9 1319.3,1415.0 1319.6,1415.1 1320.0,1415.2 1320.3,1415.3 1320.6,1415.4 1320.9,1415.5 1321.2,1415.5 1321.5,1415.6 1321.8,1415.6 1322.1,1415.7 1322.5,1415.7 1322.8,1415.7 1323.1,1415.8 1323.4,1415.8 1323.7,1415.8 1324.0,1415.8 1324.3,1415.8"/>
<polyline fill="none" stroke="#ff4a12" stroke-width="2.0" stroke-linejoin="round" stroke-linecap="round" points="1129.4,1408.1 1129.5,1408.1 1129.6,1408.1 1129.6,1408.1 1129.7,1408.1 1129.8,1408.1 1129.9,1408.1 1130.0,1408.2 1130.1,1408.2 1130.1,1408.2 1130.2,1408.2 1130.3,1408.3 1130.4,1408.3 1130.5,1408.3 1130.5,1408.3 1130.6,1408.4 1130.7,1408.4 1130.8,1408.5 1130.9,1408.5 1131.0,1408.5 1131.0,1408.6 1131.1,1408.6 1131.2,1408.7 1131.3,1408.7 1131.4,1408.8 1131.4,1408.9 1131.5,1408.9 1131.6,1409.0 1131.7,1409.0 1131.8,1409.1 1131.9,1409.2 1131.9,1409.2 1132.0,1409.3 1132.1,1409.4 1132.2,1409.4 1132.3,1409.5 1132.3,1409.6 1132.4,1409.6 1132.5,1409.7 1132.6,1409.8 1132.7,1409.9 1132.8,1410.0 1132.8,1410.0 1132.9,1410.1 1133.0,1410.2 1133.1,1410.3 1133.2,1410.4 1133.2,1410.4 1133.3,1410.5 1133.4,1410.6 1133.5,1410.7 1133.6,1410.8 1133.7,1410.9 1133.7,1410.9 1133.8,1411.0 1133.9,1411.1 1134.0,1411.2 1134.1,1411.3 1134.2,1411.4 1134.2,1411.5 1134.3,1411.5 1134.4,1411.6 1134.5,1411.7 1134.6,1411.8 1134.6,1411.9 1134.7,1412.0 1134.8,1412.0 1134.9,1412.1 1135.0,1412.2 1135.1,1412.3 1135.1,1412.4 1135.2,1412.4 1135.3,1412.5 1135.4,1412.6 1135.5,1412.7 1135.5,1412.8 1135.6,1412.8 1135.7,1412.9 1135.8,1413.0 1135.9,1413.0 1136.0,1413.1 1136.0,1413.2 1136.1,1413.3 1136.2,1413.3 1136.3,1413.4 1136.4,1413.5 1136.4,1413.5 1136.5,1413.6 1136.6,1413.7 1136.7,1413.7 1136.8,1413.8 1136.9,1413.8 1136.9,1413.9 1137.0,1414.0 1137.1,1414.0 1137.2,1414.1 1137.3,1414.1 1137.3,1414.2 1137.4,1414.2 1137.5,1414.3 1137.6,1414.3 1137.7,1414.4 1137.8,1414.4 1137.8,1414.5 1137.9,1414.5 1138.0,1414.6 1138.1,1414.6 1138.2,1414.7 1138.2,1414.7 1138.3,1414.8 1138.4,1414.8 1138.5,1414.8 1138.6,1414.9 1138.7,1414.9 1138.7,1414.9 1138.8,1415.0 1138.9,1415.0 1139.0,1415.0 1139.1,1415.1 1139.1,1415.1 1139.2,1415.1 1139.3,1415.2 1139.4,1415.2 1139.5,1415.2 1139.6,1415.2 1139.6,1415.3 1139.7,1415.3 1139.8,1415.3 1139.9,1415.3 1140.0,1415.4 1140.0,1415.4 1140.1,1415.4 1140.2,1415.4 1140.3,1415.4 1140.4,1415.5 1140.5,1415.5 1140.5,1415.5 1140.6,1415.5 1140.7,1415.5 1140.8,1415.6 1140.9,1415.6 1140.9,1415.6 1141.0,1415.6 1141.1,1415.6 1141.2,1415.6 1141.3,1415.6 1141.4,1415.6 1141.4,1415.7 1141.5,1415.7 1141.6,1415.7 1141.7,1415.7 1141.8,1415.7 1141.8,1415.7 1141.9,1415.7 1142.0,1415.7 1142.1,1415.7 1142.2,1415.7 1142.3,1415.8 1142.3,1415.8 1142.4,1415.8"/>
</g>
<rect x="1119.30" y="1177.20" width="230.00" height="238.70" fill="none" stroke="#cfcfcf" stroke-width="2.0"/>
<text x="1232.80" y="1169.00" class="t" font-size="26.6">Feature4</text>
<text x="1129.40" y="1440.60" class="xt" font-size="18.4">0</text>
<text x="1212.35" y="1440.60" class="xt" font-size="18.4">10</text>
<text x="1295.30" y="1440.60" class="xt" font-size="18.4">20</text>
<text x="1234.30" y="1465.10" class="xl" font-size="22.9">Measurement Value</text>
<text x="1108.10" y="1422.30" class="yt" font-size="18.4">0</text>
<text x="1108.10" y="1369.80" class="yt" font-size="18.4">2000</text>
<text x="1108.10" y="1317.30" class="yt" font-size="18.4">4000</text>
<text x="1108.10" y="1264.80" class="yt" font-size="18.4">6000</text>
<text x="1108.10" y="1212.30" class="yt" font-size="18.4">8000</text>
<text transform="translate(1059.37,1299.05) rotate(-90)" x="0" y="0" class="yl" font-size="22.9">Frequency</text>
<line x1="1472.40" y1="1177.20" x2="1472.40" y2="1415.90" class="g"/><line x1="1533.00" y1="1177.20" x2="1533.00" y2="1415.90" class="g"/><line x1="1593.60" y1="1177.20" x2="1593.60" y2="1415.90" class="g"/><line x1="1654.20" y1="1177.20" x2="1654.20" y2="1415.90" class="g"/><line x1="1462.10" y1="1371.30" x2="1692.10" y2="1371.30" class="g"/><line x1="1462.10" y1="1326.70" x2="1692.10" y2="1326.70" class="g"/><line x1="1462.10" y1="1282.10" x2="1692.10" y2="1282.10" class="g"/><line x1="1462.10" y1="1237.50" x2="1692.10" y2="1237.50" class="g"/><line x1="1462.10" y1="1192.90" x2="1692.10" y2="1192.90" class="g"/>
<clipPath id="cb5"><rect x="1462.10" y="1177.20" width="230.00" height="238.70"/></clipPath>
<g clip-path="url(#cb5)">
<g fill="#ffa585"><rect x="1472.40" y="1188.62" width="4.42" height="227.28"/><rect x="1642.08" y="1414.47" width="6.06" height="1.43"/><rect x="1648.14" y="1413.76" width="6.06" height="2.14"/><rect x="1654.20" y="1413.22" width="6.06" height="2.68"/><rect x="1660.26" y="1413.05" width="6.06" height="2.85"/><rect x="1666.32" y="1413.22" width="6.06" height="2.68"/><rect x="1672.38" y="1413.76" width="6.06" height="2.14"/></g>
<polyline fill="none" stroke="#ff4a12" stroke-width="2.0" stroke-linejoin="round" stroke-linecap="round" points="1472.4,1359.1 1472.6,1359.1 1472.7,1359.1 1472.9,1359.2 1473.0,1359.2 1473.2,1359.3 1473.3,1359.4 1473.5,1359.6 1473.6,1359.7 1473.8,1359.9 1473.9,1360.0 1474.1,1360.2 1474.3,1360.4 1474.4,1360.7 1474.6,1360.9 1474.7,1361.2 1474.9,1361.5 1475.0,1361.8 1475.2,1362.1 1475.3,1362.4 1475.5,1362.8 1475.6,1363.1 1475.8,1363.5 1476.0,1363.9 1476.1,1364.3 1476.3,1364.7 1476.4,1365.1 1476.6,1365.6 1476.7,1366.0 1476.9,1366.5 1477.0,1367.0 1477.2,1367.5 1477.4,1368.0 1477.5,1368.5 1477.7,1369.0 1477.8,1369.6 1478.0,1370.1 1478.1,1370.7 1478.3,1371.2 1478.4,1371.8 1478.6,1372.4 1478.7,1373.0 1478.9,1373.5 1479.1,1374.1 1479.2,1374.7 1479.4,1375.3 1479.5,1376.0 1479.7,1376.6 1479.8,1377.2 1480.0,1377.8 1480.1,1378.4 1480.3,1379.0 1480.4,1379.7 1480.6,1380.3 1480.8,1380.9 1480.9,1381.6 1481.1,1382.2 1481.2,1382.8 1481.4,1383.4 1481.5,1384.1 1481.7,1384.7 1481.8,1385.3 1482.0,1385.9 1482.1,1386.5 1482.3,1387.2 1482.5,1387.8 1482.6,1388.4 1482.8,1389.0 1482.9,1389.6 1483.1,1390.2 1483.2,1390.8 1483.4,1391.3 1483.5,1391.9 1483.7,1392.5 1483.9,1393.1 1484.0,1393.6 1484.2,1394.2 1484.3,1394.7 1484.5,1395.3 1484.6,1395.8 1484.8,1396.3 1484.9,1396.8 1485.1,1397.3 1485.2,1397.8 1485.4,1398.3 1485.6,1398.8 1485.7,1399.3 1485.9,1399.8 1486.0,1400.2 1486.2,1400.7 1486.3,1401.1 1486.5,1401.6 1486.6,1402.0 1486.8,1402.4 1486.9,1402.8 1487.1,1403.2 1487.3,1403.6 1487.4,1404.0 1487.6,1404.4 1487.7,1404.8 1487.9,1405.1 1488.0,1405.5 1488.2,1405.8 1488.3,1406.2 1488.5,1406.5 1488.6,1406.8 1488.8,1407.1 1489.0,1407.4 1489.1,1407.7 1489.3,1408.0 1489.4,1408.3 1489.6,1408.6 1489.7,1408.8 1489.9,1409.1 1490.0,1409.4 1490.2,1409.6 1490.3,1409.8 1490.5,1410.1 1490.7,1410.3 1490.8,1410.5 1491.0,1410.7 1491.1,1410.9 1491.3,1411.1 1491.4,1411.3 1491.6,1411.5 1491.7,1411.7 1491.9,1411.8 1492.1,1412.0 1492.2,1412.2 1492.4,1412.3 1492.5,1412.5 1492.7,1412.6 1492.8,1412.8 1493.0,1412.9 1493.1,1413.0 1493.3,1413.2 1493.4,1413.3 1493.6,1413.4 1493.8,1413.5 1493.9,1413.6 1494.1,1413.7 1494.2,1413.8 1494.4,1413.9 1494.5,1414.0 1494.7,1414.1 1494.8,1414.2 1495.0,1414.3 1495.1,1414.3 1495.3,1414.4 1495.5,1414.5 1495.6,1414.6 1495.8,1414.6 1495.9,1414.7 1496.1,1414.7 1496.2,1414.8 1496.4,1414.9 1496.5,1414.9 1496.7,1415.0 1496.8,1415.0 1497.0,1415.1"/>
<polyline fill="none" stroke="#ff4a12" stroke-width="2.0" stroke-linejoin="round" stroke-linecap="round" points="1641.5,1415.5 1641.7,1415.5 1642.0,1415.5 1642.3,1415.5 1642.5,1415.5 1642.8,1415.5 1643.0,1415.4 1643.3,1415.4 1643.5,1415.4 1643.8,1415.4 1644.1,1415.4 1644.3,1415.3 1644.6,1415.3 1644.8,1415.3 1645.1,1415.3 1645.4,1415.2 1645.6,1415.2 1645.9,1415.2 1646.1,1415.2 1646.4,1415.1 1646.7,1415.1 1646.9,1415.1 1647.2,1415.1 1647.4,1415.0 1647.7,1415.0 1648.0,1415.0 1648.2,1415.0 1648.5,1414.9 1648.7,1414.9 1649.0,1414.9 1649.2,1414.8 1649.5,1414.8 1649.8,1414.8 1650.0,1414.7 1650.3,1414.7 1650.5,1414.7 1650.8,1414.6 1651.1,1414.6 1651.3,1414.6 1651.6,1414.5 1651.8,1414.5 1652.1,1414.5 1652.4,1414.4 1652.6,1414.4 1652.9,1414.4 1653.1,1414.3 1653.4,1414.3 1653.7,1414.3 1653.9,1414.2 1654.2,1414.2 1654.4,1414.2 1654.7,1414.1 1655.0,1414.1 1655.2,1414.1 1655.5,1414.0 1655.7,1414.0 1656.0,1414.0 1656.2,1413.9 1656.5,1413.9 1656.8,1413.9 1657.0,1413.8 1657.3,1413.8 1657.5,1413.8 1657.8,1413.7 1658.1,1413.7 1658.3,1413.7 1658.6,1413.6 1658.8,1413.6 1659.1,1413.6 1659.4,1413.6 1659.6,1413.5 1659.9,1413.5 1660.1,1413.5 1660.4,1413.5 1660.7,1413.4 1660.9,1413.4 1661.2,1413.4 1661.4,1413.4 1661.7,1413.4 1661.9,1413.4 1662.2,1413.3 1662.5,1413.3 1662.7,1413.3 1663.0,1413.3 1663.2,1413.3 1663.5,1413.3 1663.8,1413.3 1664.0,1413.2 1664.3,1413.2 1664.5,1413.2 1664.8,1413.2 1665.1,1413.2 1665.3,1413.2 1665.6,1413.2 1665.8,1413.2 1666.1,1413.2 1666.4,1413.2 1666.6,1413.2 1666.9,1413.2 1667.1,1413.2 1667.4,1413.2 1667.7,1413.3 1667.9,1413.3 1668.2,1413.3 1668.4,1413.3 1668.7,1413.3 1668.9,1413.3 1669.2,1413.3 1669.5,1413.3 1669.7,1413.4 1670.0,1413.4 1670.2,1413.4 1670.5,1413.4 1670.8,1413.4 1671.0,1413.5 1671.3,1413.5 1671.5,1413.5 1671.8,1413.5 1672.1,1413.6 1672.3,1413.6 1672.6,1413.6 1672.8,1413.6 1673.1,1413.7 1673.4,1413.7 1673.6,1413.7 1673.9,1413.8 1674.1,1413.8 1674.4,1413.8 1674.6,1413.9 1674.9,1413.9 1675.2,1413.9 1675.4,1414.0 1675.7,1414.0 1675.9,1414.0 1676.2,1414.1 1676.5,1414.1 1676.7,1414.1 1677.0,1414.2 1677.2,1414.2 1677.5,1414.2 1677.8,1414.3 1678.0,1414.3 1678.3,1414.3 1678.5,1414.4 1678.8,1414.4 1679.1,1414.4 1679.3,1414.5 1679.6,1414.5 1679.8,1414.5 1680.1,1414.6 1680.3,1414.6 1680.6,1414.6 1680.9,1414.7 1681.1,1414.7 1681.4,1414.7 1681.6,1414.8 1681.9,1414.8 1682.2,1414.8 1682.4,1414.9 1682.7,1414.9"/>
</g>
<rect x="1462.10" y="1177.20" width="230.00" height="238.70" fill="none" stroke="#cfcfcf" stroke-width="2.0"/>
<text x="1575.60" y="1169.00" class="t" font-size="26.6">Feature5</text>
<text x="1472.40" y="1440.60" class="xt" font-size="18.4">0</text>
<text x="1533.00" y="1440.60" class="xt" font-size="18.4">10</text>
<text x="1593.60" y="1440.60" class="xt" font-size="18.4">20</text>
<text x="1654.20" y="1440.60" class="xt" font-size="18.4">30</text>
<text x="1577.10" y="1465.10" class="xl" font-size="22.9">Measurement Value</text>
<text x="1450.90" y="1422.30" class="yt" font-size="18.4">0</text>
<text x="1450.90" y="1377.70" class="yt" font-size="18.4">2500</text>
<text x="1450.90" y="1333.10" class="yt" font-size="18.4">5000</text>
<text x="1450.90" y="1288.50" class="yt" font-size="18.4">7500</text>
<text x="1450.90" y="1243.90" class="yt" font-size="18.4">10000</text>
<text x="1450.90" y="1199.30" class="yt" font-size="18.4">12500</text>
<text transform="translate(1391.93,1299.05) rotate(-90)" x="0" y="0" class="yl" font-size="22.9">Frequency</text>
<line x1="101.10" y1="1522.00" x2="101.10" y2="1760.70" class="g"/><line x1="165.40" y1="1522.00" x2="165.40" y2="1760.70" class="g"/><line x1="229.70" y1="1522.00" x2="229.70" y2="1760.70" class="g"/><line x1="294.00" y1="1522.00" x2="294.00" y2="1760.70" class="g"/><line x1="90.90" y1="1705.80" x2="320.90" y2="1705.80" class="g"/><line x1="90.90" y1="1650.90" x2="320.90" y2="1650.90" class="g"/><line x1="90.90" y1="1596.00" x2="320.90" y2="1596.00" class="g"/><line x1="90.90" y1="1541.10" x2="320.90" y2="1541.10" class="g"/>
<clipPath id="cb6"><rect x="90.90" y="1522.00" width="230.00" height="238.70"/></clipPath>
<g clip-path="url(#cb6)">
<polygon fill="#ffa585" points="164.16,1760.70 164.2,1756.4 164.4,1753.9 164.6,1749.7 164.8,1744.2 165.0,1738.0 165.3,1731.6 165.5,1725.5 165.7,1719.2 165.9,1712.3 166.1,1704.9 166.4,1696.9 166.6,1688.2 166.8,1678.5 167.0,1666.9 167.2,1653.8 167.5,1640.0 167.7,1626.4 167.9,1613.5 168.1,1601.4 168.3,1588.4 168.6,1575.5 168.8,1563.6 169.0,1553.9 169.2,1547.3 169.4,1543.4 169.7,1539.8 169.9,1536.8 170.1,1534.5 170.3,1532.9 170.5,1532.4 170.8,1533.8 171.0,1537.6 171.2,1543.2 171.4,1550.0 171.6,1557.1 171.9,1564.1 172.1,1572.1 172.3,1581.7 172.5,1592.1 172.7,1602.4 173.0,1612.1 173.2,1620.4 173.4,1628.9 173.6,1637.9 173.8,1646.5 174.1,1654.1 174.3,1660.1 174.5,1663.8 174.7,1664.6 174.9,1664.3 175.2,1663.7 175.4,1662.9 175.6,1662.1 175.8,1661.4 176.0,1660.6 176.3,1659.6 176.5,1658.6 176.7,1657.6 176.9,1656.8 177.1,1656.1 177.4,1655.8 177.6,1655.8 177.8,1656.7 178.0,1658.3 178.2,1660.5 178.5,1663.1 178.7,1665.8 178.9,1668.6 179.1,1671.2 179.3,1674.1 179.6,1677.2 179.8,1680.6 180.0,1684.1 180.2,1687.8 180.4,1691.4 180.7,1694.9 180.9,1698.3 181.1,1701.8 181.3,1705.3 181.5,1708.8 181.8,1712.3 182.0,1715.7 182.2,1719.0 182.4,1722.2 182.6,1725.1 182.9,1728.0 183.1,1730.9 183.3,1733.8 183.5,1736.6 183.7,1739.2 184.0,1741.7 184.2,1744.0 184.4,1746.1 184.6,1747.9 184.8,1749.4 185.1,1750.9 185.3,1752.3 185.5,1753.7 185.7,1755.0 185.9,1756.2 186.2,1757.3 186.4,1758.3 186.6,1759.1 186.8,1759.8 187.0,1760.3 187.3,1760.7 187.26,1760.70"/>
<path d="M165.8 1760.7V1716.6M167.5 1760.7V1640.3M169.1 1760.7V1550.1M170.8 1760.7V1534.5M172.5 1760.7V1589.7M174.1 1760.7V1656.4M175.8 1760.7V1661.5M177.5 1760.7V1655.8M179.2 1760.7V1671.7M180.8 1760.7V1697.6M182.5 1760.7V1723.3M184.2 1760.7V1744.0M185.8 1760.7V1755.7" stroke="#fff" stroke-width="0.5" stroke-opacity="0.4" fill="none"/>
<g fill="#ffa585"><rect x="169.52" y="1532.40" width="2.06" height="228.30"/></g>
<polyline fill="none" stroke="#ff4a12" stroke-width="2.0" stroke-linejoin="round" stroke-linecap="round" points="152.3,1760.7 152.5,1760.1 152.7,1759.6 152.9,1759.0 153.2,1758.5 153.4,1757.9 153.6,1757.4 153.8,1756.9 154.0,1756.4 154.3,1755.9 154.5,1755.4 154.7,1755.0 154.9,1754.5 155.1,1754.0 155.4,1753.5 155.6,1753.0 155.8,1752.4 156.0,1752.0 156.2,1751.5 156.5,1751.1 156.7,1750.8 156.9,1750.5 157.1,1750.3 157.3,1750.2 157.6,1750.2 157.8,1750.3 158.0,1750.6 158.2,1750.9 158.4,1751.3 158.7,1751.7 158.9,1752.2 159.1,1752.7 159.3,1753.3 159.5,1753.8 159.8,1754.3 160.0,1754.7 160.2,1755.1 160.4,1755.5 160.6,1755.9 160.9,1756.3 161.1,1756.8 161.3,1757.2 161.5,1757.6 161.7,1758.0 162.0,1758.4 162.2,1758.6 162.4,1758.9 162.6,1759.0 162.8,1759.1 163.1,1759.0 163.3,1758.7 163.5,1758.3 163.7,1757.8 163.9,1757.2 164.2,1756.4 164.4,1753.9 164.6,1749.7 164.8,1744.2 165.0,1738.0 165.3,1731.6 165.5,1725.5 165.7,1719.2 165.9,1712.3 166.1,1704.9 166.4,1696.9 166.6,1688.2 166.8,1678.5 167.0,1666.9 167.2,1653.8 167.5,1640.0 167.7,1626.4 167.9,1613.5 168.1,1601.4 168.3,1588.4 168.6,1575.5 168.8,1563.6 169.0,1553.9 169.2,1547.3 169.4,1543.4 169.7,1539.8 169.9,1536.8 170.1,1534.5 170.3,1532.9 170.5,1532.4 170.8,1533.8 171.0,1537.6 171.2,1543.2 171.4,1550.0 171.6,1557.1 171.9,1564.1 172.1,1572.1 172.3,1581.7 172.5,1592.1 172.7,1602.4 173.0,1612.1 173.2,1620.4 173.4,1628.9 173.6,1637.9 173.8,1646.5 174.1,1654.1 174.3,1660.1 174.5,1663.8 174.7,1664.6 174.9,1664.3 175.2,1663.7 175.4,1662.9 175.6,1662.1 175.8,1661.4 176.0,1660.6 176.3,1659.6 176.5,1658.6 176.7,1657.6 176.9,1656.8 177.1,1656.1 177.4,1655.8 177.6,1655.8 177.8,1656.7 178.0,1658.3 178.2,1660.5 178.5,1663.1 178.7,1665.8 178.9,1668.6 179.1,1671.2 179.3,1674.1 179.6,1677.2 179.8,1680.6 180.0,1684.1 180.2,1687.8 180.4,1691.4 180.7,1694.9 180.9,1698.3 181.1,1701.8 181.3,1705.3 181.5,1708.8 181.8,1712.3 182.0,1715.7 182.2,1719.0 182.4,1722.2 182.6,1725.1 182.9,1728.0 183.1,1730.9 183.3,1733.8 183.5,1736.6 183.7,1739.2 184.0,1741.7 184.2,1744.0 184.4,1746.1 184.6,1747.9 184.8,1749.4 185.1,1750.9 185.3,1752.3 185.5,1753.7 185.7,1755.0 185.9,1756.2 186.2,1757.3 186.4,1758.3 186.6,1759.1 186.8,1759.8 187.0,1760.3 187.3,1760.7"/>
<polyline fill="none" stroke="#ff4a12" stroke-width="2.0" stroke-linejoin="round" stroke-linecap="round" points="101.1,1753.1 101.1,1753.1 101.2,1753.1 101.2,1753.1 101.2,1753.1 101.2,1753.1 101.3,1753.1 101.3,1753.1 101.3,1753.1 101.3,1753.2 101.4,1753.2 101.4,1753.2 101.4,1753.2 101.5,1753.2 101.5,1753.2 101.5,1753.2 101.5,1753.3 101.6,1753.3 101.6,1753.3 101.6,1753.3 101.6,1753.4 101.7,1753.4 101.7,1753.4 101.7,1753.4 101.8,1753.5 101.8,1753.5 101.8,1753.5 101.8,1753.6 101.9,1753.6 101.9,1753.6 101.9,1753.7 102.0,1753.7 102.0,1753.8 102.0,1753.8 102.0,1753.8 102.1,1753.9 102.1,1753.9 102.1,1754.0 102.1,1754.0 102.2,1754.1 102.2,1754.1 102.2,1754.2 102.3,1754.2 102.3,1754.3 102.3,1754.3 102.3,1754.4 102.4,1754.4 102.4,1754.5 102.4,1754.5 102.4,1754.6 102.5,1754.6 102.5,1754.7 102.5,1754.7 102.6,1754.8 102.6,1754.8 102.6,1754.9 102.6,1755.0 102.7,1755.0 102.7,1755.1 102.7,1755.1 102.7,1755.2 102.8,1755.2 102.8,1755.3 102.8,1755.4 102.9,1755.4 102.9,1755.5 102.9,1755.5 102.9,1755.6 103.0,1755.7 103.0,1755.7 103.0,1755.8 103.1,1755.9 103.1,1755.9 103.1,1756.0 103.1,1756.0 103.2,1756.1 103.2,1756.2 103.2,1756.2 103.2,1756.3 103.3,1756.3 103.3,1756.4 103.3,1756.5 103.4,1756.5 103.4,1756.6 103.4,1756.7 103.4,1756.7 103.5,1756.8 103.5,1756.8 103.5,1756.9 103.5,1757.0 103.6,1757.0 103.6,1757.1 103.6,1757.1 103.7,1757.2 103.7,1757.2 103.7,1757.3 103.7,1757.4 103.8,1757.4 103.8,1757.5 103.8,1757.5 103.8,1757.6 103.9,1757.6 103.9,1757.7 103.9,1757.8 104.0,1757.8 104.0,1757.9 104.0,1757.9 104.0,1758.0 104.1,1758.0 104.1,1758.1 104.1,1758.1 104.2,1758.2 104.2,1758.2 104.2,1758.3 104.2,1758.3 104.3,1758.4 104.3,1758.4 104.3,1758.5 104.3,1758.5 104.4,1758.6 104.4,1758.6 104.4,1758.6 104.5,1758.7 104.5,1758.7 104.5,1758.8 104.5,1758.8 104.6,1758.9 104.6,1758.9 104.6,1758.9 104.6,1759.0 104.7,1759.0 104.7,1759.1 104.7,1759.1 104.8,1759.1 104.8,1759.2 104.8,1759.2 104.8,1759.2 104.9,1759.3 104.9,1759.3 104.9,1759.3 104.9,1759.4 105.0,1759.4 105.0,1759.4 105.0,1759.5 105.1,1759.5 105.1,1759.5 105.1,1759.6 105.1,1759.6 105.2,1759.6 105.2,1759.7 105.2,1759.7 105.3,1759.7 105.3,1759.7 105.3,1759.8 105.3,1759.8 105.4,1759.8 105.4,1759.8 105.4,1759.9 105.4,1759.9 105.5,1759.9"/>
</g>
<rect x="90.90" y="1522.00" width="230.00" height="238.70" fill="none" stroke="#cfcfcf" stroke-width="2.0"/>
<text x="204.40" y="1513.80" class="t" font-size="26.6">Feature6</text>
<text x="101.10" y="1785.40" class="xt" font-size="18.4">0.0</text>
<text x="165.40" y="1785.40" class="xt" font-size="18.4">2.5</text>
<text x="229.70" y="1785.40" class="xt" font-size="18.4">5.0</text>
<text x="294.00" y="1785.40" class="xt" font-size="18.4">7.5</text>
<text x="205.90" y="1809.90" class="xl" font-size="22.9">Measurement Value</text>
<text x="79.70" y="1767.10" class="yt" font-size="18.4">0</text>
<text x="79.70" y="1712.20" class="yt" font-size="18.4">2000</text>
<text x="79.70" y="1657.30" class="yt" font-size="18.4">4000</text>
<text x="79.70" y="1602.40" class="yt" font-size="18.4">6000</text>
<text x="79.70" y="1547.50" class="yt" font-size="18.4">8000</text>
<text transform="translate(30.97,1643.85) rotate(-90)" x="0" y="0" class="yl" font-size="22.9">Frequency</text>
<line x1="444.10" y1="1522.00" x2="444.10" y2="1760.70" class="g"/><line x1="507.10" y1="1522.00" x2="507.10" y2="1760.70" class="g"/><line x1="570.10" y1="1522.00" x2="570.10" y2="1760.70" class="g"/><line x1="633.10" y1="1522.00" x2="633.10" y2="1760.70" class="g"/><line x1="433.70" y1="1690.80" x2="663.70" y2="1690.80" class="g"/><line x1="433.70" y1="1620.90" x2="663.70" y2="1620.90" class="g"/><line x1="433.70" y1="1551.00" x2="663.70" y2="1551.00" class="g"/>
<clipPath id="cb7"><rect x="433.70" y="1522.00" width="230.00" height="238.70"/></clipPath>
<g clip-path="url(#cb7)">
<polygon fill="#ffa585" points="444.10,1760.70 444.1,1743.0 444.6,1745.2 445.1,1746.9 445.6,1748.1 446.0,1748.9 446.5,1749.3 447.0,1749.5 447.5,1749.3 448.0,1748.2 448.5,1746.3 449.0,1743.8 449.5,1741.1 449.9,1738.4 450.4,1736.1 450.9,1733.8 451.4,1731.5 451.9,1729.0 452.4,1726.6 452.9,1724.1 453.4,1721.7 453.8,1719.5 454.3,1717.4 454.8,1715.6 455.3,1713.9 455.8,1712.2 456.3,1710.5 456.8,1709.0 457.3,1707.5 457.7,1706.1 458.2,1704.7 458.7,1703.5 459.2,1702.5 459.7,1701.5 460.2,1700.8 460.7,1700.1 461.2,1699.6 461.6,1699.2 462.1,1698.7 462.6,1698.3 463.1,1697.9 463.6,1697.4 464.1,1696.8 464.6,1696.0 465.1,1695.1 465.5,1693.6 466.0,1691.6 466.5,1689.2 467.0,1686.4 467.5,1683.3 468.0,1679.9 468.5,1676.3 469.0,1672.5 469.4,1668.7 469.9,1664.2 470.4,1659.0 470.9,1653.3 471.4,1647.2 471.9,1640.9 472.4,1634.5 472.9,1627.8 473.3,1620.5 473.8,1612.7 474.3,1604.9 474.8,1597.2 475.3,1590.1 475.8,1583.7 476.3,1577.5 476.8,1571.4 477.2,1565.7 477.7,1560.3 478.2,1555.5 478.7,1551.4 479.2,1547.5 479.7,1543.6 480.2,1540.7 480.7,1539.6 481.1,1540.8 481.6,1543.7 482.1,1547.9 482.6,1552.6 483.1,1557.3 483.6,1561.9 484.1,1566.8 484.6,1572.1 485.0,1577.8 485.5,1583.9 486.0,1590.5 486.5,1597.6 487.0,1605.2 487.5,1614.6 488.0,1626.1 488.4,1638.9 488.9,1652.0 489.4,1664.9 489.9,1676.5 490.4,1686.2 490.9,1693.2 491.4,1699.0 491.9,1704.3 492.3,1709.0 492.8,1713.3 493.3,1717.2 493.8,1720.9 494.3,1724.3 494.8,1727.7 495.3,1730.9 495.8,1733.9 496.2,1736.6 496.7,1738.9 497.2,1740.8 497.7,1742.5 498.2,1744.1 498.7,1745.6 499.2,1746.9 499.7,1748.1 500.1,1749.1 500.6,1750.0 501.1,1750.7 501.6,1751.4 502.1,1752.0 502.6,1752.6 503.1,1753.2 503.6,1753.7 504.0,1754.2 504.5,1754.6 505.0,1755.0 505.5,1755.4 506.0,1755.8 506.5,1756.1 507.0,1756.4 507.5,1756.7 507.9,1757.0 508.4,1757.3 508.9,1757.5 509.4,1757.8 509.9,1758.0 510.4,1758.2 510.9,1758.5 511.4,1758.7 511.8,1758.8 512.3,1759.0 512.8,1759.1 513.3,1759.3 513.30,1760.70"/>
<path d="M447.4 1760.7V1749.4M450.7 1760.7V1735.1M453.9 1760.7V1719.2M457.2 1760.7V1707.6M460.5 1760.7V1700.4M463.8 1760.7V1697.2M467.0 1760.7V1686.3M470.3 1760.7V1660.2M473.6 1760.7V1616.6M476.9 1760.7V1570.2M480.1 1760.7V1540.9M483.4 1760.7V1560.3M486.7 1760.7V1600.6M490.0 1760.7V1677.6M493.2 1760.7V1716.5M496.5 1760.7V1737.9M499.8 1760.7V1748.3M503.1 1760.7V1753.2M506.3 1760.7V1756.0M509.6 1760.7V1757.9M512.9 1760.7V1759.2" stroke="#fff" stroke-width="0.5" stroke-opacity="0.4" fill="none"/>
<g fill="#ffa585"><rect x="480.01" y="1533.11" width="5.04" height="227.59"/></g>
<polyline fill="none" stroke="#ff4a12" stroke-width="2.0" stroke-linejoin="round" stroke-linecap="round" points="444.1,1743.0 444.6,1745.2 445.1,1746.9 445.6,1748.1 446.0,1748.9 446.5,1749.3 447.0,1749.5 447.5,1749.3 448.0,1748.2 448.5,1746.3 449.0,1743.8 449.5,1741.1 449.9,1738.4 450.4,1736.1 450.9,1733.8 451.4,1731.5 451.9,1729.0 452.4,1726.6 452.9,1724.1 453.4,1721.7 453.8,1719.5 454.3,1717.4 454.8,1715.6 455.3,1713.9 455.8,1712.2 456.3,1710.5 456.8,1709.0 457.3,1707.5 457.7,1706.1 458.2,1704.7 458.7,1703.5 459.2,1702.5 459.7,1701.5 460.2,1700.8 460.7,1700.1 461.2,1699.6 461.6,1699.2 462.1,1698.7 462.6,1698.3 463.1,1697.9 463.6,1697.4 464.1,1696.8 464.6,1696.0 465.1,1695.1 465.5,1693.6 466.0,1691.6 466.5,1689.2 467.0,1686.4 467.5,1683.3 468.0,1679.9 468.5,1676.3 469.0,1672.5 469.4,1668.7 469.9,1664.2 470.4,1659.0 470.9,1653.3 471.4,1647.2 471.9,1640.9 472.4,1634.5 472.9,1627.8 473.3,1620.5 473.8,1612.7 474.3,1604.9 474.8,1597.2 475.3,1590.1 475.8,1583.7 476.3,1577.5 476.8,1571.4 477.2,1565.7 477.7,1560.3 478.2,1555.5 478.7,1551.4 479.2,1547.5 479.7,1543.6 480.2,1540.7 480.7,1539.6 481.1,1540.8 481.6,1543.7 482.1,1547.9 482.6,1552.6 483.1,1557.3 483.6,1561.9 484.1,1566.8 484.6,1572.1 485.0,1577.8 485.5,1583.9 486.0,1590.5 486.5,1597.6 487.0,1605.2 487.5,1614.6 488.0,1626.1 488.4,1638.9 488.9,1652.0 489.4,1664.9 489.9,1676.5 490.4,1686.2 490.9,1693.2 491.4,1699.0 491.9,1704.3 492.3,1709.0 492.8,1713.3 493.3,1717.2 493.8,1720.9 494.3,1724.3 494.8,1727.7 495.3,1730.9 495.8,1733.9 496.2,1736.6 496.7,1738.9 497.2,1740.8 497.7,1742.5 498.2,1744.1 498.7,1745.6 499.2,1746.9 499.7,1748.1 500.1,1749.1 500.6,1750.0 501.1,1750.7 501.6,1751.4 502.1,1752.0 502.6,1752.6 503.1,1753.2 503.6,1753.7 504.0,1754.2 504.5,1754.6 505.0,1755.0 505.5,1755.4 506.0,1755.8 506.5,1756.1 507.0,1756.4 507.5,1756.7 507.9,1757.0 508.4,1757.3 508.9,1757.5 509.4,1757.8 509.9,1758.0 510.4,1758.2 510.9,1758.5 511.4,1758.7 511.8,1758.8 512.3,1759.0 512.8,1759.1 513.3,1759.3 513.8,1759.4 514.3,1759.5 514.8,1759.6 515.3,1759.8 515.7,1759.9 516.2,1760.0 516.7,1760.1 517.2,1760.2 517.7,1760.3 518.2,1760.4 518.7,1760.4 519.2,1760.5 519.6,1760.6 520.1,1760.6 520.6,1760.7 521.1,1760.7 521.6,1760.7"/>
</g>
<rect x="433.70" y="1522.00" width="230.00" height="238.70" fill="none" stroke="#cfcfcf" stroke-width="2.0"/>
<text x="547.20" y="1513.80" class="t" font-size="26.6">Feature7</text>
<text x="444.10" y="1785.40" class="xt" font-size="18.4">0</text>
<text x="507.10" y="1785.40" class="xt" font-size="18.4">1</text>
<text x="570.10" y="1785.40" class="xt" font-size="18.4">2</text>
<text x="633.10" y="1785.40" class="xt" font-size="18.4">3</text>
<text x="548.70" y="1809.90" class="xl" font-size="22.9">Measurement Value</text>
<text x="422.50" y="1767.10" class="yt" font-size="18.4">0</text>
<text x="422.50" y="1697.20" class="yt" font-size="18.4">1000</text>
<text x="422.50" y="1627.30" class="yt" font-size="18.4">2000</text>
<text x="422.50" y="1557.40" class="yt" font-size="18.4">3000</text>
<text transform="translate(373.77,1643.85) rotate(-90)" x="0" y="0" class="yl" font-size="22.9">Frequency</text>
<line x1="786.90" y1="1522.00" x2="786.90" y2="1760.70" class="g"/><line x1="856.92" y1="1522.00" x2="856.92" y2="1760.70" class="g"/><line x1="926.95" y1="1522.00" x2="926.95" y2="1760.70" class="g"/><line x1="996.98" y1="1522.00" x2="996.98" y2="1760.70" class="g"/><line x1="776.50" y1="1711.20" x2="1006.50" y2="1711.20" class="g"/><line x1="776.50" y1="1661.70" x2="1006.50" y2="1661.70" class="g"/><line x1="776.50" y1="1612.20" x2="1006.50" y2="1612.20" class="g"/><line x1="776.50" y1="1562.70" x2="1006.50" y2="1562.70" class="g"/>
<clipPath id="cb8"><rect x="776.50" y="1522.00" width="230.00" height="238.70"/></clipPath>
<g clip-path="url(#cb8)">
<g fill="#ffa585"><rect x="865.89" y="1652.91" width="2.80" height="107.79"/><rect x="868.69" y="1533.00" width="2.80" height="227.70"/><rect x="871.49" y="1612.50" width="4.20" height="148.20"/></g>
<polyline fill="none" stroke="#ff4a12" stroke-width="2.0" stroke-linejoin="round" stroke-linecap="round" points="864.2,1760.1 864.3,1760.0 864.4,1759.9 864.5,1759.8 864.6,1759.6 864.6,1759.4 864.7,1759.2 864.8,1759.0 864.9,1758.7 865.0,1758.4 865.1,1758.1 865.2,1757.7 865.2,1757.2 865.3,1756.7 865.4,1756.1 865.5,1755.5 865.6,1754.8 865.7,1754.0 865.8,1753.1 865.8,1752.1 865.9,1751.0 866.0,1749.8 866.1,1748.4 866.2,1747.0 866.3,1745.4 866.4,1743.6 866.5,1741.7 866.5,1739.6 866.6,1737.3 866.7,1734.8 866.8,1732.2 866.9,1729.3 867.0,1726.2 867.1,1722.9 867.1,1719.4 867.2,1715.7 867.3,1711.7 867.4,1707.5 867.5,1703.1 867.6,1698.5 867.7,1693.6 867.7,1688.5 867.8,1683.2 867.9,1677.7 868.0,1672.0 868.1,1666.2 868.2,1660.1 868.3,1654.0 868.4,1647.7 868.4,1641.3 868.5,1634.8 868.6,1628.3 868.7,1621.7 868.8,1615.1 868.9,1608.6 869.0,1602.2 869.0,1595.8 869.1,1589.6 869.2,1583.5 869.3,1577.6 869.4,1572.0 869.5,1566.6 869.6,1561.5 869.6,1556.7 869.7,1552.3 869.8,1548.3 869.9,1544.7 870.0,1541.5 870.1,1538.8 870.2,1536.5 870.3,1534.7 870.3,1533.4 870.4,1532.7 870.5,1532.4 870.6,1532.7 870.7,1533.4 870.8,1534.7 870.9,1536.5 870.9,1538.7 871.0,1541.4 871.1,1544.6 871.2,1548.2 871.3,1552.2 871.4,1556.6 871.5,1561.4 871.5,1566.5 871.6,1571.8 871.7,1577.5 871.8,1583.4 871.9,1589.4 872.0,1595.7 872.1,1602.0 872.1,1608.5 872.2,1615.0 872.3,1621.6 872.4,1628.1 872.5,1634.7 872.6,1641.1 872.7,1647.5 872.8,1653.8 872.8,1660.0 872.9,1666.1 873.0,1671.9 873.1,1677.6 873.2,1683.1 873.3,1688.4 873.4,1693.5 873.4,1698.4 873.5,1703.0 873.6,1707.5 873.7,1711.7 873.8,1715.6 873.9,1719.4 874.0,1722.9 874.0,1726.2 874.1,1729.2 874.2,1732.1 874.3,1734.8 874.4,1737.2 874.5,1739.5 874.6,1741.6 874.7,1743.5 874.7,1745.3 874.8,1746.9 874.9,1748.4 875.0,1749.8 875.1,1751.0 875.2,1752.1 875.3,1753.1 875.3,1754.0 875.4,1754.8 875.5,1755.5 875.6,1756.1 875.7,1756.7 875.8,1757.2 875.9,1757.7 875.9,1758.1 876.0,1758.4 876.1,1758.7 876.2,1759.0 876.3,1759.2 876.4,1759.4 876.5,1759.6 876.6,1759.8 876.6,1759.9 876.7,1760.0 876.8,1760.1 876.9,1760.2 877.0,1760.3 877.1,1760.4 877.2,1760.4 877.2,1760.5 877.3,1760.5 877.4,1760.5 877.5,1760.6 877.6,1760.6 877.7,1760.6 877.8,1760.6 877.8,1760.6 877.9,1760.6"/>
<polyline fill="none" stroke="#ff4a12" stroke-width="2.0" stroke-linejoin="round" stroke-linecap="round" points="845.7,1760.7 845.8,1760.7 845.9,1760.7 846.0,1760.7 846.1,1760.7 846.2,1760.7 846.3,1760.7 846.4,1760.7 846.5,1760.7 846.6,1760.7 846.7,1760.7 846.8,1760.7 846.9,1760.6 847.0,1760.6 847.1,1760.6 847.2,1760.6 847.3,1760.6 847.4,1760.6 847.5,1760.6 847.6,1760.6 847.7,1760.6 847.8,1760.5 847.9,1760.5 847.9,1760.5 848.0,1760.5 848.1,1760.4 848.2,1760.4 848.3,1760.4 848.4,1760.4 848.5,1760.3 848.6,1760.3 848.7,1760.2 848.8,1760.2 848.9,1760.1 849.0,1760.1 849.1,1760.0 849.2,1760.0 849.3,1759.9 849.4,1759.9 849.5,1759.8 849.6,1759.7 849.7,1759.6 849.8,1759.5 849.9,1759.5 850.0,1759.4 850.1,1759.3 850.2,1759.2 850.3,1759.1 850.4,1759.0 850.5,1758.9 850.6,1758.8 850.7,1758.6 850.8,1758.5 850.9,1758.4 851.0,1758.3 851.0,1758.2 851.1,1758.0 851.2,1757.9 851.3,1757.8 851.4,1757.7 851.5,1757.5 851.6,1757.4 851.7,1757.3 851.8,1757.2 851.9,1757.1 852.0,1757.0 852.1,1756.8 852.2,1756.7 852.3,1756.6 852.4,1756.5 852.5,1756.5 852.6,1756.4 852.7,1756.3 852.8,1756.2 852.9,1756.2 853.0,1756.1 853.1,1756.1 853.2,1756.0 853.3,1756.0 853.4,1756.0 853.5,1756.0 853.6,1755.9 853.7,1756.0 853.8,1756.0 853.9,1756.0 854.0,1756.0 854.1,1756.1 854.2,1756.1 854.2,1756.2 854.3,1756.2 854.4,1756.3 854.5,1756.4 854.6,1756.5 854.7,1756.6 854.8,1756.6 854.9,1756.7 855.0,1756.9 855.1,1757.0 855.2,1757.1 855.3,1757.2 855.4,1757.3 855.5,1757.4 855.6,1757.6 855.7,1757.7 855.8,1757.8 855.9,1757.9 856.0,1758.1 856.1,1758.2 856.2,1758.3 856.3,1758.4 856.4,1758.5 856.5,1758.7 856.6,1758.8 856.7,1758.9 856.8,1759.0 856.9,1759.1 857.0,1759.2 857.1,1759.3 857.2,1759.4 857.3,1759.5 857.3,1759.6 857.4,1759.6 857.5,1759.7 857.6,1759.8 857.7,1759.9 857.8,1759.9 857.9,1760.0 858.0,1760.0 858.1,1760.1 858.2,1760.2 858.3,1760.2 858.4,1760.2 858.5,1760.3 858.6,1760.3 858.7,1760.4 858.8,1760.4 858.9,1760.4 859.0,1760.4 859.1,1760.5 859.2,1760.5 859.3,1760.5 859.4,1760.5 859.5,1760.6 859.6,1760.6 859.7,1760.6 859.8,1760.6 859.9,1760.6 860.0,1760.6 860.1,1760.6 860.2,1760.6 860.3,1760.6 860.4,1760.7 860.4,1760.7 860.5,1760.7 860.6,1760.7 860.7,1760.7 860.8,1760.7 860.9,1760.7 861.0,1760.7 861.1,1760.7"/>
<polyline fill="none" stroke="#ff4a12" stroke-width="2.0" stroke-linejoin="round" stroke-linecap="round" points="901.7,1760.7 901.8,1760.7 901.9,1760.7 902.0,1760.7 902.1,1760.7 902.2,1760.7 902.3,1760.7 902.4,1760.7 902.4,1760.7 902.5,1760.7 902.6,1760.6 902.7,1760.6 902.8,1760.6 902.9,1760.6 903.0,1760.6 903.1,1760.6 903.2,1760.6 903.2,1760.6 903.3,1760.6 903.4,1760.6 903.5,1760.5 903.6,1760.5 903.7,1760.5 903.8,1760.5 903.9,1760.5 903.9,1760.4 904.0,1760.4 904.1,1760.4 904.2,1760.4 904.3,1760.3 904.4,1760.3 904.5,1760.3 904.6,1760.2 904.6,1760.2 904.7,1760.2 904.8,1760.1 904.9,1760.1 905.0,1760.0 905.1,1760.0 905.2,1759.9 905.3,1759.9 905.4,1759.8 905.4,1759.8 905.5,1759.7 905.6,1759.7 905.7,1759.6 905.8,1759.5 905.9,1759.5 906.0,1759.4 906.1,1759.3 906.1,1759.3 906.2,1759.2 906.3,1759.1 906.4,1759.0 906.5,1758.9 906.6,1758.9 906.7,1758.8 906.8,1758.7 906.8,1758.6 906.9,1758.6 907.0,1758.5 907.1,1758.4 907.2,1758.3 907.3,1758.2 907.4,1758.2 907.5,1758.1 907.6,1758.0 907.6,1758.0 907.7,1757.9 907.8,1757.8 907.9,1757.8 908.0,1757.7 908.1,1757.7 908.2,1757.6 908.3,1757.6 908.3,1757.5 908.4,1757.5 908.5,1757.5 908.6,1757.4 908.7,1757.4 908.8,1757.4 908.9,1757.4 909.0,1757.4 909.1,1757.4 909.1,1757.4 909.2,1757.4 909.3,1757.4 909.4,1757.4 909.5,1757.5 909.6,1757.5 909.7,1757.5 909.8,1757.6 909.8,1757.6 909.9,1757.7 910.0,1757.7 910.1,1757.8 910.2,1757.8 910.3,1757.9 910.4,1757.9 910.5,1758.0 910.5,1758.1 910.6,1758.1 910.7,1758.2 910.8,1758.3 910.9,1758.4 911.0,1758.4 911.1,1758.5 911.2,1758.6 911.3,1758.7 911.3,1758.8 911.4,1758.8 911.5,1758.9 911.6,1759.0 911.7,1759.1 911.8,1759.2 911.9,1759.2 912.0,1759.3 912.0,1759.4 912.1,1759.4 912.2,1759.5 912.3,1759.6 912.4,1759.6 912.5,1759.7 912.6,1759.8 912.7,1759.8 912.8,1759.9 912.8,1759.9 912.9,1760.0 913.0,1760.0 913.1,1760.1 913.2,1760.1 913.3,1760.2 913.4,1760.2 913.5,1760.2 913.5,1760.3 913.6,1760.3 913.7,1760.3 913.8,1760.4 913.9,1760.4 914.0,1760.4 914.1,1760.4 914.2,1760.5 914.2,1760.5 914.3,1760.5 914.4,1760.5 914.5,1760.5 914.6,1760.6 914.7,1760.6 914.8,1760.6 914.9,1760.6 915.0,1760.6 915.0,1760.6 915.1,1760.6 915.2,1760.6 915.3,1760.6 915.4,1760.6 915.5,1760.6 915.6,1760.7 915.7,1760.7 915.7,1760.7"/>
<polyline fill="none" stroke="#ff4a12" stroke-width="2.0" stroke-linejoin="round" stroke-linecap="round" points="786.9,1753.1 786.9,1753.1 786.9,1753.1 787.0,1753.1 787.0,1753.1 787.0,1753.1 787.0,1753.1 787.1,1753.1 787.1,1753.1 787.1,1753.2 787.1,1753.2 787.2,1753.2 787.2,1753.2 787.2,1753.2 787.2,1753.3 787.3,1753.3 787.3,1753.3 787.3,1753.3 787.3,1753.4 787.4,1753.4 787.4,1753.4 787.4,1753.4 787.4,1753.5 787.5,1753.5 787.5,1753.6 787.5,1753.6 787.5,1753.6 787.6,1753.7 787.6,1753.7 787.6,1753.8 787.6,1753.8 787.7,1753.8 787.7,1753.9 787.7,1753.9 787.7,1754.0 787.8,1754.0 787.8,1754.1 787.8,1754.1 787.8,1754.2 787.9,1754.2 787.9,1754.3 787.9,1754.4 787.9,1754.4 788.0,1754.5 788.0,1754.5 788.0,1754.6 788.0,1754.6 788.1,1754.7 788.1,1754.8 788.1,1754.8 788.1,1754.9 788.2,1755.0 788.2,1755.0 788.2,1755.1 788.2,1755.1 788.3,1755.2 788.3,1755.3 788.3,1755.3 788.3,1755.4 788.4,1755.5 788.4,1755.5 788.4,1755.6 788.4,1755.7 788.5,1755.7 788.5,1755.8 788.5,1755.9 788.5,1755.9 788.6,1756.0 788.6,1756.1 788.6,1756.1 788.6,1756.2 788.7,1756.3 788.7,1756.3 788.7,1756.4 788.7,1756.5 788.7,1756.6 788.8,1756.6 788.8,1756.7 788.8,1756.8 788.8,1756.8 788.9,1756.9 788.9,1756.9 788.9,1757.0 788.9,1757.1 789.0,1757.1 789.0,1757.2 789.0,1757.3 789.0,1757.3 789.1,1757.4 789.1,1757.5 789.1,1757.5 789.1,1757.6 789.2,1757.6 789.2,1757.7 789.2,1757.8 789.2,1757.8 789.3,1757.9 789.3,1757.9 789.3,1758.0 789.3,1758.1 789.4,1758.1 789.4,1758.2 789.4,1758.2 789.4,1758.3 789.5,1758.3 789.5,1758.4 789.5,1758.4 789.5,1758.5 789.6,1758.5 789.6,1758.6 789.6,1758.6 789.6,1758.7 789.7,1758.7 789.7,1758.8 789.7,1758.8 789.7,1758.9 789.8,1758.9 789.8,1759.0 789.8,1759.0 789.8,1759.0 789.9,1759.1 789.9,1759.1 789.9,1759.2 789.9,1759.2 790.0,1759.2 790.0,1759.3 790.0,1759.3 790.0,1759.4 790.1,1759.4 790.1,1759.4 790.1,1759.5 790.1,1759.5 790.2,1759.5 790.2,1759.6 790.2,1759.6 790.2,1759.6 790.3,1759.7 790.3,1759.7 790.3,1759.7 790.3,1759.8 790.4,1759.8 790.4,1759.8 790.4,1759.8 790.4,1759.9 790.5,1759.9 790.5,1759.9 790.5,1759.9 790.5,1760.0 790.6,1760.0 790.6,1760.0 790.6,1760.0 790.6,1760.0 790.6,1760.1 790.7,1760.1 790.7,1760.1 790.7,1760.1 790.7,1760.1 790.8,1760.2 790.8,1760.2 790.8,1760.2"/>
</g>
<rect x="776.50" y="1522.00" width="230.00" height="238.70" fill="none" stroke="#cfcfcf" stroke-width="2.0"/>
<text x="890.00" y="1513.80" class="t" font-size="26.6">Feature8</text>
<text x="786.90" y="1785.40" class="xt" font-size="18.4">0.0</text>
<text x="856.92" y="1785.40" class="xt" font-size="18.4">2.5</text>
<text x="926.95" y="1785.40" class="xt" font-size="18.4">5.0</text>
<text x="996.98" y="1785.40" class="xt" font-size="18.4">7.5</text>
<text x="891.50" y="1809.90" class="xl" font-size="22.9">Measurement Value</text>
<text x="765.30" y="1767.10" class="yt" font-size="18.4">0</text>
<text x="765.30" y="1717.60" class="yt" font-size="18.4">2500</text>
<text x="765.30" y="1668.10" class="yt" font-size="18.4">5000</text>
<text x="765.30" y="1618.60" class="yt" font-size="18.4">7500</text>
<text x="765.30" y="1569.10" class="yt" font-size="18.4">10000</text>
<text transform="translate(706.33,1643.85) rotate(-90)" x="0" y="0" class="yl" font-size="22.9">Frequency</text>
<line x1="1129.40" y1="1522.00" x2="1129.40" y2="1760.70" class="g"/><line x1="1213.45" y1="1522.00" x2="1213.45" y2="1760.70" class="g"/><line x1="1297.50" y1="1522.00" x2="1297.50" y2="1760.70" class="g"/><line x1="1119.30" y1="1692.40" x2="1349.30" y2="1692.40" class="g"/><line x1="1119.30" y1="1624.10" x2="1349.30" y2="1624.10" class="g"/><line x1="1119.30" y1="1555.80" x2="1349.30" y2="1555.80" class="g"/>
<clipPath id="cb9"><rect x="1119.30" y="1522.00" width="230.00" height="238.70"/></clipPath>
<g clip-path="url(#cb9)">
<g fill="#ffa585"><rect x="1129.40" y="1728.60" width="5.04" height="32.10"/><rect x="1286.57" y="1731.50" width="4.20" height="29.20"/><rect x="1292.12" y="1533.09" width="3.19" height="227.61"/><rect x="1297.50" y="1574.99" width="3.36" height="185.71"/></g>
<polyline fill="none" stroke="#ff4a12" stroke-width="2.0" stroke-linejoin="round" stroke-linecap="round" points="1274.0,1760.4 1274.2,1760.4 1274.5,1760.3 1274.8,1760.2 1275.1,1760.2 1275.3,1760.1 1275.6,1760.0 1275.9,1759.9 1276.2,1759.8 1276.4,1759.6 1276.7,1759.5 1277.0,1759.3 1277.3,1759.1 1277.5,1758.9 1277.8,1758.6 1278.1,1758.3 1278.4,1758.0 1278.6,1757.7 1278.9,1757.3 1279.2,1756.9 1279.5,1756.4 1279.7,1755.9 1280.0,1755.3 1280.3,1754.7 1280.6,1754.0 1280.8,1753.3 1281.1,1752.5 1281.4,1751.6 1281.7,1750.6 1281.9,1749.6 1282.2,1748.5 1282.5,1747.3 1282.8,1746.0 1283.0,1744.6 1283.3,1743.1 1283.6,1741.5 1283.9,1739.8 1284.1,1738.0 1284.4,1736.0 1284.7,1734.0 1285.0,1731.9 1285.2,1729.6 1285.5,1727.2 1285.8,1724.8 1286.1,1722.2 1286.3,1719.5 1286.6,1716.7 1286.9,1713.8 1287.2,1710.8 1287.4,1707.7 1287.7,1704.5 1288.0,1701.2 1288.3,1697.9 1288.5,1694.5 1288.8,1691.1 1289.1,1687.6 1289.4,1684.1 1289.6,1680.6 1289.9,1677.1 1290.2,1673.6 1290.5,1670.1 1290.7,1666.6 1291.0,1663.2 1291.3,1659.9 1291.6,1656.7 1291.8,1653.6 1292.1,1650.5 1292.4,1647.7 1292.7,1644.9 1292.9,1642.3 1293.2,1639.9 1293.5,1637.7 1293.8,1635.7 1294.0,1633.8 1294.3,1632.2 1294.6,1630.8 1294.9,1629.7 1295.1,1628.8 1295.4,1628.1 1295.7,1627.7 1296.0,1627.6 1296.2,1627.7 1296.5,1628.0 1296.8,1628.6 1297.1,1629.5 1297.3,1630.6 1297.6,1631.9 1297.9,1633.5 1298.2,1635.2 1298.4,1637.2 1298.7,1639.4 1299.0,1641.8 1299.3,1644.3 1299.5,1647.0 1299.8,1649.9 1300.1,1652.9 1300.4,1656.0 1300.6,1659.2 1300.9,1662.5 1301.2,1665.9 1301.5,1669.3 1301.7,1672.8 1302.0,1676.3 1302.3,1679.8 1302.6,1683.3 1302.8,1686.8 1303.1,1690.3 1303.4,1693.8 1303.7,1697.2 1303.9,1700.5 1304.2,1703.8 1304.5,1707.0 1304.8,1710.1 1305.0,1713.1 1305.3,1716.0 1305.6,1718.9 1305.9,1721.6 1306.1,1724.2 1306.4,1726.7 1306.7,1729.1 1307.0,1731.4 1307.2,1733.5 1307.5,1735.6 1307.8,1737.5 1308.1,1739.4 1308.3,1741.1 1308.6,1742.7 1308.9,1744.2 1309.2,1745.7 1309.4,1747.0 1309.7,1748.2 1310.0,1749.4 1310.3,1750.4 1310.5,1751.4 1310.8,1752.3 1311.1,1753.1 1311.3,1753.9 1311.6,1754.6 1311.9,1755.2 1312.2,1755.8 1312.4,1756.3 1312.7,1756.8 1313.0,1757.2 1313.3,1757.6 1313.5,1758.0 1313.8,1758.3 1314.1,1758.6 1314.4,1758.8 1314.6,1759.0 1314.9,1759.2 1315.2,1759.4 1315.5,1759.6 1315.7,1759.7 1316.0,1759.8 1316.3,1760.0 1316.6,1760.1 1316.8,1760.1 1317.1,1760.2 1317.4,1760.3 1317.7,1760.3"/>
<polyline fill="none" stroke="#ff4a12" stroke-width="2.0" stroke-linejoin="round" stroke-linecap="round" points="1129.4,1748.8 1129.5,1748.8 1129.6,1748.8 1129.7,1748.8 1129.7,1748.8 1129.8,1748.9 1129.9,1748.9 1130.0,1748.9 1130.1,1748.9 1130.2,1749.0 1130.3,1749.0 1130.3,1749.1 1130.4,1749.1 1130.5,1749.2 1130.6,1749.2 1130.7,1749.3 1130.8,1749.3 1130.9,1749.4 1131.0,1749.5 1131.0,1749.5 1131.1,1749.6 1131.2,1749.7 1131.3,1749.8 1131.4,1749.9 1131.5,1749.9 1131.6,1750.0 1131.6,1750.1 1131.7,1750.2 1131.8,1750.3 1131.9,1750.4 1132.0,1750.5 1132.1,1750.6 1132.2,1750.8 1132.2,1750.9 1132.3,1751.0 1132.4,1751.1 1132.5,1751.2 1132.6,1751.3 1132.7,1751.5 1132.8,1751.6 1132.8,1751.7 1132.9,1751.8 1133.0,1752.0 1133.1,1752.1 1133.2,1752.2 1133.3,1752.3 1133.4,1752.5 1133.4,1752.6 1133.5,1752.7 1133.6,1752.9 1133.7,1753.0 1133.8,1753.1 1133.9,1753.3 1134.0,1753.4 1134.1,1753.5 1134.1,1753.7 1134.2,1753.8 1134.3,1753.9 1134.4,1754.1 1134.5,1754.2 1134.6,1754.3 1134.7,1754.5 1134.7,1754.6 1134.8,1754.7 1134.9,1754.9 1135.0,1755.0 1135.1,1755.1 1135.2,1755.3 1135.3,1755.4 1135.3,1755.5 1135.4,1755.6 1135.5,1755.7 1135.6,1755.9 1135.7,1756.0 1135.8,1756.1 1135.9,1756.2 1135.9,1756.3 1136.0,1756.5 1136.1,1756.6 1136.2,1756.7 1136.3,1756.8 1136.4,1756.9 1136.5,1757.0 1136.6,1757.1 1136.6,1757.2 1136.7,1757.3 1136.8,1757.4 1136.9,1757.5 1137.0,1757.6 1137.1,1757.7 1137.2,1757.8 1137.2,1757.9 1137.3,1758.0 1137.4,1758.1 1137.5,1758.1 1137.6,1758.2 1137.7,1758.3 1137.8,1758.4 1137.8,1758.5 1137.9,1758.5 1138.0,1758.6 1138.1,1758.7 1138.2,1758.7 1138.3,1758.8 1138.4,1758.9 1138.4,1758.9 1138.5,1759.0 1138.6,1759.1 1138.7,1759.1 1138.8,1759.2 1138.9,1759.2 1139.0,1759.3 1139.1,1759.4 1139.1,1759.4 1139.2,1759.5 1139.3,1759.5 1139.4,1759.6 1139.5,1759.6 1139.6,1759.6 1139.7,1759.7 1139.7,1759.7 1139.8,1759.8 1139.9,1759.8 1140.0,1759.8 1140.1,1759.9 1140.2,1759.9 1140.3,1759.9 1140.3,1760.0 1140.4,1760.0 1140.5,1760.0 1140.6,1760.1 1140.7,1760.1 1140.8,1760.1 1140.9,1760.1 1140.9,1760.2 1141.0,1760.2 1141.1,1760.2 1141.2,1760.2 1141.3,1760.3 1141.4,1760.3 1141.5,1760.3 1141.5,1760.3 1141.6,1760.3 1141.7,1760.4 1141.8,1760.4 1141.9,1760.4 1142.0,1760.4 1142.1,1760.4 1142.2,1760.4 1142.2,1760.4 1142.3,1760.5 1142.4,1760.5 1142.5,1760.5 1142.6,1760.5 1142.7,1760.5 1142.8,1760.5 1142.8,1760.5 1142.9,1760.5 1143.0,1760.5 1143.1,1760.6"/>
</g>
<rect x="1119.30" y="1522.00" width="230.00" height="238.70" fill="none" stroke="#cfcfcf" stroke-width="2.0"/>
<text x="1232.80" y="1513.80" class="t" font-size="26.6">Feature9</text>
<text x="1129.40" y="1785.40" class="xt" font-size="18.4">0</text>
<text x="1213.45" y="1785.40" class="xt" font-size="18.4">10</text>
<text x="1297.50" y="1785.40" class="xt" font-size="18.4">20</text>
<text x="1234.30" y="1809.90" class="xl" font-size="22.9">Measurement Value</text>
<text x="1108.10" y="1767.10" class="yt" font-size="18.4">0</text>
<text x="1108.10" y="1698.80" class="yt" font-size="18.4">2000</text>
<text x="1108.10" y="1630.50" class="yt" font-size="18.4">4000</text>
<text x="1108.10" y="1562.20" class="yt" font-size="18.4">6000</text>
<text transform="translate(1059.37,1643.85) rotate(-90)" x="0" y="0" class="yl" font-size="22.9">Frequency</text>
<line x1="1472.40" y1="1522.00" x2="1472.40" y2="1760.70" class="g"/><line x1="1585.70" y1="1522.00" x2="1585.70" y2="1760.70" class="g"/><line x1="1462.10" y1="1706.50" x2="1692.10" y2="1706.50" class="g"/><line x1="1462.10" y1="1652.30" x2="1692.10" y2="1652.30" class="g"/><line x1="1462.10" y1="1598.10" x2="1692.10" y2="1598.10" class="g"/><line x1="1462.10" y1="1543.90" x2="1692.10" y2="1543.90" class="g"/>
<clipPath id="cb10"><rect x="1462.10" y="1522.00" width="230.00" height="238.70"/></clipPath>
<g clip-path="url(#cb10)">
<g fill="#ffa585"><rect x="1472.40" y="1647.50" width="4.42" height="113.20"/><rect x="1651.41" y="1757.45" width="2.83" height="3.25"/><rect x="1655.95" y="1727.91" width="2.83" height="32.79"/><rect x="1661.61" y="1533.06" width="3.40" height="227.64"/></g>
<polyline fill="none" stroke="#ff4a12" stroke-width="2.0" stroke-linejoin="round" stroke-linecap="round" points="1625.4,1760.2 1625.7,1760.2 1626.1,1760.2 1626.4,1760.1 1626.8,1760.1 1627.1,1760.0 1627.5,1759.9 1627.8,1759.9 1628.2,1759.8 1628.6,1759.7 1628.9,1759.6 1629.3,1759.5 1629.6,1759.5 1630.0,1759.3 1630.3,1759.2 1630.7,1759.1 1631.1,1759.0 1631.4,1758.9 1631.8,1758.7 1632.1,1758.6 1632.5,1758.4 1632.8,1758.2 1633.2,1758.1 1633.5,1757.9 1633.9,1757.7 1634.3,1757.4 1634.6,1757.2 1635.0,1757.0 1635.3,1756.7 1635.7,1756.5 1636.0,1756.2 1636.4,1755.9 1636.8,1755.6 1637.1,1755.2 1637.5,1754.9 1637.8,1754.5 1638.2,1754.2 1638.5,1753.8 1638.9,1753.4 1639.3,1753.0 1639.6,1752.5 1640.0,1752.1 1640.3,1751.6 1640.7,1751.1 1641.0,1750.6 1641.4,1750.1 1641.7,1749.5 1642.1,1749.0 1642.5,1748.4 1642.8,1747.8 1643.2,1747.2 1643.5,1746.6 1643.9,1746.0 1644.2,1745.3 1644.6,1744.6 1645.0,1744.0 1645.3,1743.3 1645.7,1742.6 1646.0,1741.8 1646.4,1741.1 1646.7,1740.4 1647.1,1739.6 1647.4,1738.9 1647.8,1738.1 1648.2,1737.3 1648.5,1736.6 1648.9,1735.8 1649.2,1735.0 1649.6,1734.2 1649.9,1733.4 1650.3,1732.7 1650.7,1731.9 1651.0,1731.1 1651.4,1730.4 1651.7,1729.6 1652.1,1728.9 1652.4,1728.1 1652.8,1727.4 1653.1,1726.7 1653.5,1726.0 1653.9,1725.4 1654.2,1724.7 1654.6,1724.1 1654.9,1723.5 1655.3,1722.9 1655.6,1722.3 1656.0,1721.8 1656.4,1721.3 1656.7,1720.8 1657.1,1720.4 1657.4,1720.0 1657.8,1719.6 1658.1,1719.3 1658.5,1719.0 1658.8,1718.7 1659.2,1718.4 1659.6,1718.2 1659.9,1718.1 1660.3,1718.0 1660.6,1717.9 1661.0,1717.8 1661.3,1717.8 1661.7,1717.8 1662.1,1717.9 1662.4,1718.0 1662.8,1718.1 1663.1,1718.3 1663.5,1718.5 1663.8,1718.8 1664.2,1719.1 1664.5,1719.4 1664.9,1719.8 1665.3,1720.1 1665.6,1720.6 1666.0,1721.0 1666.3,1721.5 1666.7,1722.0 1667.0,1722.6 1667.4,1723.1 1667.8,1723.7 1668.1,1724.3 1668.5,1725.0 1668.8,1725.6 1669.2,1726.3 1669.5,1727.0 1669.9,1727.7 1670.2,1728.4 1670.6,1729.2 1671.0,1729.9 1671.3,1730.7 1671.7,1731.4 1672.0,1732.2 1672.4,1733.0 1672.7,1733.7 1673.1,1734.5 1673.5,1735.3 1673.8,1736.1 1674.2,1736.9 1674.5,1737.6 1674.9,1738.4 1675.2,1739.2 1675.6,1739.9 1675.9,1740.7 1676.3,1741.4 1676.7,1742.1 1677.0,1742.8 1677.4,1743.5 1677.7,1744.2 1678.1,1744.9 1678.4,1745.6 1678.8,1746.2 1679.2,1746.8 1679.5,1747.5 1679.9,1748.1 1680.2,1748.6 1680.6,1749.2 1680.9,1749.8 1681.3,1750.3 1681.6,1750.8 1682.0,1751.3"/>
<polyline fill="none" stroke="#ff4a12" stroke-width="2.0" stroke-linejoin="round" stroke-linecap="round" points="1472.4,1742.9 1472.6,1742.8 1472.8,1742.7 1473.0,1742.6 1473.2,1742.5 1473.4,1742.5 1473.6,1742.4 1473.8,1742.3 1474.0,1742.3 1474.2,1742.2 1474.4,1742.2 1474.6,1742.1 1474.8,1742.1 1475.0,1742.0 1475.2,1742.0 1475.4,1742.0 1475.6,1742.0 1475.8,1742.0 1476.0,1742.0 1476.2,1742.0 1476.4,1742.0 1476.6,1742.1 1476.8,1742.1 1477.0,1742.1 1477.2,1742.2 1477.4,1742.2 1477.6,1742.3 1477.8,1742.3 1478.0,1742.4 1478.2,1742.5 1478.4,1742.6 1478.7,1742.6 1478.9,1742.7 1479.1,1742.8 1479.3,1742.9 1479.5,1743.1 1479.7,1743.2 1479.9,1743.3 1480.1,1743.4 1480.3,1743.5 1480.5,1743.7 1480.7,1743.8 1480.9,1744.0 1481.1,1744.1 1481.3,1744.3 1481.5,1744.4 1481.7,1744.6 1481.9,1744.8 1482.1,1744.9 1482.3,1745.1 1482.5,1745.3 1482.7,1745.5 1482.9,1745.6 1483.1,1745.8 1483.3,1746.0 1483.5,1746.2 1483.7,1746.4 1483.9,1746.6 1484.1,1746.8 1484.3,1747.0 1484.5,1747.2 1484.7,1747.4 1484.9,1747.6 1485.1,1747.8 1485.3,1748.0 1485.5,1748.3 1485.7,1748.5 1485.9,1748.7 1486.1,1748.9 1486.3,1749.1 1486.5,1749.3 1486.7,1749.5 1486.9,1749.7 1487.1,1749.9 1487.3,1750.2 1487.5,1750.4 1487.7,1750.6 1487.9,1750.8 1488.1,1751.0 1488.3,1751.2 1488.5,1751.4 1488.7,1751.6 1488.9,1751.8 1489.1,1752.0 1489.3,1752.2 1489.5,1752.4 1489.7,1752.6 1489.9,1752.8 1490.1,1753.0 1490.3,1753.2 1490.5,1753.4 1490.8,1753.6 1491.0,1753.8 1491.2,1753.9 1491.4,1754.1 1491.6,1754.3 1491.8,1754.5 1492.0,1754.6 1492.2,1754.8 1492.4,1755.0 1492.6,1755.1 1492.8,1755.3 1493.0,1755.5 1493.2,1755.6 1493.4,1755.8 1493.6,1755.9 1493.8,1756.1 1494.0,1756.2 1494.2,1756.3 1494.4,1756.5 1494.6,1756.6 1494.8,1756.8 1495.0,1756.9 1495.2,1757.0 1495.4,1757.1 1495.6,1757.3 1495.8,1757.4 1496.0,1757.5 1496.2,1757.6 1496.4,1757.7 1496.6,1757.8 1496.8,1757.9 1497.0,1758.0 1497.2,1758.1 1497.4,1758.2 1497.6,1758.3 1497.8,1758.4 1498.0,1758.5 1498.2,1758.6 1498.4,1758.6 1498.6,1758.7 1498.8,1758.8 1499.0,1758.9 1499.2,1758.9 1499.4,1759.0 1499.6,1759.1 1499.8,1759.2 1500.0,1759.2 1500.2,1759.3 1500.4,1759.3 1500.6,1759.4 1500.8,1759.4 1501.0,1759.5 1501.2,1759.6 1501.4,1759.6 1501.6,1759.7 1501.8,1759.7 1502.0,1759.7 1502.2,1759.8 1502.4,1759.8 1502.6,1759.9 1502.9,1759.9 1503.1,1759.9 1503.3,1760.0 1503.5,1760.0 1503.7,1760.0 1503.9,1760.1 1504.1,1760.1 1504.3,1760.1 1504.5,1760.2"/>
</g>
<rect x="1462.10" y="1522.00" width="230.00" height="238.70" fill="none" stroke="#cfcfcf" stroke-width="2.0"/>
<text x="1575.60" y="1513.80" class="t" font-size="26.6">Feature10</text>
<text x="1472.40" y="1785.40" class="xt" font-size="18.4">0</text>
<text x="1585.70" y="1785.40" class="xt" font-size="18.4">10</text>
<text x="1577.10" y="1809.90" class="xl" font-size="22.9">Measurement Value</text>
<text x="1450.90" y="1767.10" class="yt" font-size="18.4">0</text>
<text x="1450.90" y="1712.90" class="yt" font-size="18.4">2000</text>
<text x="1450.90" y="1658.70" class="yt" font-size="18.4">4000</text>
<text x="1450.90" y="1604.50" class="yt" font-size="18.4">6000</text>
<text x="1450.90" y="1550.30" class="yt" font-size="18.4">8000</text>
<text transform="translate(1402.17,1643.85) rotate(-90)" x="0" y="0" class="yl" font-size="22.9">Frequency</text>
<line x1="101.10" y1="1866.20" x2="101.10" y2="2104.90" class="g"/><line x1="161.93" y1="1866.20" x2="161.93" y2="2104.90" class="g"/><line x1="222.75" y1="1866.20" x2="222.75" y2="2104.90" class="g"/><line x1="283.57" y1="1866.20" x2="283.57" y2="2104.90" class="g"/><line x1="90.90" y1="2055.00" x2="320.90" y2="2055.00" class="g"/><line x1="90.90" y1="2005.10" x2="320.90" y2="2005.10" class="g"/><line x1="90.90" y1="1955.20" x2="320.90" y2="1955.20" class="g"/><line x1="90.90" y1="1905.30" x2="320.90" y2="1905.30" class="g"/>
<clipPath id="cb11"><rect x="90.90" y="1866.20" width="230.00" height="238.70"/></clipPath>
<g clip-path="url(#cb11)">
<g fill="#ffa585"><rect x="101.83" y="2089.93" width="3.65" height="14.97"/><rect x="285.03" y="2102.16" width="2.92" height="2.74"/><rect x="290.14" y="1878.60" width="3.41" height="226.30"/><rect x="295.01" y="2003.40" width="3.65" height="101.50"/></g>
<polyline fill="none" stroke="#ff4a12" stroke-width="2.0" stroke-linejoin="round" stroke-linecap="round" points="101.1,2098.5 102.4,2098.9 103.7,2100.0 105.0,2101.3 106.3,2102.6 107.7,2103.6 109.0,2104.3 110.3,2104.6 111.6,2104.8 112.9,2104.9 114.2,2104.9 115.5,2104.9 116.8,2104.9 118.1,2104.9 119.5,2104.9 120.8,2104.9 122.1,2104.9 123.4,2104.9 124.7,2104.9 126.0,2104.9 127.3,2104.9 128.6,2104.9 130.0,2104.9 131.3,2104.9 132.6,2104.9 133.9,2104.9 135.2,2104.9 136.5,2104.9 137.8,2104.9 139.1,2104.9 140.4,2104.9 141.8,2104.9 143.1,2104.9 144.4,2104.9 145.7,2104.9 147.0,2104.9 148.3,2104.9 149.6,2104.9 150.9,2104.9 152.2,2104.9 153.6,2104.9 154.9,2104.9 156.2,2104.9 157.5,2104.9 158.8,2104.9 160.1,2104.9 161.4,2104.9 162.7,2104.9 164.0,2104.9 165.4,2104.9 166.7,2104.9 168.0,2104.9 169.3,2104.9 170.6,2104.9 171.9,2104.9 173.2,2104.9 174.5,2104.9 175.8,2104.9 177.2,2104.9 178.5,2104.9 179.8,2104.9 181.1,2104.9 182.4,2104.9 183.7,2104.9 185.0,2104.9 186.3,2104.9 187.7,2104.9 189.0,2104.9 190.3,2104.9 191.6,2104.9 192.9,2104.9 194.2,2104.9 195.5,2104.9 196.8,2104.9 198.1,2104.9 199.5,2104.9 200.8,2104.9 202.1,2104.9 203.4,2104.9 204.7,2104.9 206.0,2104.9 207.3,2104.9 208.6,2104.9 209.9,2104.9 211.3,2104.9 212.6,2104.9 213.9,2104.9 215.2,2104.9 216.5,2104.9 217.8,2104.9 219.1,2104.9 220.4,2104.9 221.7,2104.9 223.1,2104.9 224.4,2104.9 225.7,2104.9 227.0,2104.9 228.3,2104.9 229.6,2104.9 230.9,2104.9 232.2,2104.9 233.5,2104.9 234.9,2104.9 236.2,2104.9 237.5,2104.9 238.8,2104.9 240.1,2104.9 241.4,2104.9 242.7,2104.9 244.0,2104.9 245.4,2104.9 246.7,2104.9 248.0,2104.9 249.3,2104.9 250.6,2104.9 251.9,2104.9 253.2,2104.9 254.5,2104.9 255.8,2104.9 257.2,2104.9 258.5,2104.9 259.8,2104.9 261.1,2104.9 262.4,2104.9 263.7,2104.9 265.0,2104.9 266.3,2104.9 267.6,2104.8 269.0,2104.8 270.3,2104.6 271.6,2104.4 272.9,2104.0 274.2,2103.2 275.5,2102.0 276.8,2100.0 278.1,2097.1 279.4,2092.8 280.8,2087.0 282.1,2079.3 283.4,2069.9 284.7,2058.7 286.0,2046.3 287.3,2033.4 288.6,2020.8 289.9,2009.8 291.2,2001.2 292.6,1995.9 293.9,1994.5 295.2,1997.3 296.5,2004.0 297.8,2013.9 299.1,2026.2 300.4,2039.6 301.7,2053.0 303.1,2065.5 304.4,2076.3 305.7,2085.1 307.0,2091.8 308.3,2096.6 309.6,2099.8"/>
</g>
<rect x="90.90" y="1866.20" width="230.00" height="238.70" fill="none" stroke="#cfcfcf" stroke-width="2.0"/>
<line x1="101.10" y1="2104.30" x2="309.61" y2="2104.30" stroke="#f4a081" stroke-width="1.6"/>
<text x="204.40" y="1858.00" class="t" font-size="26.6">Feature11</text>
<text x="101.10" y="2129.60" class="xt" font-size="18.4">0.0</text>
<text x="161.93" y="2129.60" class="xt" font-size="18.4">2.5</text>
<text x="222.75" y="2129.60" class="xt" font-size="18.4">5.0</text>
<text x="283.57" y="2129.60" class="xt" font-size="18.4">7.5</text>
<text x="205.90" y="2154.10" class="xl" font-size="22.9">Measurement Value</text>
<text x="79.70" y="2111.30" class="yt" font-size="18.4">0</text>
<text x="79.70" y="2061.40" class="yt" font-size="18.4">2000</text>
<text x="79.70" y="2011.50" class="yt" font-size="18.4">4000</text>
<text x="79.70" y="1961.60" class="yt" font-size="18.4">6000</text>
<text x="79.70" y="1911.70" class="yt" font-size="18.4">8000</text>
<text transform="translate(30.97,1988.05) rotate(-90)" x="0" y="0" class="yl" font-size="22.9">Frequency</text>
<line x1="444.10" y1="1866.20" x2="444.10" y2="2104.90" class="g"/><line x1="510.24" y1="1866.20" x2="510.24" y2="2104.90" class="g"/><line x1="576.38" y1="1866.20" x2="576.38" y2="2104.90" class="g"/><line x1="642.52" y1="1866.20" x2="642.52" y2="2104.90" class="g"/><line x1="433.70" y1="2036.90" x2="663.70" y2="2036.90" class="g"/><line x1="433.70" y1="1968.90" x2="663.70" y2="1968.90" class="g"/><line x1="433.70" y1="1900.90" x2="663.70" y2="1900.90" class="g"/>
<clipPath id="cb12"><rect x="433.70" y="1866.20" width="230.00" height="238.70"/></clipPath>
<g clip-path="url(#cb12)">
<g fill="#ffa585"><rect x="444.76" y="2084.84" width="3.31" height="20.06"/><rect x="622.35" y="2068.32" width="2.98" height="36.58"/><rect x="627.64" y="1878.60" width="2.98" height="226.30"/><rect x="633.26" y="1983.21" width="3.31" height="121.69"/><rect x="638.22" y="2045.20" width="3.64" height="59.70"/></g>
<polyline fill="none" stroke="#ff4a12" stroke-width="2.0" stroke-linejoin="round" stroke-linecap="round" points="444.1,2097.8 445.4,2098.2 446.7,2099.2 448.0,2100.5 449.3,2101.9 450.7,2103.1 452.0,2103.9 453.3,2104.4 454.6,2104.7 455.9,2104.8 457.2,2104.9 458.5,2104.9 459.8,2104.9 461.1,2104.9 462.4,2104.9 463.8,2104.9 465.1,2104.9 466.4,2104.9 467.7,2104.9 469.0,2104.9 470.3,2104.9 471.6,2104.9 472.9,2104.9 474.2,2104.9 475.5,2104.9 476.9,2104.9 478.2,2104.9 479.5,2104.9 480.8,2104.9 482.1,2104.9 483.4,2104.9 484.7,2104.9 486.0,2104.9 487.3,2104.9 488.7,2104.9 490.0,2104.9 491.3,2104.9 492.6,2104.9 493.9,2104.9 495.2,2104.9 496.5,2104.9 497.8,2104.9 499.1,2104.9 500.4,2104.9 501.8,2104.9 503.1,2104.9 504.4,2104.9 505.7,2104.9 507.0,2104.9 508.3,2104.9 509.6,2104.9 510.9,2104.9 512.2,2104.9 513.5,2104.9 514.9,2104.9 516.2,2104.9 517.5,2104.9 518.8,2104.9 520.1,2104.9 521.4,2104.9 522.7,2104.9 524.0,2104.9 525.3,2104.9 526.7,2104.9 528.0,2104.9 529.3,2104.9 530.6,2104.9 531.9,2104.9 533.2,2104.9 534.5,2104.9 535.8,2104.9 537.1,2104.9 538.4,2104.9 539.8,2104.9 541.1,2104.9 542.4,2104.9 543.7,2104.9 545.0,2104.9 546.3,2104.9 547.6,2104.9 548.9,2104.9 550.2,2104.9 551.5,2104.9 552.9,2104.9 554.2,2104.9 555.5,2104.9 556.8,2104.9 558.1,2104.9 559.4,2104.9 560.7,2104.9 562.0,2104.9 563.3,2104.9 564.6,2104.9 566.0,2104.9 567.3,2104.9 568.6,2104.9 569.9,2104.9 571.2,2104.9 572.5,2104.9 573.8,2104.9 575.1,2104.9 576.4,2104.9 577.8,2104.9 579.1,2104.9 580.4,2104.9 581.7,2104.9 583.0,2104.9 584.3,2104.9 585.6,2104.9 586.9,2104.9 588.2,2104.9 589.5,2104.9 590.9,2104.9 592.2,2104.9 593.5,2104.8 594.8,2104.8 596.1,2104.7 597.4,2104.6 598.7,2104.5 600.0,2104.4 601.3,2104.3 602.6,2104.1 604.0,2103.9 605.3,2103.8 606.6,2103.7 607.9,2103.5 609.2,2103.5 610.5,2103.4 611.8,2103.2 613.1,2102.9 614.4,2102.2 615.8,2100.7 617.1,2098.2 618.4,2094.0 619.7,2087.4 621.0,2078.1 622.3,2065.8 623.6,2050.6 624.9,2033.4 626.2,2015.6 627.5,1999.3 628.9,1986.6 630.2,1979.3 631.5,1978.7 632.8,1984.7 634.1,1996.5 635.4,2012.4 636.7,2030.0 638.0,2047.6 639.3,2063.3 640.6,2076.3 642.0,2086.3 643.3,2093.4 644.6,2098.2 645.9,2101.2 647.2,2103.0 648.5,2103.9 649.8,2104.4 651.1,2104.7 652.4,2104.8"/>
</g>
<rect x="433.70" y="1866.20" width="230.00" height="238.70" fill="none" stroke="#cfcfcf" stroke-width="2.0"/>
<line x1="444.10" y1="2104.30" x2="652.44" y2="2104.30" stroke="#f4a081" stroke-width="1.6"/>
<text x="547.20" y="1858.00" class="t" font-size="26.6">Feature12</text>
<text x="444.10" y="2129.60" class="xt" font-size="18.4">0</text>
<text x="510.24" y="2129.60" class="xt" font-size="18.4">2</text>
<text x="576.38" y="2129.60" class="xt" font-size="18.4">4</text>
<text x="642.52" y="2129.60" class="xt" font-size="18.4">6</text>
<text x="548.70" y="2154.10" class="xl" font-size="22.9">Measurement Value</text>
<text x="422.50" y="2111.30" class="yt" font-size="18.4">0</text>
<text x="422.50" y="2043.30" class="yt" font-size="18.4">2000</text>
<text x="422.50" y="1975.30" class="yt" font-size="18.4">4000</text>
<text x="422.50" y="1907.30" class="yt" font-size="18.4">6000</text>
<text transform="translate(373.77,1988.05) rotate(-90)" x="0" y="0" class="yl" font-size="22.9">Frequency</text>
<line x1="786.90" y1="1866.20" x2="786.90" y2="2104.90" class="g"/><line x1="867.30" y1="1866.20" x2="867.30" y2="2104.90" class="g"/><line x1="947.70" y1="1866.20" x2="947.70" y2="2104.90" class="g"/><line x1="776.50" y1="2056.10" x2="1006.50" y2="2056.10" class="g"/><line x1="776.50" y1="2007.30" x2="1006.50" y2="2007.30" class="g"/><line x1="776.50" y1="1958.50" x2="1006.50" y2="1958.50" class="g"/><line x1="776.50" y1="1909.70" x2="1006.50" y2="1909.70" class="g"/>
<clipPath id="cb13"><rect x="776.50" y="1866.20" width="230.00" height="238.70"/></clipPath>
<g clip-path="url(#cb13)">
<g fill="#ffa585"><rect x="862.48" y="2097.58" width="4.02" height="7.32"/><rect x="866.50" y="1882.86" width="4.82" height="222.04"/><rect x="871.32" y="1967.99" width="4.02" height="136.91"/></g>
<polyline fill="none" stroke="#ff4a12" stroke-width="2.0" stroke-linejoin="round" stroke-linecap="round" points="786.9,2098.7 788.2,2097.9 789.4,2097.9 790.7,2098.5 792.0,2099.6 793.2,2100.9 794.5,2102.2 795.7,2103.2 797.0,2104.0 798.3,2104.4 799.5,2104.7 800.8,2104.8 802.1,2104.9 803.3,2104.9 804.6,2104.9 805.9,2104.9 807.1,2104.9 808.4,2104.9 809.7,2104.9 810.9,2104.9 812.2,2104.9 813.4,2104.9 814.7,2104.9 816.0,2104.9 817.2,2104.9 818.5,2104.9 819.8,2104.9 821.0,2104.9 822.3,2104.9 823.6,2104.9 824.8,2104.9 826.1,2104.9 827.4,2104.9 828.6,2104.9 829.9,2104.9 831.1,2104.9 832.4,2104.9 833.7,2104.9 834.9,2104.9 836.2,2104.9 837.5,2104.9 838.7,2104.9 840.0,2104.9 841.3,2104.9 842.5,2104.9 843.8,2104.9 845.1,2104.9 846.3,2104.9 847.6,2104.9 848.8,2104.9 850.1,2104.9 851.4,2104.9 852.6,2104.8 853.9,2104.4 855.2,2103.8 856.4,2103.1 857.7,2103.0 859.0,2103.4 860.2,2103.7 861.5,2102.1 862.7,2095.1 864.0,2075.7 865.3,2035.7 866.5,1974.9 867.8,1911.9 869.1,1878.1 870.3,1893.9 871.6,1949.6 872.9,2014.5 874.1,2063.2 875.4,2089.7 876.7,2100.5 877.9,2103.9 879.2,2104.7 880.4,2104.9 881.7,2104.9 883.0,2104.9 884.2,2104.9 885.5,2104.9 886.8,2104.9 888.0,2104.9 889.3,2104.9 890.6,2104.9 891.8,2104.9 893.1,2104.9 894.4,2104.9 895.6,2104.9 896.9,2104.9 898.1,2104.9 899.4,2104.9 900.7,2104.9 901.9,2104.9 903.2,2104.9 904.5,2104.9 905.7,2104.9 907.0,2104.9 908.3,2104.9 909.5,2104.9 910.8,2104.9 912.1,2104.9 913.3,2104.9 914.6,2104.9 915.8,2104.9 917.1,2104.9 918.4,2104.9 919.6,2104.9 920.9,2104.9 922.2,2104.9 923.4,2104.9 924.7,2104.9 926.0,2104.9 927.2,2104.9 928.5,2104.9 929.7,2104.9 931.0,2104.9 932.3,2104.9 933.5,2104.9 934.8,2104.9 936.1,2104.9 937.3,2104.9 938.6,2104.9 939.9,2104.9 941.1,2104.9 942.4,2104.9 943.7,2104.9 944.9,2104.9 946.2,2104.9 947.4,2104.9 948.7,2104.9 950.0,2104.9 951.2,2104.9 952.5,2104.9 953.8,2104.9 955.0,2104.9 956.3,2104.9 957.6,2104.9 958.8,2104.9 960.1,2104.9 961.4,2104.9 962.6,2104.9 963.9,2104.9 965.1,2104.9 966.4,2104.9 967.7,2104.9 968.9,2104.9 970.2,2104.9 971.5,2104.9 972.7,2104.9 974.0,2104.9 975.3,2104.9 976.5,2104.9 977.8,2104.9 979.1,2104.9 980.3,2104.9 981.6,2104.9 982.8,2104.9 984.1,2104.9 985.4,2104.9 986.6,2104.9 987.9,2104.9"/>
</g>
<rect x="776.50" y="1866.20" width="230.00" height="238.70" fill="none" stroke="#cfcfcf" stroke-width="2.0"/>
<line x1="786.90" y1="2104.30" x2="987.90" y2="2104.30" stroke="#f4a081" stroke-width="1.6"/>
<text x="890.00" y="1858.00" class="t" font-size="26.6">Feature13</text>
<text x="786.90" y="2129.60" class="xt" font-size="18.4">0</text>
<text x="867.30" y="2129.60" class="xt" font-size="18.4">2</text>
<text x="947.70" y="2129.60" class="xt" font-size="18.4">4</text>
<text x="891.50" y="2154.10" class="xl" font-size="22.9">Measurement Value</text>
<text x="765.30" y="2111.30" class="yt" font-size="18.4">0</text>
<text x="765.30" y="2062.50" class="yt" font-size="18.4">2000</text>
<text x="765.30" y="2013.70" class="yt" font-size="18.4">4000</text>
<text x="765.30" y="1964.90" class="yt" font-size="18.4">6000</text>
<text x="765.30" y="1916.10" class="yt" font-size="18.4">8000</text>
<text transform="translate(716.57,1988.05) rotate(-90)" x="0" y="0" class="yl" font-size="22.9">Frequency</text>
<line x1="1129.40" y1="1866.20" x2="1129.40" y2="2104.90" class="g"/><line x1="1194.70" y1="1866.20" x2="1194.70" y2="2104.90" class="g"/><line x1="1260.00" y1="1866.20" x2="1260.00" y2="2104.90" class="g"/><line x1="1325.30" y1="1866.20" x2="1325.30" y2="2104.90" class="g"/><line x1="1119.30" y1="2043.30" x2="1349.30" y2="2043.30" class="g"/><line x1="1119.30" y1="1981.70" x2="1349.30" y2="1981.70" class="g"/><line x1="1119.30" y1="1920.10" x2="1349.30" y2="1920.10" class="g"/>
<clipPath id="cb14"><rect x="1119.30" y="1866.20" width="230.00" height="238.70"/></clipPath>
<g clip-path="url(#cb14)">
<polygon fill="#ffa585" points="1213.07,2104.90 1213.1,2096.8 1214.4,2068.9 1215.8,2016.1 1217.2,1938.2 1218.6,1897.3 1219.9,1877.2 1221.3,1896.5 1222.7,1936.3 1224.0,2000.3 1225.4,2022.6 1226.8,2012.8 1228.2,1997.2 1229.5,2001.1 1230.9,2025.5 1232.3,2055.5 1233.7,2082.2 1235.0,2096.0 1236.4,2103.6 1236.39,2104.90"/>
<path d="M1214.8 2104.9V2054.8M1216.6 2104.9V1969.4M1218.5 2104.9V1900.0M1220.3 2104.9V1882.4M1222.1 2104.9V1920.3M1224.0 2104.9V1995.9M1225.8 2104.9V2020.0M1227.6 2104.9V2003.4M1229.4 2104.9V2000.9M1231.3 2104.9V2033.4M1233.1 2104.9V2071.4M1234.9 2104.9V2095.0M1236.8 2104.9V2103.6" stroke="#fff" stroke-width="0.5" stroke-opacity="0.4" fill="none"/>
<g fill="#ffa585"><rect x="1218.73" y="1876.98" width="2.61" height="227.92"/></g>
<polyline fill="none" stroke="#ff4a12" stroke-width="2.0" stroke-linejoin="round" stroke-linecap="round" points="1129.4,2098.5 1130.8,2100.2 1132.1,2102.4 1133.5,2104.8 1134.9,2104.9 1136.3,2104.9 1137.6,2104.9 1139.0,2104.9 1140.4,2104.9 1141.7,2104.9 1143.1,2104.9 1144.5,2104.9 1145.9,2104.9 1147.2,2104.9 1148.6,2104.9 1150.0,2104.9 1151.3,2104.9 1152.7,2104.9 1154.1,2104.9 1155.5,2104.9 1156.8,2104.9 1158.2,2104.9 1159.6,2104.9 1160.9,2104.9 1162.3,2104.9 1163.7,2104.9 1165.1,2104.9 1166.4,2104.9 1167.8,2104.9 1169.2,2104.9 1170.6,2104.9 1171.9,2104.9 1173.3,2104.9 1174.7,2104.9 1176.0,2104.9 1177.4,2104.9 1178.8,2104.9 1180.2,2104.9 1181.5,2104.9 1182.9,2104.9 1184.3,2104.9 1185.6,2104.9 1187.0,2104.9 1188.4,2104.9 1189.8,2104.9 1191.1,2104.9 1192.5,2104.8 1193.9,2104.1 1195.2,2103.3 1196.6,2102.8 1198.0,2102.4 1199.4,2102.2 1200.7,2102.2 1202.1,2102.8 1203.5,2103.3 1204.8,2103.3 1206.2,2103.1 1207.6,2102.8 1209.0,2102.2 1210.3,2101.2 1211.7,2099.9 1213.1,2096.8 1214.4,2068.9 1215.8,2016.1 1217.2,1938.2 1218.6,1897.3 1219.9,1877.2 1221.3,1896.5 1222.7,1936.3 1224.0,2000.3 1225.4,2022.6 1226.8,2012.8 1228.2,1997.2 1229.5,2001.1 1230.9,2025.5 1232.3,2055.5 1233.7,2082.2 1235.0,2096.0 1236.4,2103.6 1237.8,2104.9 1239.1,2104.9 1240.5,2104.9 1241.9,2104.9 1243.3,2104.9 1244.6,2104.9 1246.0,2104.9 1247.4,2104.9 1248.7,2104.9 1250.1,2104.9 1251.5,2104.9 1252.9,2104.9 1254.2,2104.9 1255.6,2104.9 1257.0,2104.9 1258.3,2104.9 1259.7,2104.9 1261.1,2104.9 1262.5,2104.9 1263.8,2104.9 1265.2,2104.9 1266.6,2104.9 1267.9,2104.9 1269.3,2104.9 1270.7,2104.9 1272.1,2104.9 1273.4,2104.9 1274.8,2104.9 1276.2,2104.9 1277.5,2104.9 1278.9,2104.9 1280.3,2104.9 1281.7,2104.9 1283.0,2104.9 1284.4,2104.9 1285.8,2104.9 1287.1,2104.9 1288.5,2104.9 1289.9,2104.9 1291.3,2104.9 1292.6,2104.9 1294.0,2104.9 1295.4,2104.9 1296.7,2104.9 1298.1,2104.9 1299.5,2104.9 1300.9,2104.9 1302.2,2104.9 1303.6,2104.9 1305.0,2104.9 1306.4,2104.9 1307.7,2104.9 1309.1,2104.9 1310.5,2104.9 1311.8,2104.9 1313.2,2104.9 1314.6,2104.9 1316.0,2104.9 1317.3,2104.9 1318.7,2104.9 1320.1,2104.9 1321.4,2104.9 1322.8,2104.9 1324.2,2104.9 1325.6,2104.9 1326.9,2104.9 1328.3,2104.9 1329.7,2104.9 1331.0,2104.9 1332.4,2104.9 1333.8,2104.9 1335.2,2104.9 1336.5,2104.9 1337.9,2104.9 1339.3,2104.9 1340.6,2104.9 1342.0,2104.9 1343.4,2104.9 1344.8,2104.9 1346.1,2104.9 1347.5,2104.9"/>
</g>
<rect x="1119.30" y="1866.20" width="230.00" height="238.70" fill="none" stroke="#cfcfcf" stroke-width="2.0"/>
<line x1="1129.40" y1="2104.30" x2="1347.50" y2="2104.30" stroke="#f4a081" stroke-width="1.6"/>
<text x="1232.80" y="1858.00" class="t" font-size="26.6">Feature14</text>
<text x="1129.40" y="2129.60" class="xt" font-size="18.4">0.0</text>
<text x="1194.70" y="2129.60" class="xt" font-size="18.4">2.5</text>
<text x="1260.00" y="2129.60" class="xt" font-size="18.4">5.0</text>
<text x="1325.30" y="2129.60" class="xt" font-size="18.4">7.5</text>
<text x="1234.30" y="2154.10" class="xl" font-size="22.9">Measurement Value</text>
<text x="1108.10" y="2111.30" class="yt" font-size="18.4">0</text>
<text x="1108.10" y="2049.70" class="yt" font-size="18.4">2000</text>
<text x="1108.10" y="1988.10" class="yt" font-size="18.4">4000</text>
<text x="1108.10" y="1926.50" class="yt" font-size="18.4">6000</text>
<text transform="translate(1059.37,1988.05) rotate(-90)" x="0" y="0" class="yl" font-size="22.9">Frequency</text>
<line x1="1512.50" y1="1866.20" x2="1512.50" y2="2104.90" class="g"/><line x1="1571.50" y1="1866.20" x2="1571.50" y2="2104.90" class="g"/><line x1="1630.50" y1="1866.20" x2="1630.50" y2="2104.90" class="g"/><line x1="1689.50" y1="1866.20" x2="1689.50" y2="2104.90" class="g"/><line x1="1462.10" y1="2050.90" x2="1692.10" y2="2050.90" class="g"/><line x1="1462.10" y1="1996.90" x2="1692.10" y2="1996.90" class="g"/><line x1="1462.10" y1="1942.90" x2="1692.10" y2="1942.90" class="g"/><line x1="1462.10" y1="1888.90" x2="1692.10" y2="1888.90" class="g"/>
<clipPath id="cb15"><rect x="1462.10" y="1866.20" width="230.00" height="238.70"/></clipPath>
<g clip-path="url(#cb15)">
<g fill="#ffa585"><rect x="1509.90" y="2081.19" width="3.54" height="23.71"/><rect x="1598.64" y="2075.50" width="2.12" height="29.40"/><rect x="1600.76" y="1994.71" width="2.95" height="110.19"/><rect x="1603.71" y="1878.61" width="3.54" height="226.29"/><rect x="1607.25" y="2034.40" width="3.19" height="70.50"/><rect x="1613.98" y="2094.10" width="2.36" height="10.80"/></g>
<polyline fill="none" stroke="#ff4a12" stroke-width="2.0" stroke-linejoin="round" stroke-linecap="round" points="1472.4,2104.9 1473.7,2104.9 1475.0,2104.9 1476.3,2104.9 1477.6,2104.9 1478.9,2104.9 1480.3,2104.9 1481.6,2104.9 1482.9,2104.9 1484.2,2104.9 1485.5,2104.9 1486.8,2104.9 1488.1,2104.9 1489.5,2104.9 1490.8,2104.9 1492.1,2104.9 1493.4,2104.9 1494.7,2104.9 1496.0,2104.9 1497.3,2104.9 1498.7,2104.9 1500.0,2104.9 1501.3,2104.9 1502.6,2104.9 1503.9,2104.8 1505.2,2104.6 1506.5,2103.9 1507.8,2102.2 1509.2,2099.0 1510.5,2094.9 1511.8,2091.8 1513.1,2091.7 1514.4,2094.5 1515.7,2098.6 1517.0,2102.0 1518.4,2103.8 1519.7,2104.6 1521.0,2104.8 1522.3,2104.9 1523.6,2104.9 1524.9,2104.9 1526.2,2104.9 1527.6,2104.9 1528.9,2104.9 1530.2,2104.9 1531.5,2104.9 1532.8,2104.9 1534.1,2104.9 1535.4,2104.9 1536.7,2104.9 1538.1,2104.9 1539.4,2104.9 1540.7,2104.9 1542.0,2104.9 1543.3,2104.9 1544.6,2104.9 1545.9,2104.9 1547.3,2104.9 1548.6,2104.9 1549.9,2104.9 1551.2,2104.9 1552.5,2104.9 1553.8,2104.9 1555.1,2104.9 1556.4,2104.9 1557.8,2104.9 1559.1,2104.9 1560.4,2104.9 1561.7,2104.9 1563.0,2104.9 1564.3,2104.9 1565.6,2104.9 1567.0,2104.9 1568.3,2104.9 1569.6,2104.9 1570.9,2104.9 1572.2,2104.9 1573.5,2104.9 1574.8,2104.9 1576.2,2104.9 1577.5,2104.9 1578.8,2104.9 1580.1,2104.9 1581.4,2104.9 1582.7,2104.9 1584.0,2104.9 1585.3,2104.9 1586.7,2104.9 1588.0,2104.8 1589.3,2104.7 1590.6,2104.2 1591.9,2103.2 1593.2,2101.0 1594.5,2096.7 1595.9,2089.0 1597.2,2076.6 1598.5,2058.5 1599.8,2035.2 1601.1,2008.9 1602.4,1983.4 1603.7,1963.9 1605.1,1954.7 1606.4,1958.0 1607.7,1973.0 1609.0,1996.3 1610.3,2022.8 1611.6,2047.9 1612.9,2068.5 1614.2,2083.5 1615.6,2093.3 1616.9,2099.0 1618.2,2101.9 1619.5,2103.3 1620.8,2103.8 1622.1,2104.0 1623.4,2104.1 1624.8,2104.1 1626.1,2104.1 1627.4,2104.2 1628.7,2104.3 1630.0,2104.4 1631.3,2104.5 1632.6,2104.6 1634.0,2104.7 1635.3,2104.7 1636.6,2104.8 1637.9,2104.8 1639.2,2104.9 1640.5,2104.9 1641.8,2104.9 1643.1,2104.8 1644.5,2104.7 1645.8,2104.4 1647.1,2103.7 1648.4,2102.7 1649.7,2101.6 1651.0,2100.8 1652.3,2100.8 1653.7,2101.5 1655.0,2102.6 1656.3,2103.6 1657.6,2104.3 1658.9,2104.7 1660.2,2104.8 1661.5,2104.9 1662.8,2104.9 1664.2,2104.9 1665.5,2104.9 1666.8,2104.9 1668.1,2104.9 1669.4,2104.9 1670.7,2104.9 1672.0,2104.9 1673.4,2104.9 1674.7,2104.9 1676.0,2104.9 1677.3,2104.9 1678.6,2104.9 1679.9,2104.9 1681.2,2104.9"/>
</g>
<rect x="1462.10" y="1866.20" width="230.00" height="238.70" fill="none" stroke="#cfcfcf" stroke-width="2.0"/>
<line x1="1472.38" y1="2104.30" x2="1681.24" y2="2104.30" stroke="#f4a081" stroke-width="1.6"/>
<text x="1575.60" y="1858.00" class="t" font-size="26.6">Feature15</text>
<text x="1512.50" y="2129.60" class="xt" font-size="18.4">0</text>
<text x="1571.50" y="2129.60" class="xt" font-size="18.4">5</text>
<text x="1630.50" y="2129.60" class="xt" font-size="18.4">10</text>
<text x="1689.50" y="2129.60" class="xt" font-size="18.4">15</text>
<text x="1577.10" y="2154.10" class="xl" font-size="22.9">Measurement Value</text>
<text x="1450.90" y="2111.30" class="yt" font-size="18.4">0</text>
<text x="1450.90" y="2057.30" class="yt" font-size="18.4">2000</text>
<text x="1450.90" y="2003.30" class="yt" font-size="18.4">4000</text>
<text x="1450.90" y="1949.30" class="yt" font-size="18.4">6000</text>
<text x="1450.90" y="1895.30" class="yt" font-size="18.4">8000</text>
<text transform="translate(1402.17,1988.05) rotate(-90)" x="0" y="0" class="yl" font-size="22.9">Frequency</text>
<text x="857.3" y="1071.8" class="cap" font-size="45" letter-spacing="1.8">(a)</text>
<text x="857.7" y="2266.6" class="cap" font-size="45" letter-spacing="1.8">(b)</text>
</svg>
</body></html>
